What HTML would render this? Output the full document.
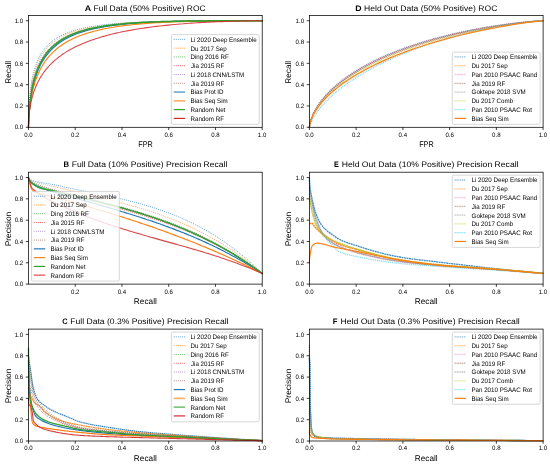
<!DOCTYPE html>
<html><head><meta charset="utf-8"><title>Figure</title>
<style>html,body{margin:0;padding:0;background:#fff;}svg{display:block;filter:blur(0.3px);}</style></head>
<body><svg text-rendering="geometricPrecision" width="550" height="466" viewBox="0 0 550 466" font-family="'Liberation Sans', sans-serif" fill="#000">
<rect width="550" height="466" fill="#fff"/>
<path d="M28.5,127.3L28.5,127.2L28.5,127.1L28.5,127.0L28.5,126.9L28.5,126.8L28.5,126.7L28.5,126.6L28.5,126.5L28.5,126.4L28.5,126.3L28.5,126.2L28.5,126.1L28.5,126.0L28.5,125.9L28.5,125.7L28.5,125.6L28.5,125.4L28.5,125.2L28.5,125.0L28.5,124.8L28.5,124.6L28.5,124.3L28.5,124.1L28.5,123.8L28.5,123.5L28.5,123.1L28.5,122.8L28.5,122.4L28.5,122.0L28.6,121.6L28.6,121.2L28.6,120.7L28.6,120.2L28.6,119.7L28.6,119.1L28.6,118.5L28.6,117.9L28.6,117.2L28.7,116.5L28.7,115.8L28.7,115.1L28.7,114.3L28.8,113.5L28.8,112.6L28.8,111.7L28.9,110.8L28.9,109.8L28.9,108.8L29.0,107.8L29.1,106.7L29.1,105.6L29.2,104.5L29.2,103.3L29.3,102.1L29.4,100.8L29.5,99.5L29.6,98.2L29.7,96.9L29.9,95.5L30.0,94.1L30.1,92.7L30.3,91.3L30.5,89.8L30.6,88.3L30.8,86.8L31.1,85.3L31.3,83.8L31.6,82.2L31.8,80.7L32.1,79.1L32.4,77.5L32.8,75.9L33.1,74.3L33.5,72.7L33.9,71.2L34.4,69.6L34.9,68.0L35.4,66.4L35.9,64.9L36.5,63.3L37.1,61.8L37.7,60.3L38.4,58.8L39.2,57.3L39.9,55.9L40.7,54.4L41.6,53.0L42.5,51.7L43.5,50.3L44.5,49.0L45.5,47.7L46.6,46.5L47.8,45.2L49.0,44.0L50.3,42.9L51.6,41.8L53.0,40.7L54.5,39.6L56.0,38.6L57.5,37.6L59.2,36.7L60.9,35.8L62.6,34.9L64.5,34.1L66.3,33.3L68.3,32.5L70.3,31.8L72.4,31.1L74.5,30.4L76.7,29.8L79.0,29.2L81.3,28.6L83.7,28.1L86.1,27.5L88.6,27.1L91.1,26.6L93.7,26.2L96.4,25.8L99.1,25.4L101.8,25.0L104.6,24.7L107.5,24.4L110.4,24.1L113.3,23.8L116.2,23.6L119.2,23.3L122.2,23.1L125.2,22.9L128.3,22.7L131.4,22.5L134.5,22.4L137.6,22.2L140.7,22.1L143.8,22.0L146.9,21.9L150.0,21.7L153.1,21.6L156.2,21.6L159.3,21.5L162.4,21.4L165.5,21.3L168.5,21.3L171.5,21.2L174.5,21.2L177.4,21.1L180.3,21.1L183.2,21.0L186.1,21.0L188.9,21.0L191.6,20.9L194.3,20.9L197.0,20.9L199.6,20.9L202.1,20.9L204.6,20.8L207.0,20.8L209.4,20.8L211.7,20.8L214.0,20.8L216.2,20.8L218.3,20.8L220.4,20.8L222.4,20.8L224.4,20.8L226.2,20.8L228.1,20.8L229.8,20.8L231.5,20.8L233.2,20.7L234.7,20.7L236.2,20.7L237.7,20.7L239.1,20.7L240.4,20.7L241.7,20.7L242.9,20.7L244.1,20.7L245.2,20.7L246.2,20.7L247.2,20.7L248.2,20.7L249.1,20.7L250.0,20.7L250.8,20.7L251.5,20.7L252.3,20.7L253.0,20.7L253.6,20.7L254.2,20.7L254.8,20.7L255.3,20.7L255.8,20.7L256.3,20.7L256.8,20.7L257.2,20.7L257.6,20.7L257.9,20.7L258.3,20.7L258.6,20.7L258.9,20.7L259.1,20.7L259.4,20.7L259.6,20.7L259.9,20.7L260.1,20.7L260.2,20.7L260.4,20.7L260.6,20.7L260.7,20.7L260.8,20.7L261.0,20.7L261.1,20.7L261.2,20.7L261.3,20.7L261.4,20.7L261.5,20.7L261.6,20.7L261.7,20.7L261.8,20.7L261.9,20.7L262.0,20.7L262.1,20.7L262.2,20.7" fill="none" stroke="#1f77b4" stroke-width="1.0" stroke-dasharray="0.9 1.2" stroke-opacity="0.75" stroke-linecap="butt" stroke-linejoin="round"/>
<path d="M28.5,127.3L28.5,127.2L28.5,127.1L28.5,127.0L28.5,126.9L28.5,126.8L28.5,126.7L28.5,126.6L28.5,126.5L28.5,126.4L28.5,126.3L28.5,126.2L28.5,126.1L28.5,126.0L28.5,125.9L28.5,125.7L28.5,125.6L28.5,125.4L28.5,125.2L28.5,125.0L28.5,124.8L28.5,124.6L28.5,124.4L28.5,124.1L28.5,123.8L28.5,123.5L28.5,123.2L28.5,122.9L28.5,122.5L28.6,122.1L28.6,121.7L28.6,121.3L28.6,120.8L28.6,120.3L28.6,119.8L28.6,119.3L28.6,118.7L28.6,118.1L28.7,117.4L28.7,116.8L28.7,116.1L28.7,115.3L28.8,114.6L28.8,113.7L28.8,112.9L28.9,112.0L28.9,111.1L28.9,110.2L29.0,109.2L29.1,108.2L29.1,107.1L29.2,106.0L29.2,104.9L29.3,103.7L29.4,102.5L29.5,101.3L29.6,100.1L29.7,98.8L29.9,97.5L30.0,96.1L30.1,94.7L30.3,93.3L30.5,91.9L30.6,90.5L30.8,89.0L31.1,87.5L31.3,86.0L31.6,84.5L31.8,82.9L32.1,81.4L32.4,79.8L32.8,78.3L33.1,76.7L33.5,75.1L33.9,73.5L34.4,72.0L34.9,70.4L35.4,68.8L35.9,67.3L36.5,65.7L37.1,64.2L37.7,62.6L38.4,61.1L39.2,59.6L39.9,58.1L40.7,56.7L41.6,55.3L42.5,53.8L43.5,52.5L44.5,51.1L45.5,49.8L46.6,48.5L47.8,47.2L49.0,46.0L50.3,44.8L51.6,43.6L53.0,42.5L54.5,41.4L56.0,40.3L57.5,39.3L59.2,38.3L60.9,37.3L62.6,36.4L64.5,35.5L66.3,34.6L68.3,33.8L70.3,33.0L72.4,32.3L74.5,31.5L76.7,30.9L79.0,30.2L81.3,29.6L83.7,29.0L86.1,28.4L88.6,27.9L91.1,27.4L93.7,26.9L96.4,26.5L99.1,26.1L101.8,25.7L104.6,25.3L107.5,24.9L110.4,24.6L113.3,24.3L116.2,24.0L119.2,23.8L122.2,23.5L125.2,23.3L128.3,23.1L131.4,22.9L134.5,22.7L137.6,22.5L140.7,22.4L143.8,22.2L146.9,22.1L150.0,21.9L153.1,21.8L156.2,21.7L159.3,21.6L162.4,21.5L165.5,21.5L168.5,21.4L171.5,21.3L174.5,21.3L177.4,21.2L180.3,21.2L183.2,21.1L186.1,21.1L188.9,21.0L191.6,21.0L194.3,21.0L197.0,20.9L199.6,20.9L202.1,20.9L204.6,20.9L207.0,20.9L209.4,20.8L211.7,20.8L214.0,20.8L216.2,20.8L218.3,20.8L220.4,20.8L222.4,20.8L224.4,20.8L226.2,20.8L228.1,20.8L229.8,20.8L231.5,20.8L233.2,20.8L234.7,20.8L236.2,20.7L237.7,20.7L239.1,20.7L240.4,20.7L241.7,20.7L242.9,20.7L244.1,20.7L245.2,20.7L246.2,20.7L247.2,20.7L248.2,20.7L249.1,20.7L250.0,20.7L250.8,20.7L251.5,20.7L252.3,20.7L253.0,20.7L253.6,20.7L254.2,20.7L254.8,20.7L255.3,20.7L255.8,20.7L256.3,20.7L256.8,20.7L257.2,20.7L257.6,20.7L257.9,20.7L258.3,20.7L258.6,20.7L258.9,20.7L259.1,20.7L259.4,20.7L259.6,20.7L259.9,20.7L260.1,20.7L260.2,20.7L260.4,20.7L260.6,20.7L260.7,20.7L260.8,20.7L261.0,20.7L261.1,20.7L261.2,20.7L261.3,20.7L261.4,20.7L261.5,20.7L261.6,20.7L261.7,20.7L261.8,20.7L261.9,20.7L262.0,20.7L262.1,20.7L262.2,20.7" fill="none" stroke="#ff7f0e" stroke-width="1.0" stroke-dasharray="0.9 1.2" stroke-opacity="0.75" stroke-linecap="butt" stroke-linejoin="round"/>
<path d="M28.5,127.3L28.5,127.2L28.5,127.1L28.5,127.0L28.5,126.9L28.5,126.8L28.5,126.7L28.5,126.6L28.5,126.5L28.5,126.4L28.5,126.3L28.5,126.2L28.5,126.1L28.5,126.0L28.5,125.8L28.5,125.7L28.5,125.5L28.5,125.4L28.5,125.2L28.5,125.0L28.5,124.7L28.5,124.5L28.5,124.3L28.5,124.0L28.5,123.7L28.6,123.4L28.6,123.0L28.6,122.7L28.6,122.3L28.6,121.9L28.6,121.5L28.6,121.0L28.6,120.5L28.6,120.0L28.7,119.5L28.7,118.9L28.7,118.3L28.7,117.6L28.8,116.9L28.8,116.2L28.8,115.5L28.9,114.7L28.9,113.9L28.9,113.1L29.0,112.2L29.1,111.2L29.1,110.3L29.2,109.3L29.2,108.2L29.3,107.2L29.4,106.1L29.5,104.9L29.6,103.8L29.7,102.5L29.9,101.3L30.0,100.0L30.1,98.7L30.3,97.4L30.5,96.0L30.6,94.6L30.8,93.2L31.1,91.7L31.3,90.2L31.6,88.7L31.8,87.2L32.1,85.7L32.4,84.1L32.8,82.5L33.1,81.0L33.5,79.4L33.9,77.8L34.4,76.2L34.9,74.6L35.4,73.0L35.9,71.4L36.5,69.8L37.1,68.2L37.7,66.6L38.4,65.0L39.2,63.4L39.9,61.9L40.7,60.4L41.6,58.8L42.5,57.3L43.5,55.9L44.5,54.4L45.5,53.0L46.6,51.6L47.8,50.3L49.0,48.9L50.3,47.6L51.6,46.3L53.0,45.1L54.5,43.9L56.0,42.7L57.5,41.6L59.2,40.5L60.9,39.5L62.6,38.4L64.5,37.4L66.3,36.5L68.3,35.6L70.3,34.7L72.4,33.9L74.5,33.1L76.7,32.3L79.0,31.6L81.3,30.9L83.7,30.2L86.1,29.6L88.6,29.0L91.1,28.4L93.7,27.9L96.4,27.4L99.1,26.9L101.8,26.4L104.6,26.0L107.5,25.6L110.4,25.2L113.3,24.9L116.2,24.5L119.2,24.2L122.2,24.0L125.2,23.7L128.3,23.4L131.4,23.2L134.5,23.0L137.6,22.8L140.7,22.6L143.8,22.4L146.9,22.3L150.0,22.1L153.1,22.0L156.2,21.9L159.3,21.8L162.4,21.7L165.5,21.6L168.5,21.5L171.5,21.4L174.5,21.4L177.4,21.3L180.3,21.2L183.2,21.2L186.1,21.1L188.9,21.1L191.6,21.1L194.3,21.0L197.0,21.0L199.6,21.0L202.1,20.9L204.6,20.9L207.0,20.9L209.4,20.9L211.7,20.9L214.0,20.8L216.2,20.8L218.3,20.8L220.4,20.8L222.4,20.8L224.4,20.8L226.2,20.8L228.1,20.8L229.8,20.8L231.5,20.8L233.2,20.8L234.7,20.8L236.2,20.7L237.7,20.7L239.1,20.7L240.4,20.7L241.7,20.7L242.9,20.7L244.1,20.7L245.2,20.7L246.2,20.7L247.2,20.7L248.2,20.7L249.1,20.7L250.0,20.7L250.8,20.7L251.5,20.7L252.3,20.7L253.0,20.7L253.6,20.7L254.2,20.7L254.8,20.7L255.3,20.7L255.8,20.7L256.3,20.7L256.8,20.7L257.2,20.7L257.6,20.7L257.9,20.7L258.3,20.7L258.6,20.7L258.9,20.7L259.1,20.7L259.4,20.7L259.6,20.7L259.9,20.7L260.1,20.7L260.2,20.7L260.4,20.7L260.6,20.7L260.7,20.7L260.8,20.7L261.0,20.7L261.1,20.7L261.2,20.7L261.3,20.7L261.4,20.7L261.5,20.7L261.6,20.7L261.7,20.7L261.8,20.7L261.9,20.7L262.0,20.7L262.1,20.7L262.2,20.7" fill="none" stroke="#2ca02c" stroke-width="1.0" stroke-dasharray="0.9 1.2" stroke-opacity="0.75" stroke-linecap="butt" stroke-linejoin="round"/>
<path d="M28.5,127.3L28.5,127.2L28.5,127.1L28.5,127.0L28.5,126.9L28.5,126.8L28.5,126.7L28.5,126.6L28.5,126.5L28.5,126.4L28.5,126.3L28.5,126.2L28.5,126.1L28.5,126.0L28.5,125.8L28.5,125.7L28.5,125.5L28.5,125.4L28.5,125.2L28.5,125.0L28.5,124.8L28.5,124.5L28.5,124.3L28.5,124.0L28.5,123.7L28.6,123.4L28.6,123.1L28.6,122.7L28.6,122.4L28.6,122.0L28.6,121.5L28.6,121.1L28.6,120.6L28.6,120.1L28.7,119.6L28.7,119.0L28.7,118.4L28.7,117.8L28.8,117.1L28.8,116.4L28.8,115.7L28.9,114.9L28.9,114.1L28.9,113.3L29.0,112.4L29.1,111.5L29.1,110.6L29.2,109.6L29.2,108.6L29.3,107.6L29.4,106.5L29.5,105.3L29.6,104.2L29.7,103.0L29.9,101.8L30.0,100.5L30.1,99.2L30.3,97.9L30.5,96.6L30.6,95.2L30.8,93.8L31.1,92.4L31.3,90.9L31.6,89.4L31.8,87.9L32.1,86.4L32.4,84.9L32.8,83.3L33.1,81.8L33.5,80.2L33.9,78.6L34.4,77.0L34.9,75.5L35.4,73.9L35.9,72.3L36.5,70.7L37.1,69.1L37.7,67.5L38.4,65.9L39.2,64.4L39.9,62.8L40.7,61.3L41.6,59.8L42.5,58.3L43.5,56.8L44.5,55.4L45.5,54.0L46.6,52.6L47.8,51.2L49.0,49.9L50.3,48.5L51.6,47.3L53.0,46.0L54.5,44.8L56.0,43.6L57.5,42.5L59.2,41.3L60.9,40.3L62.6,39.2L64.5,38.2L66.3,37.3L68.3,36.3L70.3,35.4L72.4,34.6L74.5,33.7L76.7,32.9L79.0,32.2L81.3,31.5L83.7,30.8L86.1,30.1L88.6,29.5L91.1,28.9L93.7,28.4L96.4,27.8L99.1,27.3L101.8,26.8L104.6,26.4L107.5,26.0L110.4,25.6L113.3,25.2L116.2,24.9L119.2,24.5L122.2,24.2L125.2,24.0L128.3,23.7L131.4,23.4L134.5,23.2L137.6,23.0L140.7,22.8L143.8,22.6L146.9,22.5L150.0,22.3L153.1,22.2L156.2,22.0L159.3,21.9L162.4,21.8L165.5,21.7L168.5,21.6L171.5,21.5L174.5,21.4L177.4,21.4L180.3,21.3L183.2,21.2L186.1,21.2L188.9,21.1L191.6,21.1L194.3,21.1L197.0,21.0L199.6,21.0L202.1,21.0L204.6,20.9L207.0,20.9L209.4,20.9L211.7,20.9L214.0,20.9L216.2,20.8L218.3,20.8L220.4,20.8L222.4,20.8L224.4,20.8L226.2,20.8L228.1,20.8L229.8,20.8L231.5,20.8L233.2,20.8L234.7,20.8L236.2,20.8L237.7,20.8L239.1,20.7L240.4,20.7L241.7,20.7L242.9,20.7L244.1,20.7L245.2,20.7L246.2,20.7L247.2,20.7L248.2,20.7L249.1,20.7L250.0,20.7L250.8,20.7L251.5,20.7L252.3,20.7L253.0,20.7L253.6,20.7L254.2,20.7L254.8,20.7L255.3,20.7L255.8,20.7L256.3,20.7L256.8,20.7L257.2,20.7L257.6,20.7L257.9,20.7L258.3,20.7L258.6,20.7L258.9,20.7L259.1,20.7L259.4,20.7L259.6,20.7L259.9,20.7L260.1,20.7L260.2,20.7L260.4,20.7L260.6,20.7L260.7,20.7L260.8,20.7L261.0,20.7L261.1,20.7L261.2,20.7L261.3,20.7L261.4,20.7L261.5,20.7L261.6,20.7L261.7,20.7L261.8,20.7L261.9,20.7L262.0,20.7L262.1,20.7L262.2,20.7" fill="none" stroke="#d62728" stroke-width="1.0" stroke-dasharray="0.9 1.2" stroke-opacity="0.75" stroke-linecap="butt" stroke-linejoin="round"/>
<path d="M28.5,127.3L28.5,127.2L28.5,127.1L28.5,127.0L28.5,126.9L28.5,126.8L28.5,126.7L28.5,126.6L28.5,126.5L28.5,126.4L28.5,126.3L28.5,126.2L28.5,126.1L28.5,126.0L28.5,125.9L28.5,125.7L28.5,125.6L28.5,125.4L28.5,125.2L28.5,125.0L28.5,124.8L28.5,124.6L28.5,124.3L28.5,124.1L28.5,123.8L28.5,123.5L28.6,123.2L28.6,122.8L28.6,122.4L28.6,122.0L28.6,121.6L28.6,121.2L28.6,120.7L28.6,120.2L28.6,119.7L28.7,119.1L28.7,118.5L28.7,117.9L28.7,117.3L28.8,116.6L28.8,115.8L28.8,115.1L28.9,114.3L28.9,113.5L28.9,112.6L29.0,111.7L29.1,110.8L29.1,109.8L29.2,108.8L29.2,107.8L29.3,106.7L29.4,105.6L29.5,104.4L29.6,103.2L29.7,102.0L29.9,100.8L30.0,99.5L30.1,98.2L30.3,96.8L30.5,95.5L30.6,94.1L30.8,92.6L31.1,91.2L31.3,89.7L31.6,88.2L31.8,86.7L32.1,85.2L32.4,83.6L32.8,82.1L33.1,80.5L33.5,78.9L33.9,77.4L34.4,75.8L34.9,74.2L35.4,72.6L35.9,71.0L36.5,69.4L37.1,67.8L37.7,66.3L38.4,64.7L39.2,63.2L39.9,61.6L40.7,60.1L41.6,58.6L42.5,57.1L43.5,55.7L44.5,54.2L45.5,52.8L46.6,51.5L47.8,50.1L49.0,48.8L50.3,47.5L51.6,46.3L53.0,45.0L54.5,43.8L56.0,42.7L57.5,41.6L59.2,40.5L60.9,39.4L62.6,38.4L64.5,37.4L66.3,36.5L68.3,35.6L70.3,34.7L72.4,33.9L74.5,33.1L76.7,32.3L79.0,31.6L81.3,30.9L83.7,30.3L86.1,29.6L88.6,29.0L91.1,28.5L93.7,27.9L96.4,27.4L99.1,26.9L101.8,26.5L104.6,26.1L107.5,25.7L110.4,25.3L113.3,24.9L116.2,24.6L119.2,24.3L122.2,24.0L125.2,23.7L128.3,23.5L131.4,23.3L134.5,23.0L137.6,22.8L140.7,22.7L143.8,22.5L146.9,22.3L150.0,22.2L153.1,22.1L156.2,21.9L159.3,21.8L162.4,21.7L165.5,21.6L168.5,21.5L171.5,21.5L174.5,21.4L177.4,21.3L180.3,21.3L183.2,21.2L186.1,21.2L188.9,21.1L191.6,21.1L194.3,21.0L197.0,21.0L199.6,21.0L202.1,20.9L204.6,20.9L207.0,20.9L209.4,20.9L211.7,20.9L214.0,20.8L216.2,20.8L218.3,20.8L220.4,20.8L222.4,20.8L224.4,20.8L226.2,20.8L228.1,20.8L229.8,20.8L231.5,20.8L233.2,20.8L234.7,20.8L236.2,20.8L237.7,20.7L239.1,20.7L240.4,20.7L241.7,20.7L242.9,20.7L244.1,20.7L245.2,20.7L246.2,20.7L247.2,20.7L248.2,20.7L249.1,20.7L250.0,20.7L250.8,20.7L251.5,20.7L252.3,20.7L253.0,20.7L253.6,20.7L254.2,20.7L254.8,20.7L255.3,20.7L255.8,20.7L256.3,20.7L256.8,20.7L257.2,20.7L257.6,20.7L257.9,20.7L258.3,20.7L258.6,20.7L258.9,20.7L259.1,20.7L259.4,20.7L259.6,20.7L259.9,20.7L260.1,20.7L260.2,20.7L260.4,20.7L260.6,20.7L260.7,20.7L260.8,20.7L261.0,20.7L261.1,20.7L261.2,20.7L261.3,20.7L261.4,20.7L261.5,20.7L261.6,20.7L261.7,20.7L261.8,20.7L261.9,20.7L262.0,20.7L262.1,20.7L262.2,20.7" fill="none" stroke="#9467bd" stroke-width="1.0" stroke-dasharray="0.9 1.2" stroke-opacity="0.75" stroke-linecap="butt" stroke-linejoin="round"/>
<path d="M28.5,127.3L28.5,127.2L28.5,127.1L28.5,127.0L28.5,126.9L28.5,126.8L28.5,126.7L28.5,126.6L28.5,126.5L28.5,126.4L28.5,126.3L28.5,126.2L28.5,126.1L28.5,126.0L28.5,125.9L28.5,125.7L28.5,125.6L28.5,125.4L28.5,125.2L28.5,125.0L28.5,124.8L28.5,124.6L28.5,124.3L28.5,124.0L28.6,123.8L28.6,123.4L28.6,123.1L28.6,122.8L28.6,122.4L28.6,122.0L28.6,121.6L28.6,121.1L28.6,120.6L28.7,120.1L28.7,119.6L28.7,119.0L28.7,118.4L28.8,117.8L28.8,117.2L28.8,116.5L28.9,115.7L28.9,115.0L28.9,114.2L29.0,113.4L29.1,112.5L29.1,111.6L29.2,110.7L29.2,109.7L29.3,108.7L29.4,107.6L29.5,106.5L29.6,105.4L29.7,104.3L29.9,103.1L30.0,101.9L30.1,100.6L30.3,99.3L30.5,98.0L30.6,96.7L30.8,95.3L31.1,93.9L31.3,92.5L31.6,91.0L31.8,89.5L32.1,88.0L32.4,86.5L32.8,85.0L33.1,83.4L33.5,81.9L33.9,80.3L34.4,78.7L34.9,77.2L35.4,75.6L35.9,74.0L36.5,72.4L37.1,70.8L37.7,69.2L38.4,67.6L39.2,66.1L39.9,64.5L40.7,62.9L41.6,61.4L42.5,59.9L43.5,58.4L44.5,56.9L45.5,55.5L46.6,54.1L47.8,52.7L49.0,51.3L50.3,49.9L51.6,48.6L53.0,47.3L54.5,46.1L56.0,44.9L57.5,43.7L59.2,42.5L60.9,41.4L62.6,40.3L64.5,39.3L66.3,38.3L68.3,37.3L70.3,36.4L72.4,35.5L74.5,34.6L76.7,33.8L79.0,33.0L81.3,32.2L83.7,31.5L86.1,30.8L88.6,30.2L91.1,29.5L93.7,29.0L96.4,28.4L99.1,27.9L101.8,27.4L104.6,26.9L107.5,26.4L110.4,26.0L113.3,25.6L116.2,25.2L119.2,24.9L122.2,24.6L125.2,24.3L128.3,24.0L131.4,23.7L134.5,23.5L137.6,23.2L140.7,23.0L143.8,22.8L146.9,22.6L150.0,22.5L153.1,22.3L156.2,22.2L159.3,22.0L162.4,21.9L165.5,21.8L168.5,21.7L171.5,21.6L174.5,21.5L177.4,21.4L180.3,21.4L183.2,21.3L186.1,21.2L188.9,21.2L191.6,21.1L194.3,21.1L197.0,21.1L199.6,21.0L202.1,21.0L204.6,21.0L207.0,20.9L209.4,20.9L211.7,20.9L214.0,20.9L216.2,20.9L218.3,20.8L220.4,20.8L222.4,20.8L224.4,20.8L226.2,20.8L228.1,20.8L229.8,20.8L231.5,20.8L233.2,20.8L234.7,20.8L236.2,20.8L237.7,20.8L239.1,20.8L240.4,20.7L241.7,20.7L242.9,20.7L244.1,20.7L245.2,20.7L246.2,20.7L247.2,20.7L248.2,20.7L249.1,20.7L250.0,20.7L250.8,20.7L251.5,20.7L252.3,20.7L253.0,20.7L253.6,20.7L254.2,20.7L254.8,20.7L255.3,20.7L255.8,20.7L256.3,20.7L256.8,20.7L257.2,20.7L257.6,20.7L257.9,20.7L258.3,20.7L258.6,20.7L258.9,20.7L259.1,20.7L259.4,20.7L259.6,20.7L259.9,20.7L260.1,20.7L260.2,20.7L260.4,20.7L260.6,20.7L260.7,20.7L260.8,20.7L261.0,20.7L261.1,20.7L261.2,20.7L261.3,20.7L261.4,20.7L261.5,20.7L261.6,20.7L261.7,20.7L261.8,20.7L261.9,20.7L262.0,20.7L262.1,20.7L262.2,20.7" fill="none" stroke="#8c564b" stroke-width="1.0" stroke-dasharray="0.9 1.2" stroke-opacity="0.75" stroke-linecap="butt" stroke-linejoin="round"/>
<path d="M28.5,127.3L28.5,127.2L28.5,127.1L28.5,127.0L28.5,126.9L28.5,126.8L28.5,126.7L28.5,126.6L28.5,126.5L28.5,126.4L28.5,126.3L28.5,126.2L28.5,126.1L28.5,126.0L28.5,125.8L28.5,125.7L28.5,125.5L28.5,125.3L28.5,125.1L28.5,124.9L28.6,124.7L28.6,124.4L28.6,124.2L28.6,123.9L28.6,123.6L28.6,123.2L28.6,122.9L28.6,122.5L28.6,122.1L28.7,121.7L28.7,121.2L28.7,120.7L28.7,120.2L28.8,119.6L28.8,119.0L28.8,118.4L28.9,117.7L28.9,117.1L28.9,116.3L29.0,115.6L29.1,114.8L29.1,113.9L29.2,113.0L29.2,112.1L29.3,111.2L29.4,110.2L29.5,109.1L29.6,108.0L29.7,106.9L29.9,105.8L30.0,104.6L30.1,103.3L30.3,102.1L30.5,100.8L30.6,99.4L30.8,98.1L31.1,96.7L31.3,95.2L31.6,93.7L31.8,92.3L32.1,90.7L32.4,89.2L32.8,87.6L33.1,86.0L33.5,84.4L33.9,82.8L34.4,81.2L34.9,79.5L35.4,77.9L35.9,76.2L36.5,74.6L37.1,72.9L37.7,71.2L38.4,69.6L39.2,67.9L39.9,66.3L40.7,64.6L41.6,63.0L42.5,61.4L43.5,59.9L44.5,58.3L45.5,56.8L46.6,55.2L47.8,53.8L49.0,52.3L50.3,50.9L51.6,49.5L53.0,48.1L54.5,46.8L56.0,45.5L57.5,44.2L59.2,43.0L60.9,41.8L62.6,40.7L64.5,39.6L66.3,38.5L68.3,37.5L70.3,36.5L72.4,35.6L74.5,34.7L76.7,33.8L79.0,33.0L81.3,32.2L83.7,31.4L86.1,30.7L88.6,30.0L91.1,29.4L93.7,28.8L96.4,28.2L99.1,27.7L101.8,27.2L104.6,26.7L107.5,26.2L110.4,25.8L113.3,25.4L116.2,25.0L119.2,24.7L122.2,24.3L125.2,24.0L128.3,23.8L131.4,23.5L134.5,23.3L137.6,23.0L140.7,22.8L143.8,22.6L146.9,22.5L150.0,22.3L153.1,22.1L156.2,22.0L159.3,21.9L162.4,21.8L165.5,21.7L168.5,21.6L171.5,21.5L174.5,21.4L177.4,21.3L180.3,21.3L183.2,21.2L186.1,21.2L188.9,21.1L191.6,21.1L194.3,21.0L197.0,21.0L199.6,21.0L202.1,20.9L204.6,20.9L207.0,20.9L209.4,20.9L211.7,20.9L214.0,20.8L216.2,20.8L218.3,20.8L220.4,20.8L222.4,20.8L224.4,20.8L226.2,20.8L228.1,20.8L229.8,20.8L231.5,20.8L233.2,20.8L234.7,20.8L236.2,20.7L237.7,20.7L239.1,20.7L240.4,20.7L241.7,20.7L242.9,20.7L244.1,20.7L245.2,20.7L246.2,20.7L247.2,20.7L248.2,20.7L249.1,20.7L250.0,20.7L250.8,20.7L251.5,20.7L252.3,20.7L253.0,20.7L253.6,20.7L254.2,20.7L254.8,20.7L255.3,20.7L255.8,20.7L256.3,20.7L256.8,20.7L257.2,20.7L257.6,20.7L257.9,20.7L258.3,20.7L258.6,20.7L258.9,20.7L259.1,20.7L259.4,20.7L259.6,20.7L259.9,20.7L260.1,20.7L260.2,20.7L260.4,20.7L260.6,20.7L260.7,20.7L260.8,20.7L261.0,20.7L261.1,20.7L261.2,20.7L261.3,20.7L261.4,20.7L261.5,20.7L261.6,20.7L261.7,20.7L261.8,20.7L261.9,20.7L262.0,20.7L262.1,20.7L262.2,20.7" fill="none" stroke="#1f77b4" stroke-width="1.1" stroke-linecap="square" stroke-linejoin="round"/>
<path d="M28.5,127.3L28.5,127.2L28.5,127.1L28.5,127.0L28.5,126.9L28.5,126.8L28.5,126.7L28.5,126.6L28.5,126.5L28.5,126.4L28.5,126.3L28.5,126.2L28.5,126.1L28.5,126.0L28.5,125.9L28.5,125.7L28.5,125.6L28.5,125.4L28.5,125.2L28.5,125.1L28.5,124.8L28.6,124.6L28.6,124.4L28.6,124.1L28.6,123.8L28.6,123.5L28.6,123.2L28.6,122.9L28.6,122.5L28.6,122.1L28.7,121.7L28.7,121.3L28.7,120.8L28.7,120.3L28.8,119.8L28.8,119.3L28.8,118.7L28.9,118.1L28.9,117.4L28.9,116.7L29.0,116.0L29.1,115.3L29.1,114.5L29.2,113.7L29.2,112.9L29.3,112.0L29.4,111.1L29.5,110.1L29.6,109.1L29.7,108.1L29.9,107.0L30.0,105.9L30.1,104.8L30.3,103.6L30.5,102.4L30.6,101.2L30.8,99.9L31.1,98.6L31.3,97.3L31.6,96.0L31.8,94.6L32.1,93.2L32.4,91.7L32.8,90.3L33.1,88.8L33.5,87.3L33.9,85.8L34.4,84.3L34.9,82.7L35.4,81.2L35.9,79.6L36.5,78.0L37.1,76.4L37.7,74.9L38.4,73.3L39.2,71.7L39.9,70.1L40.7,68.5L41.6,67.0L42.5,65.4L43.5,63.9L44.5,62.3L45.5,60.8L46.6,59.3L47.8,57.9L49.0,56.4L50.3,55.0L51.6,53.6L53.0,52.2L54.5,50.8L56.0,49.5L57.5,48.2L59.2,46.9L60.9,45.7L62.6,44.5L64.5,43.3L66.3,42.2L68.3,41.1L70.3,40.0L72.4,39.0L74.5,38.0L76.7,37.0L79.0,36.1L81.3,35.2L83.7,34.4L86.1,33.6L88.6,32.8L91.1,32.1L93.7,31.3L96.4,30.7L99.1,30.0L101.8,29.4L104.6,28.8L107.5,28.3L110.4,27.7L113.3,27.3L116.2,26.8L119.2,26.3L122.2,25.9L125.2,25.5L128.3,25.2L131.4,24.8L134.5,24.5L137.6,24.2L140.7,23.9L143.8,23.7L146.9,23.4L150.0,23.2L153.1,23.0L156.2,22.8L159.3,22.6L162.4,22.4L165.5,22.3L168.5,22.2L171.5,22.0L174.5,21.9L177.4,21.8L180.3,21.7L183.2,21.6L186.1,21.5L188.9,21.4L191.6,21.4L194.3,21.3L197.0,21.2L199.6,21.2L202.1,21.1L204.6,21.1L207.0,21.1L209.4,21.0L211.7,21.0L214.0,21.0L216.2,20.9L218.3,20.9L220.4,20.9L222.4,20.9L224.4,20.9L226.2,20.8L228.1,20.8L229.8,20.8L231.5,20.8L233.2,20.8L234.7,20.8L236.2,20.8L237.7,20.8L239.1,20.8L240.4,20.8L241.7,20.8L242.9,20.8L244.1,20.8L245.2,20.7L246.2,20.7L247.2,20.7L248.2,20.7L249.1,20.7L250.0,20.7L250.8,20.7L251.5,20.7L252.3,20.7L253.0,20.7L253.6,20.7L254.2,20.7L254.8,20.7L255.3,20.7L255.8,20.7L256.3,20.7L256.8,20.7L257.2,20.7L257.6,20.7L257.9,20.7L258.3,20.7L258.6,20.7L258.9,20.7L259.1,20.7L259.4,20.7L259.6,20.7L259.9,20.7L260.1,20.7L260.2,20.7L260.4,20.7L260.6,20.7L260.7,20.7L260.8,20.7L261.0,20.7L261.1,20.7L261.2,20.7L261.3,20.7L261.4,20.7L261.5,20.7L261.6,20.7L261.7,20.7L261.8,20.7L261.9,20.7L262.0,20.7L262.1,20.7L262.2,20.7" fill="none" stroke="#ff7f0e" stroke-width="1.1" stroke-linecap="square" stroke-linejoin="round"/>
<path d="M28.5,127.3L28.5,127.2L28.5,127.1L28.5,127.0L28.5,126.9L28.5,126.8L28.5,126.7L28.5,126.6L28.5,126.5L28.5,126.4L28.5,126.3L28.5,126.1L28.5,126.0L28.5,125.9L28.5,125.7L28.5,125.6L28.5,125.4L28.5,125.2L28.5,125.0L28.5,124.7L28.6,124.5L28.6,124.2L28.6,123.9L28.6,123.6L28.6,123.3L28.6,122.9L28.6,122.6L28.6,122.2L28.6,121.7L28.7,121.3L28.7,120.8L28.7,120.2L28.7,119.7L28.8,119.1L28.8,118.5L28.8,117.8L28.9,117.1L28.9,116.4L28.9,115.6L29.0,114.8L29.1,113.9L29.1,113.1L29.2,112.1L29.2,111.2L29.3,110.2L29.4,109.1L29.5,108.0L29.6,106.9L29.7,105.7L29.9,104.5L30.0,103.3L30.1,102.0L30.3,100.7L30.5,99.3L30.6,97.9L30.8,96.5L31.1,95.1L31.3,93.6L31.6,92.1L31.8,90.5L32.1,89.0L32.4,87.4L32.8,85.8L33.1,84.2L33.5,82.5L33.9,80.9L34.4,79.2L34.9,77.5L35.4,75.9L35.9,74.2L36.5,72.5L37.1,70.8L37.7,69.2L38.4,67.5L39.2,65.9L39.9,64.2L40.7,62.6L41.6,61.0L42.5,59.4L43.5,57.8L44.5,56.3L45.5,54.8L46.6,53.3L47.8,51.8L49.0,50.4L50.3,49.0L51.6,47.6L53.0,46.3L54.5,45.0L56.0,43.8L57.5,42.6L59.2,41.4L60.9,40.2L62.6,39.2L64.5,38.1L66.3,37.1L68.3,36.1L70.3,35.2L72.4,34.3L74.5,33.4L76.7,32.6L79.0,31.8L81.3,31.1L83.7,30.4L86.1,29.7L88.6,29.1L91.1,28.5L93.7,27.9L96.4,27.4L99.1,26.9L101.8,26.4L104.6,26.0L107.5,25.6L110.4,25.2L113.3,24.8L116.2,24.5L119.2,24.2L122.2,23.9L125.2,23.6L128.3,23.3L131.4,23.1L134.5,22.9L137.6,22.7L140.7,22.5L143.8,22.3L146.9,22.2L150.0,22.0L153.1,21.9L156.2,21.8L159.3,21.7L162.4,21.6L165.5,21.5L168.5,21.4L171.5,21.4L174.5,21.3L177.4,21.2L180.3,21.2L183.2,21.1L186.1,21.1L188.9,21.0L191.6,21.0L194.3,21.0L197.0,20.9L199.6,20.9L202.1,20.9L204.6,20.9L207.0,20.9L209.4,20.8L211.7,20.8L214.0,20.8L216.2,20.8L218.3,20.8L220.4,20.8L222.4,20.8L224.4,20.8L226.2,20.8L228.1,20.8L229.8,20.8L231.5,20.8L233.2,20.7L234.7,20.7L236.2,20.7L237.7,20.7L239.1,20.7L240.4,20.7L241.7,20.7L242.9,20.7L244.1,20.7L245.2,20.7L246.2,20.7L247.2,20.7L248.2,20.7L249.1,20.7L250.0,20.7L250.8,20.7L251.5,20.7L252.3,20.7L253.0,20.7L253.6,20.7L254.2,20.7L254.8,20.7L255.3,20.7L255.8,20.7L256.3,20.7L256.8,20.7L257.2,20.7L257.6,20.7L257.9,20.7L258.3,20.7L258.6,20.7L258.9,20.7L259.1,20.7L259.4,20.7L259.6,20.7L259.9,20.7L260.1,20.7L260.2,20.7L260.4,20.7L260.6,20.7L260.7,20.7L260.8,20.7L261.0,20.7L261.1,20.7L261.2,20.7L261.3,20.7L261.4,20.7L261.5,20.7L261.6,20.7L261.7,20.7L261.8,20.7L261.9,20.7L262.0,20.7L262.1,20.7L262.2,20.7" fill="none" stroke="#2ca02c" stroke-width="1.5" stroke-linecap="square" stroke-linejoin="round"/>
<path d="M28.5,127.3L28.5,127.2L28.5,127.1L28.5,127.0L28.5,126.9L28.5,126.8L28.5,126.7L28.5,126.6L28.5,126.5L28.5,126.4L28.5,126.3L28.5,126.2L28.5,126.1L28.5,125.9L28.5,125.8L28.5,125.7L28.5,125.6L28.5,125.4L28.5,125.3L28.5,125.1L28.5,124.9L28.5,124.7L28.5,124.5L28.5,124.3L28.6,124.1L28.6,123.9L28.6,123.6L28.6,123.3L28.6,123.0L28.6,122.7L28.6,122.4L28.6,122.1L28.6,121.7L28.7,121.3L28.7,120.9L28.7,120.5L28.7,120.1L28.8,119.6L28.8,119.1L28.8,118.6L28.9,118.1L28.9,117.5L28.9,116.9L29.0,116.3L29.1,115.7L29.1,115.0L29.2,114.4L29.2,113.7L29.3,112.9L29.4,112.2L29.5,111.4L29.6,110.6L29.7,109.7L29.9,108.8L30.0,108.0L30.1,107.0L30.3,106.1L30.5,105.1L30.6,104.1L30.8,103.1L31.1,102.0L31.3,100.9L31.6,99.8L31.8,98.7L32.1,97.6L32.4,96.4L32.8,95.2L33.1,94.0L33.5,92.8L33.9,91.5L34.4,90.3L34.9,89.0L35.4,87.7L35.9,86.4L36.5,85.1L37.1,83.7L37.7,82.4L38.4,81.0L39.2,79.7L39.9,78.3L40.7,76.9L41.6,75.6L42.5,74.2L43.5,72.8L44.5,71.4L45.5,70.1L46.6,68.7L47.8,67.3L49.0,66.0L50.3,64.6L51.6,63.3L53.0,62.0L54.5,60.7L56.0,59.4L57.5,58.1L59.2,56.8L60.9,55.6L62.6,54.3L64.5,53.1L66.3,51.9L68.3,50.7L70.3,49.6L72.4,48.5L74.5,47.3L76.7,46.3L79.0,45.2L81.3,44.2L83.7,43.2L86.1,42.2L88.6,41.2L91.1,40.3L93.7,39.4L96.4,38.5L99.1,37.7L101.8,36.8L104.6,36.1L107.5,35.3L110.4,34.5L113.3,33.8L116.2,33.1L119.2,32.5L122.2,31.8L125.2,31.2L128.3,30.6L131.4,30.1L134.5,29.5L137.6,29.0L140.7,28.5L143.8,28.1L146.9,27.6L150.0,27.2L153.1,26.8L156.2,26.4L159.3,26.0L162.4,25.7L165.5,25.4L168.5,25.1L171.5,24.8L174.5,24.5L177.4,24.2L180.3,24.0L183.2,23.8L186.1,23.5L188.9,23.3L191.6,23.1L194.3,23.0L197.0,22.8L199.6,22.6L202.1,22.5L204.6,22.4L207.0,22.2L209.4,22.1L211.7,22.0L214.0,21.9L216.2,21.8L218.3,21.7L220.4,21.6L222.4,21.6L224.4,21.5L226.2,21.4L228.1,21.4L229.8,21.3L231.5,21.2L233.2,21.2L234.7,21.2L236.2,21.1L237.7,21.1L239.1,21.1L240.4,21.0L241.7,21.0L242.9,21.0L244.1,20.9L245.2,20.9L246.2,20.9L247.2,20.9L248.2,20.9L249.1,20.9L250.0,20.8L250.8,20.8L251.5,20.8L252.3,20.8L253.0,20.8L253.6,20.8L254.2,20.8L254.8,20.8L255.3,20.8L255.8,20.8L256.3,20.8L256.8,20.8L257.2,20.8L257.6,20.8L257.9,20.8L258.3,20.7L258.6,20.7L258.9,20.7L259.1,20.7L259.4,20.7L259.6,20.7L259.9,20.7L260.1,20.7L260.2,20.7L260.4,20.7L260.6,20.7L260.7,20.7L260.8,20.7L261.0,20.7L261.1,20.7L261.2,20.7L261.3,20.7L261.4,20.7L261.5,20.7L261.6,20.7L261.7,20.7L261.8,20.7L261.9,20.7L262.0,20.7L262.1,20.7L262.2,20.7" fill="none" stroke="#d62728" stroke-width="1.1" stroke-opacity="0.85" stroke-linecap="square" stroke-linejoin="round"/>
<rect x="28.5" y="15.4" width="233.7" height="111.9" fill="none" stroke="#000" stroke-width="0.75"/>
<line x1="25.77" y1="127.3" x2="28.5" y2="127.3" stroke="#000" stroke-width="0.75"/>
<text x="14.68" y="129.45" font-size="6.3" textLength="8.48" lengthAdjust="spacingAndGlyphs">0.0</text>
<line x1="25.77" y1="105.99" x2="28.5" y2="105.99" stroke="#000" stroke-width="0.75"/>
<text x="14.78" y="108.14" font-size="6.3" textLength="8.48" lengthAdjust="spacingAndGlyphs">0.2</text>
<line x1="25.77" y1="84.67" x2="28.5" y2="84.67" stroke="#000" stroke-width="0.75"/>
<text x="14.65" y="86.82" font-size="6.3" textLength="8.48" lengthAdjust="spacingAndGlyphs">0.4</text>
<line x1="25.77" y1="63.36" x2="28.5" y2="63.36" stroke="#000" stroke-width="0.75"/>
<text x="14.71" y="65.51" font-size="6.3" textLength="8.48" lengthAdjust="spacingAndGlyphs">0.6</text>
<line x1="25.77" y1="42.04" x2="28.5" y2="42.04" stroke="#000" stroke-width="0.75"/>
<text x="14.71" y="44.19" font-size="6.3" textLength="8.48" lengthAdjust="spacingAndGlyphs">0.8</text>
<line x1="25.77" y1="20.73" x2="28.5" y2="20.73" stroke="#000" stroke-width="0.75"/>
<text x="14.68" y="22.88" font-size="6.3" textLength="8.48" lengthAdjust="spacingAndGlyphs">1.0</text>
<line x1="28.5" y1="127.3" x2="28.5" y2="130.03" stroke="#000" stroke-width="0.75"/>
<text x="24.25" y="136.7" font-size="6.3" textLength="8.48" lengthAdjust="spacingAndGlyphs">0.0</text>
<line x1="75.24" y1="127.3" x2="75.24" y2="130.03" stroke="#000" stroke-width="0.75"/>
<text x="71.03" y="136.7" font-size="6.3" textLength="8.48" lengthAdjust="spacingAndGlyphs">0.2</text>
<line x1="121.98" y1="127.3" x2="121.98" y2="130.03" stroke="#000" stroke-width="0.75"/>
<text x="117.71" y="136.7" font-size="6.3" textLength="8.48" lengthAdjust="spacingAndGlyphs">0.4</text>
<line x1="168.72" y1="127.3" x2="168.72" y2="130.03" stroke="#000" stroke-width="0.75"/>
<text x="164.48" y="136.7" font-size="6.3" textLength="8.48" lengthAdjust="spacingAndGlyphs">0.6</text>
<line x1="215.46" y1="127.3" x2="215.46" y2="130.03" stroke="#000" stroke-width="0.75"/>
<text x="211.22" y="136.7" font-size="6.3" textLength="8.48" lengthAdjust="spacingAndGlyphs">0.8</text>
<line x1="262.2" y1="127.3" x2="262.2" y2="130.03" stroke="#000" stroke-width="0.75"/>
<text x="257.84" y="136.7" font-size="6.3" textLength="8.48" lengthAdjust="spacingAndGlyphs">1.0</text>
<text x="138.24" y="147.2" font-size="8.2" textLength="14.52" lengthAdjust="spacingAndGlyphs">FPR</text>
<text transform="translate(10.55,72.25) rotate(-90)" x="-11.52" y="0" font-size="8.2" textLength="22.99" lengthAdjust="spacingAndGlyphs">Recall</text>
<text x="84.72" y="10.5" font-size="8.0" textLength="6.43" lengthAdjust="spacingAndGlyphs" font-weight="bold">A</text>
<text x="93.52" y="10.5" font-size="8.0" textLength="112.18" lengthAdjust="spacingAndGlyphs">Full Data (50% Positive) ROC</text>
<rect x="171.4" y="34.58" width="87.8" height="89.72" rx="1.2" fill="#fff" fill-opacity="0.8" stroke="#ccc" stroke-width="0.78"/>
<line x1="173.7" y1="39.38" x2="185.1" y2="39.38" stroke="#1f77b4" stroke-width="1.0" stroke-dasharray="0.9 1.2" stroke-opacity="0.75"/>
<text x="190.5" y="41.78" font-size="6.5" textLength="66.18" lengthAdjust="spacingAndGlyphs">Li 2020 Deep Ensemble</text>
<line x1="173.7" y1="48.16" x2="185.1" y2="48.16" stroke="#ff7f0e" stroke-width="1.0" stroke-dasharray="0.9 1.2" stroke-opacity="0.75"/>
<text x="190.5" y="50.56" font-size="6.5" textLength="36.2" lengthAdjust="spacingAndGlyphs">Du 2017 Sep</text>
<line x1="173.7" y1="56.94" x2="185.1" y2="56.94" stroke="#2ca02c" stroke-width="1.0" stroke-dasharray="0.9 1.2" stroke-opacity="0.75"/>
<text x="190.5" y="59.34" font-size="6.5" textLength="38.25" lengthAdjust="spacingAndGlyphs">Ding 2016 RF</text>
<line x1="173.7" y1="65.72" x2="185.1" y2="65.72" stroke="#d62728" stroke-width="1.0" stroke-dasharray="0.9 1.2" stroke-opacity="0.75"/>
<text x="190.91" y="68.12" font-size="6.5" textLength="33.43" lengthAdjust="spacingAndGlyphs">Jia 2015 RF</text>
<line x1="173.7" y1="74.5" x2="185.1" y2="74.5" stroke="#9467bd" stroke-width="1.0" stroke-dasharray="0.9 1.2" stroke-opacity="0.75"/>
<text x="190.5" y="76.9" font-size="6.5" textLength="53.75" lengthAdjust="spacingAndGlyphs">Li 2018 CNN/LSTM</text>
<line x1="173.7" y1="83.28" x2="185.1" y2="83.28" stroke="#8c564b" stroke-width="1.0" stroke-dasharray="0.9 1.2" stroke-opacity="0.75"/>
<text x="190.91" y="85.68" font-size="6.5" textLength="33.43" lengthAdjust="spacingAndGlyphs">Jia 2019 RF</text>
<line x1="174.55" y1="92.06" x2="184.25" y2="92.06" stroke="#1f77b4" stroke-width="1.7" stroke-linecap="square" stroke-opacity="0.6"/>
<text x="190.5" y="94.46" font-size="6.5" textLength="33.08" lengthAdjust="spacingAndGlyphs">Bias Prot ID</text>
<line x1="174.55" y1="100.84" x2="184.25" y2="100.84" stroke="#ff7f0e" stroke-width="1.7" stroke-linecap="square" stroke-opacity="0.6"/>
<text x="190.5" y="103.24" font-size="6.5" textLength="37.22" lengthAdjust="spacingAndGlyphs">Bias Seq Sim</text>
<line x1="174.28" y1="109.62" x2="184.51" y2="109.62" stroke="#2ca02c" stroke-width="1.17" stroke-linecap="square"/>
<text x="190.5" y="112.02" font-size="6.5" textLength="34.81" lengthAdjust="spacingAndGlyphs">Random Net</text>
<line x1="174.28" y1="118.4" x2="184.51" y2="118.4" stroke="#d62728" stroke-width="1.17" stroke-linecap="square"/>
<text x="190.5" y="120.8" font-size="6.5" textLength="33.42" lengthAdjust="spacingAndGlyphs">Random RF</text>
<path d="M28.5,177.5L28.5,177.6L28.5,177.8L28.6,177.9L28.6,178.0L28.6,178.1L28.7,178.2L28.8,178.3L28.9,178.5L29.0,178.6L29.1,178.7L29.2,178.8L29.3,178.9L29.5,179.0L29.7,179.2L29.8,179.3L30.0,179.4L30.2,179.5L30.4,179.6L30.6,179.7L30.9,179.8L31.1,179.9L31.4,180.1L31.6,180.2L31.9,180.3L32.2,180.4L32.5,180.5L32.8,180.6L33.1,180.7L33.5,180.8L33.8,180.9L34.2,181.0L34.5,181.1L34.9,181.2L35.3,181.3L35.7,181.4L36.1,181.5L36.6,181.6L37.0,181.7L37.5,181.8L37.9,181.9L38.4,182.0L38.9,182.1L39.4,182.2L39.9,182.3L40.5,182.4L41.0,182.5L41.5,182.6L42.1,182.7L42.7,182.7L43.3,182.8L43.8,182.9L44.5,183.1L45.1,183.2L45.7,183.3L46.4,183.4L47.0,183.5L47.7,183.6L48.4,183.7L49.0,183.8L49.7,184.0L50.5,184.1L51.2,184.2L51.9,184.4L52.7,184.5L53.4,184.6L54.2,184.8L55.0,185.0L55.8,185.1L56.6,185.3L57.4,185.5L58.2,185.7L59.1,185.8L59.9,186.0L60.8,186.2L61.7,186.4L62.6,186.6L63.5,186.8L64.4,187.0L65.3,187.2L66.3,187.4L67.2,187.7L68.2,187.9L69.2,188.1L70.1,188.3L71.1,188.5L72.1,188.7L73.2,188.9L74.2,189.1L75.2,189.3L76.3,189.5L77.4,189.7L78.4,190.0L79.5,190.2L80.6,190.4L81.8,190.6L82.9,190.8L84.0,191.1L85.2,191.3L86.3,191.5L87.5,191.8L88.7,192.0L89.9,192.3L91.1,192.5L92.3,192.7L93.6,193.0L94.8,193.2L96.1,193.5L97.3,193.8L98.6,194.0L99.9,194.3L101.2,194.5L102.5,194.8L103.9,195.1L105.2,195.4L106.5,195.7L107.9,196.0L109.3,196.2L110.7,196.5L112.1,196.9L113.5,197.2L114.9,197.5L116.3,197.8L117.8,198.1L119.2,198.5L120.7,198.8L122.2,199.1L123.7,199.5L125.2,199.9L126.7,200.2L128.2,200.6L129.8,201.0L131.3,201.4L132.9,201.8L134.5,202.2L136.1,202.6L137.7,203.0L139.3,203.5L140.9,203.9L142.5,204.4L144.2,204.9L145.8,205.3L147.5,205.8L149.2,206.3L150.9,206.9L152.6,207.4L154.3,207.9L156.0,208.5L157.8,209.1L159.5,209.7L161.3,210.3L163.1,210.9L164.8,211.5L166.6,212.2L168.5,212.9L170.3,213.5L172.1,214.3L174.0,215.0L175.8,215.7L177.7,216.5L179.6,217.3L181.5,218.1L183.4,219.0L185.3,219.8L187.2,220.7L189.2,221.6L191.1,222.5L193.1,223.5L195.1,224.5L197.0,225.5L199.0,226.6L201.1,227.6L203.1,228.7L205.1,229.9L207.2,231.0L209.2,232.2L211.3,233.5L213.4,234.7L215.5,236.0L217.6,237.4L219.7,238.8L221.8,240.2L224.0,241.6L226.1,243.1L228.3,244.6L230.5,246.2L232.7,247.9L234.9,249.5L237.1,251.2L239.3,253.0L241.5,254.8L243.8,256.7L246.0,258.6L248.3,260.5L250.6,262.6L252.9,264.6L255.2,266.8L257.5,268.9L259.9,271.2L262.2,273.4" fill="none" stroke="#1f77b4" stroke-width="1.0" stroke-dasharray="0.9 1.2" stroke-opacity="0.75" stroke-linecap="butt" stroke-linejoin="round"/>
<path d="M28.5,177.5L28.5,177.7L28.5,177.8L28.6,177.9L28.6,178.1L28.6,178.2L28.7,178.3L28.8,178.4L28.9,178.6L29.0,178.7L29.1,178.8L29.2,179.0L29.3,179.1L29.5,179.2L29.7,179.4L29.8,179.5L30.0,179.6L30.2,179.8L30.4,179.9L30.6,180.0L30.9,180.2L31.1,180.3L31.4,180.4L31.6,180.6L31.9,180.7L32.2,180.8L32.5,181.0L32.8,181.1L33.1,181.2L33.5,181.4L33.8,181.5L34.2,181.6L34.5,181.8L34.9,181.9L35.3,182.0L35.7,182.2L36.1,182.3L36.6,182.4L37.0,182.5L37.5,182.7L37.9,182.8L38.4,182.9L38.9,183.1L39.4,183.2L39.9,183.3L40.5,183.4L41.0,183.6L41.5,183.7L42.1,183.8L42.7,184.0L43.3,184.1L43.8,184.2L44.5,184.4L45.1,184.5L45.7,184.7L46.4,184.8L47.0,185.0L47.7,185.1L48.4,185.3L49.0,185.4L49.7,185.6L50.5,185.7L51.2,185.9L51.9,186.1L52.7,186.2L53.4,186.4L54.2,186.6L55.0,186.8L55.8,187.0L56.6,187.2L57.4,187.4L58.2,187.6L59.1,187.8L59.9,188.0L60.8,188.2L61.7,188.4L62.6,188.7L63.5,188.9L64.4,189.1L65.3,189.3L66.3,189.6L67.2,189.8L68.2,190.0L69.2,190.3L70.1,190.5L71.1,190.7L72.1,191.0L73.2,191.2L74.2,191.4L75.2,191.7L76.3,191.9L77.4,192.2L78.4,192.4L79.5,192.7L80.6,192.9L81.8,193.2L82.9,193.5L84.0,193.7L85.2,194.0L86.3,194.3L87.5,194.6L88.7,194.8L89.9,195.1L91.1,195.4L92.3,195.7L93.6,196.0L94.8,196.3L96.1,196.6L97.3,196.9L98.6,197.2L99.9,197.5L101.2,197.8L102.5,198.1L103.9,198.5L105.2,198.8L106.5,199.1L107.9,199.5L109.3,199.8L110.7,200.1L112.1,200.5L113.5,200.8L114.9,201.2L116.3,201.6L117.8,202.0L119.2,202.3L120.7,202.7L122.2,203.1L123.7,203.5L125.2,203.9L126.7,204.3L128.2,204.8L129.8,205.2L131.3,205.6L132.9,206.1L134.5,206.5L136.1,207.0L137.7,207.4L139.3,207.9L140.9,208.4L142.5,208.9L144.2,209.4L145.8,209.9L147.5,210.5L149.2,211.0L150.9,211.6L152.6,212.1L154.3,212.7L156.0,213.3L157.8,213.9L159.5,214.5L161.3,215.1L163.1,215.8L164.8,216.4L166.6,217.1L168.5,217.8L170.3,218.5L172.1,219.2L174.0,219.9L175.8,220.7L177.7,221.4L179.6,222.2L181.5,223.0L183.4,223.8L185.3,224.7L187.2,225.5L189.2,226.4L191.1,227.3L193.1,228.3L195.1,229.2L197.0,230.2L199.0,231.2L201.1,232.2L203.1,233.2L205.1,234.3L207.2,235.4L209.2,236.5L211.3,237.7L213.4,238.8L215.5,240.0L217.6,241.3L219.7,242.5L221.8,243.8L224.0,245.2L226.1,246.5L228.3,247.9L230.5,249.3L232.7,250.8L234.9,252.3L237.1,253.9L239.3,255.4L241.5,257.0L243.8,258.7L246.0,260.4L248.3,262.1L250.6,263.9L252.9,265.7L255.2,267.6L257.5,269.5L259.9,271.5L262.2,273.4" fill="none" stroke="#ff7f0e" stroke-width="1.0" stroke-dasharray="0.9 1.2" stroke-opacity="0.75" stroke-linecap="butt" stroke-linejoin="round"/>
<path d="M28.5,177.5L28.5,177.7L28.5,177.9L28.6,178.1L28.6,178.3L28.6,178.5L28.7,178.6L28.8,178.8L28.9,179.0L29.0,179.2L29.1,179.4L29.2,179.6L29.3,179.8L29.5,180.0L29.7,180.1L29.8,180.3L30.0,180.5L30.2,180.7L30.4,180.9L30.6,181.1L30.9,181.3L31.1,181.5L31.4,181.7L31.6,181.9L31.9,182.1L32.2,182.2L32.5,182.4L32.8,182.6L33.1,182.8L33.5,183.0L33.8,183.2L34.2,183.4L34.5,183.6L34.9,183.8L35.3,184.0L35.7,184.2L36.1,184.4L36.6,184.6L37.0,184.8L37.5,185.0L37.9,185.2L38.4,185.4L38.9,185.6L39.4,185.8L39.9,186.0L40.5,186.1L41.0,186.3L41.5,186.5L42.1,186.7L42.7,186.9L43.3,187.1L43.8,187.3L44.5,187.5L45.1,187.7L45.7,188.0L46.4,188.2L47.0,188.4L47.7,188.6L48.4,188.8L49.0,189.0L49.7,189.2L50.5,189.4L51.2,189.6L51.9,189.8L52.7,190.0L53.4,190.2L54.2,190.4L55.0,190.6L55.8,190.9L56.6,191.1L57.4,191.3L58.2,191.5L59.1,191.7L59.9,191.9L60.8,192.1L61.7,192.4L62.6,192.6L63.5,192.8L64.4,193.0L65.3,193.2L66.3,193.5L67.2,193.7L68.2,193.9L69.2,194.2L70.1,194.4L71.1,194.7L72.1,194.9L73.2,195.2L74.2,195.4L75.2,195.7L76.3,195.9L77.4,196.2L78.4,196.5L79.5,196.7L80.6,197.0L81.8,197.3L82.9,197.6L84.0,197.9L85.2,198.1L86.3,198.4L87.5,198.7L88.7,199.0L89.9,199.3L91.1,199.6L92.3,199.9L93.6,200.2L94.8,200.5L96.1,200.9L97.3,201.2L98.6,201.5L99.9,201.8L101.2,202.2L102.5,202.5L103.9,202.9L105.2,203.2L106.5,203.5L107.9,203.9L109.3,204.3L110.7,204.6L112.1,205.0L113.5,205.4L114.9,205.8L116.3,206.1L117.8,206.5L119.2,206.9L120.7,207.3L122.2,207.7L123.7,208.2L125.2,208.6L126.7,209.0L128.2,209.4L129.8,209.9L131.3,210.3L132.9,210.8L134.5,211.3L136.1,211.7L137.7,212.2L139.3,212.7L140.9,213.2L142.5,213.7L144.2,214.2L145.8,214.7L147.5,215.3L149.2,215.8L150.9,216.4L152.6,216.9L154.3,217.5L156.0,218.1L157.8,218.7L159.5,219.3L161.3,219.9L163.1,220.5L164.8,221.2L166.6,221.8L168.5,222.5L170.3,223.2L172.1,223.9L174.0,224.6L175.8,225.3L177.7,226.0L179.6,226.8L181.5,227.6L183.4,228.4L185.3,229.2L187.2,230.0L189.2,230.8L191.1,231.7L193.1,232.5L195.1,233.4L197.0,234.3L199.0,235.3L201.1,236.2L203.1,237.2L205.1,238.2L207.2,239.2L209.2,240.2L211.3,241.3L213.4,242.4L215.5,243.5L217.6,244.6L219.7,245.8L221.8,247.0L224.0,248.2L226.1,249.4L228.3,250.7L230.5,252.0L232.7,253.3L234.9,254.6L237.1,256.0L239.3,257.4L241.5,258.9L243.8,260.4L246.0,261.9L248.3,263.4L250.6,265.0L252.9,266.6L255.2,268.3L257.5,270.0L259.9,271.7L262.2,273.4" fill="none" stroke="#2ca02c" stroke-width="1.0" stroke-dasharray="0.9 1.2" stroke-opacity="0.75" stroke-linecap="butt" stroke-linejoin="round"/>
<path d="M28.5,177.5L28.5,177.8L28.5,178.0L28.6,178.2L28.6,178.5L28.6,178.7L28.7,178.9L28.8,179.1L28.9,179.4L29.0,179.6L29.1,179.8L29.2,180.1L29.3,180.3L29.5,180.5L29.7,180.8L29.8,181.0L30.0,181.2L30.2,181.4L30.4,181.7L30.6,181.9L30.9,182.1L31.1,182.3L31.4,182.6L31.6,182.8L31.9,183.0L32.2,183.2L32.5,183.4L32.8,183.7L33.1,183.9L33.5,184.1L33.8,184.3L34.2,184.6L34.5,184.8L34.9,185.0L35.3,185.2L35.7,185.4L36.1,185.6L36.6,185.9L37.0,186.1L37.5,186.3L37.9,186.5L38.4,186.7L38.9,186.9L39.4,187.1L39.9,187.3L40.5,187.6L41.0,187.8L41.5,188.0L42.1,188.2L42.7,188.4L43.3,188.6L43.8,188.8L44.5,189.0L45.1,189.3L45.7,189.5L46.4,189.7L47.0,189.9L47.7,190.1L48.4,190.3L49.0,190.5L49.7,190.8L50.5,191.0L51.2,191.2L51.9,191.4L52.7,191.6L53.4,191.8L54.2,192.1L55.0,192.3L55.8,192.5L56.6,192.7L57.4,192.9L58.2,193.1L59.1,193.3L59.9,193.5L60.8,193.8L61.7,194.0L62.6,194.2L63.5,194.4L64.4,194.6L65.3,194.8L66.3,195.1L67.2,195.3L68.2,195.5L69.2,195.8L70.1,196.0L71.1,196.3L72.1,196.5L73.2,196.8L74.2,197.0L75.2,197.3L76.3,197.5L77.4,197.8L78.4,198.1L79.5,198.3L80.6,198.6L81.8,198.9L82.9,199.2L84.0,199.5L85.2,199.8L86.3,200.0L87.5,200.3L88.7,200.6L89.9,200.9L91.1,201.2L92.3,201.5L93.6,201.9L94.8,202.2L96.1,202.5L97.3,202.8L98.6,203.1L99.9,203.5L101.2,203.8L102.5,204.1L103.9,204.5L105.2,204.8L106.5,205.2L107.9,205.5L109.3,205.9L110.7,206.3L112.1,206.6L113.5,207.0L114.9,207.4L116.3,207.8L117.8,208.2L119.2,208.6L120.7,209.0L122.2,209.4L123.7,209.8L125.2,210.2L126.7,210.7L128.2,211.1L129.8,211.5L131.3,212.0L132.9,212.4L134.5,212.9L136.1,213.4L137.7,213.8L139.3,214.3L140.9,214.8L142.5,215.3L144.2,215.8L145.8,216.4L147.5,216.9L149.2,217.4L150.9,218.0L152.6,218.5L154.3,219.1L156.0,219.7L157.8,220.3L159.5,220.9L161.3,221.5L163.1,222.1L164.8,222.7L166.6,223.4L168.5,224.0L170.3,224.7L172.1,225.4L174.0,226.1L175.8,226.8L177.7,227.5L179.6,228.3L181.5,229.0L183.4,229.8L185.3,230.6L187.2,231.4L189.2,232.2L191.1,233.0L193.1,233.9L195.1,234.8L197.0,235.7L199.0,236.6L201.1,237.5L203.1,238.4L205.1,239.4L207.2,240.4L209.2,241.4L211.3,242.4L213.4,243.5L215.5,244.6L217.6,245.7L219.7,246.8L221.8,247.9L224.0,249.1L226.1,250.3L228.3,251.5L230.5,252.8L232.7,254.0L234.9,255.4L237.1,256.7L239.3,258.1L241.5,259.4L243.8,260.9L246.0,262.3L248.3,263.8L250.6,265.3L252.9,266.9L255.2,268.5L257.5,270.1L259.9,271.8L262.2,273.4" fill="none" stroke="#d62728" stroke-width="1.0" stroke-dasharray="0.9 1.2" stroke-opacity="0.75" stroke-linecap="butt" stroke-linejoin="round"/>
<path d="M28.5,177.5L28.5,177.7L28.5,178.0L28.6,178.2L28.6,178.4L28.6,178.6L28.7,178.8L28.8,179.0L28.9,179.2L29.0,179.4L29.1,179.6L29.2,179.8L29.3,180.1L29.5,180.3L29.7,180.5L29.8,180.7L30.0,180.9L30.2,181.1L30.4,181.3L30.6,181.5L30.9,181.7L31.1,181.9L31.4,182.1L31.6,182.3L31.9,182.5L32.2,182.7L32.5,183.0L32.8,183.2L33.1,183.4L33.5,183.6L33.8,183.8L34.2,184.0L34.5,184.2L34.9,184.4L35.3,184.6L35.7,184.8L36.1,185.0L36.6,185.2L37.0,185.4L37.5,185.6L37.9,185.7L38.4,185.9L38.9,186.1L39.4,186.3L39.9,186.5L40.5,186.7L41.0,186.9L41.5,187.1L42.1,187.3L42.7,187.5L43.3,187.7L43.8,187.9L44.5,188.1L45.1,188.3L45.7,188.5L46.4,188.7L47.0,188.9L47.7,189.1L48.4,189.3L49.0,189.5L49.7,189.7L50.5,189.9L51.2,190.1L51.9,190.3L52.7,190.6L53.4,190.8L54.2,191.0L55.0,191.2L55.8,191.4L56.6,191.6L57.4,191.8L58.2,192.0L59.1,192.2L59.9,192.5L60.8,192.7L61.7,192.9L62.6,193.1L63.5,193.3L64.4,193.6L65.3,193.8L66.3,194.0L67.2,194.2L68.2,194.5L69.2,194.7L70.1,195.0L71.1,195.2L72.1,195.4L73.2,195.7L74.2,196.0L75.2,196.2L76.3,196.5L77.4,196.7L78.4,197.0L79.5,197.3L80.6,197.6L81.8,197.8L82.9,198.1L84.0,198.4L85.2,198.7L86.3,199.0L87.5,199.3L88.7,199.6L89.9,199.9L91.1,200.2L92.3,200.5L93.6,200.8L94.8,201.1L96.1,201.4L97.3,201.8L98.6,202.1L99.9,202.4L101.2,202.7L102.5,203.1L103.9,203.4L105.2,203.8L106.5,204.1L107.9,204.5L109.3,204.8L110.7,205.2L112.1,205.6L113.5,206.0L114.9,206.3L116.3,206.7L117.8,207.1L119.2,207.5L120.7,207.9L122.2,208.3L123.7,208.7L125.2,209.2L126.7,209.6L128.2,210.0L129.8,210.5L131.3,210.9L132.9,211.4L134.5,211.9L136.1,212.3L137.7,212.8L139.3,213.3L140.9,213.8L142.5,214.3L144.2,214.8L145.8,215.3L147.5,215.9L149.2,216.4L150.9,217.0L152.6,217.5L154.3,218.1L156.0,218.7L157.8,219.3L159.5,219.9L161.3,220.5L163.1,221.1L164.8,221.8L166.6,222.4L168.5,223.1L170.3,223.8L172.1,224.4L174.0,225.2L175.8,225.9L177.7,226.6L179.6,227.4L181.5,228.1L183.4,228.9L185.3,229.7L187.2,230.5L189.2,231.3L191.1,232.2L193.1,233.1L195.1,233.9L197.0,234.9L199.0,235.8L201.1,236.7L203.1,237.7L205.1,238.7L207.2,239.7L209.2,240.7L211.3,241.7L213.4,242.8L215.5,243.9L217.6,245.0L219.7,246.2L221.8,247.3L224.0,248.5L226.1,249.8L228.3,251.0L230.5,252.3L232.7,253.6L234.9,254.9L237.1,256.3L239.3,257.7L241.5,259.1L243.8,260.6L246.0,262.0L248.3,263.6L250.6,265.1L252.9,266.7L255.2,268.4L257.5,270.0L259.9,271.7L262.2,273.4" fill="none" stroke="#9467bd" stroke-width="1.0" stroke-dasharray="0.9 1.2" stroke-opacity="0.75" stroke-linecap="butt" stroke-linejoin="round"/>
<path d="M28.5,177.5L28.5,177.7L28.5,177.8L28.6,178.0L28.6,178.2L28.6,178.3L28.7,178.5L28.8,178.7L28.9,178.8L29.0,179.0L29.1,179.1L29.2,179.3L29.3,179.5L29.5,179.7L29.7,179.8L29.8,180.0L30.0,180.2L30.2,180.3L30.4,180.5L30.6,180.7L30.9,180.9L31.1,181.0L31.4,181.2L31.6,181.4L31.9,181.6L32.2,181.8L32.5,181.9L32.8,182.1L33.1,182.3L33.5,182.5L33.8,182.7L34.2,182.9L34.5,183.0L34.9,183.2L35.3,183.4L35.7,183.6L36.1,183.8L36.6,184.0L37.0,184.2L37.5,184.4L37.9,184.6L38.4,184.8L38.9,185.0L39.4,185.2L39.9,185.4L40.5,185.6L41.0,185.8L41.5,186.0L42.1,186.2L42.7,186.4L43.3,186.6L43.8,186.8L44.5,187.0L45.1,187.2L45.7,187.4L46.4,187.6L47.0,187.8L47.7,188.0L48.4,188.2L49.0,188.4L49.7,188.6L50.5,188.9L51.2,189.1L51.9,189.3L52.7,189.5L53.4,189.7L54.2,189.9L55.0,190.1L55.8,190.3L56.6,190.5L57.4,190.8L58.2,191.0L59.1,191.2L59.9,191.4L60.8,191.6L61.7,191.8L62.6,192.1L63.5,192.3L64.4,192.5L65.3,192.7L66.3,193.0L67.2,193.2L68.2,193.4L69.2,193.7L70.1,193.9L71.1,194.2L72.1,194.4L73.2,194.7L74.2,194.9L75.2,195.2L76.3,195.4L77.4,195.7L78.4,196.0L79.5,196.2L80.6,196.5L81.8,196.8L82.9,197.1L84.0,197.4L85.2,197.7L86.3,197.9L87.5,198.2L88.7,198.5L89.9,198.8L91.1,199.1L92.3,199.4L93.6,199.7L94.8,200.1L96.1,200.4L97.3,200.7L98.6,201.0L99.9,201.3L101.2,201.7L102.5,202.0L103.9,202.4L105.2,202.7L106.5,203.1L107.9,203.4L109.3,203.8L110.7,204.1L112.1,204.5L113.5,204.9L114.9,205.3L116.3,205.6L117.8,206.0L119.2,206.4L120.7,206.8L122.2,207.2L123.7,207.6L125.2,208.1L126.7,208.5L128.2,208.9L129.8,209.4L131.3,209.8L132.9,210.3L134.5,210.7L136.1,211.2L137.7,211.7L139.3,212.2L140.9,212.7L142.5,213.2L144.2,213.7L145.8,214.2L147.5,214.7L149.2,215.3L150.9,215.8L152.6,216.4L154.3,217.0L156.0,217.5L157.8,218.1L159.5,218.7L161.3,219.4L163.1,220.0L164.8,220.6L166.6,221.3L168.5,222.0L170.3,222.6L172.1,223.3L174.0,224.0L175.8,224.8L177.7,225.5L179.6,226.3L181.5,227.0L183.4,227.8L185.3,228.6L187.2,229.5L189.2,230.3L191.1,231.1L193.1,232.0L195.1,232.9L197.0,233.8L199.0,234.8L201.1,235.7L203.1,236.7L205.1,237.7L207.2,238.7L209.2,239.8L211.3,240.9L213.4,241.9L215.5,243.1L217.6,244.2L219.7,245.4L221.8,246.6L224.0,247.8L226.1,249.0L228.3,250.3L230.5,251.6L232.7,253.0L234.9,254.4L237.1,255.8L239.3,257.2L241.5,258.7L243.8,260.1L246.0,261.7L248.3,263.2L250.6,264.9L252.9,266.5L255.2,268.2L257.5,269.9L259.9,271.7L262.2,273.4" fill="none" stroke="#8c564b" stroke-width="1.0" stroke-dasharray="0.9 1.2" stroke-opacity="0.75" stroke-linecap="butt" stroke-linejoin="round"/>
<path d="M28.5,177.5L28.5,177.8L28.5,178.0L28.6,178.2L28.6,178.5L28.6,178.7L28.7,178.9L28.8,179.1L28.9,179.4L29.0,179.6L29.1,179.8L29.2,180.1L29.3,180.3L29.5,180.5L29.7,180.7L29.8,181.0L30.0,181.2L30.2,181.4L30.4,181.7L30.6,181.9L30.9,182.1L31.1,182.3L31.4,182.6L31.6,182.8L31.9,183.0L32.2,183.2L32.5,183.4L32.8,183.7L33.1,183.9L33.5,184.1L33.8,184.3L34.2,184.5L34.5,184.8L34.9,185.0L35.3,185.2L35.7,185.4L36.1,185.6L36.6,185.8L37.0,186.0L37.5,186.2L37.9,186.5L38.4,186.7L38.9,186.9L39.4,187.1L39.9,187.3L40.5,187.5L41.0,187.7L41.5,187.9L42.1,188.1L42.7,188.3L43.3,188.6L43.8,188.8L44.5,189.0L45.1,189.2L45.7,189.4L46.4,189.6L47.0,189.8L47.7,190.1L48.4,190.3L49.0,190.5L49.7,190.7L50.5,191.0L51.2,191.2L51.9,191.4L52.7,191.7L53.4,191.9L54.2,192.1L55.0,192.4L55.8,192.6L56.6,192.8L57.4,193.1L58.2,193.3L59.1,193.6L59.9,193.8L60.8,194.1L61.7,194.3L62.6,194.6L63.5,194.8L64.4,195.1L65.3,195.3L66.3,195.6L67.2,195.8L68.2,196.1L69.2,196.4L70.1,196.7L71.1,196.9L72.1,197.2L73.2,197.5L74.2,197.8L75.2,198.1L76.3,198.4L77.4,198.7L78.4,199.0L79.5,199.3L80.6,199.6L81.8,200.0L82.9,200.3L84.0,200.6L85.2,200.9L86.3,201.3L87.5,201.6L88.7,201.9L89.9,202.3L91.1,202.6L92.3,203.0L93.6,203.3L94.8,203.7L96.1,204.0L97.3,204.4L98.6,204.8L99.9,205.1L101.2,205.5L102.5,205.9L103.9,206.3L105.2,206.7L106.5,207.0L107.9,207.4L109.3,207.8L110.7,208.3L112.1,208.7L113.5,209.1L114.9,209.5L116.3,209.9L117.8,210.4L119.2,210.8L120.7,211.2L122.2,211.7L123.7,212.1L125.2,212.6L126.7,213.1L128.2,213.5L129.8,214.0L131.3,214.5L132.9,215.0L134.5,215.5L136.1,216.0L137.7,216.5L139.3,217.0L140.9,217.5L142.5,218.1L144.2,218.6L145.8,219.2L147.5,219.7L149.2,220.3L150.9,220.8L152.6,221.4L154.3,222.0L156.0,222.6L157.8,223.2L159.5,223.8L161.3,224.5L163.1,225.1L164.8,225.8L166.6,226.4L168.5,227.1L170.3,227.8L172.1,228.4L174.0,229.1L175.8,229.9L177.7,230.6L179.6,231.3L181.5,232.1L183.4,232.8L185.3,233.6L187.2,234.4L189.2,235.2L191.1,236.0L193.1,236.8L195.1,237.7L197.0,238.5L199.0,239.4L201.1,240.3L203.1,241.2L205.1,242.1L207.2,243.1L209.2,244.0L211.3,245.0L213.4,246.0L215.5,247.0L217.6,248.1L219.7,249.1L221.8,250.2L224.0,251.3L226.1,252.4L228.3,253.5L230.5,254.7L232.7,255.9L234.9,257.1L237.1,258.3L239.3,259.5L241.5,260.8L243.8,262.1L246.0,263.4L248.3,264.8L250.6,266.2L252.9,267.6L255.2,269.0L257.5,270.5L259.9,271.9L262.2,273.4" fill="none" stroke="#1f77b4" stroke-width="1.17" stroke-linecap="square" stroke-linejoin="round"/>
<path d="M28.5,177.5L28.5,178.1L28.5,178.7L28.6,179.2L28.6,179.8L28.6,180.3L28.7,180.8L28.8,181.2L28.9,181.7L29.0,182.1L29.1,182.5L29.2,182.9L29.3,183.2L29.5,183.5L29.7,183.8L29.8,184.0L30.0,184.3L30.2,184.7L30.4,185.1L30.6,185.8L30.9,186.8L31.1,187.8L31.4,188.7L31.6,189.2L31.9,189.5L32.2,189.8L32.5,190.1L32.8,190.4L33.1,190.7L33.5,190.9L33.8,191.1L34.2,191.3L34.5,191.5L34.9,191.7L35.3,191.9L35.7,192.0L36.1,192.2L36.6,192.3L37.0,192.5L37.5,192.6L37.9,192.8L38.4,192.9L38.9,193.1L39.4,193.3L39.9,193.5L40.5,193.6L41.0,193.8L41.5,194.0L42.1,194.2L42.7,194.4L43.3,194.6L43.8,194.8L44.5,194.9L45.1,195.1L45.7,195.3L46.4,195.5L47.0,195.6L47.7,195.8L48.4,196.0L49.0,196.1L49.7,196.3L50.5,196.5L51.2,196.7L51.9,196.8L52.7,197.0L53.4,197.2L54.2,197.4L55.0,197.6L55.8,197.8L56.6,198.0L57.4,198.2L58.2,198.4L59.1,198.6L59.9,198.8L60.8,199.0L61.7,199.3L62.6,199.5L63.5,199.7L64.4,200.0L65.3,200.3L66.3,200.5L67.2,200.8L68.2,201.0L69.2,201.3L70.1,201.6L71.1,201.9L72.1,202.2L73.2,202.4L74.2,202.7L75.2,203.0L76.3,203.3L77.4,203.6L78.4,203.9L79.5,204.2L80.6,204.6L81.8,204.9L82.9,205.2L84.0,205.5L85.2,205.8L86.3,206.2L87.5,206.5L88.7,206.9L89.9,207.2L91.1,207.6L92.3,207.9L93.6,208.3L94.8,208.7L96.1,209.0L97.3,209.4L98.6,209.8L99.9,210.2L101.2,210.5L102.5,210.9L103.9,211.3L105.2,211.7L106.5,212.2L107.9,212.6L109.3,213.0L110.7,213.4L112.1,213.8L113.5,214.3L114.9,214.7L116.3,215.2L117.8,215.6L119.2,216.1L120.7,216.5L122.2,217.0L123.7,217.5L125.2,218.0L126.7,218.5L128.2,218.9L129.8,219.4L131.3,220.0L132.9,220.5L134.5,221.0L136.1,221.5L137.7,222.0L139.3,222.6L140.9,223.1L142.5,223.7L144.2,224.2L145.8,224.8L147.5,225.4L149.2,225.9L150.9,226.5L152.6,227.1L154.3,227.7L156.0,228.3L157.8,229.0L159.5,229.6L161.3,230.2L163.1,230.8L164.8,231.5L166.6,232.1L168.5,232.8L170.3,233.5L172.1,234.2L174.0,234.9L175.8,235.6L177.7,236.3L179.6,237.0L181.5,237.7L183.4,238.4L185.3,239.2L187.2,239.9L189.2,240.7L191.1,241.5L193.1,242.2L195.1,243.0L197.0,243.8L199.0,244.6L201.1,245.5L203.1,246.3L205.1,247.1L207.2,248.0L209.2,248.9L211.3,249.7L213.4,250.6L215.5,251.5L217.6,252.5L219.7,253.4L221.8,254.3L224.0,255.3L226.1,256.2L228.3,257.2L230.5,258.2L232.7,259.2L234.9,260.2L237.1,261.2L239.3,262.3L241.5,263.3L243.8,264.4L246.0,265.5L248.3,266.6L250.6,267.7L252.9,268.8L255.2,269.9L257.5,271.1L259.9,272.3L262.2,273.4" fill="none" stroke="#ff7f0e" stroke-width="1.17" stroke-linecap="square" stroke-linejoin="round"/>
<path d="M28.5,177.5L28.5,177.8L28.5,178.0L28.6,178.2L28.6,178.5L28.6,178.7L28.7,178.9L28.8,179.2L28.9,179.4L29.0,179.7L29.1,179.9L29.2,180.1L29.3,180.4L29.5,180.6L29.7,180.8L29.8,181.1L30.0,181.3L30.2,181.5L30.4,181.8L30.6,182.0L30.9,182.3L31.1,182.5L31.4,182.7L31.6,183.0L31.9,183.2L32.2,183.4L32.5,183.7L32.8,183.9L33.1,184.2L33.5,184.4L33.8,184.6L34.2,184.9L34.5,185.1L34.9,185.4L35.3,185.7L35.7,185.9L36.1,186.2L36.6,186.4L37.0,186.7L37.5,186.9L37.9,187.2L38.4,187.4L38.9,187.6L39.4,187.8L39.9,188.0L40.5,188.2L41.0,188.4L41.5,188.5L42.1,188.7L42.7,188.8L43.3,188.9L43.8,189.0L44.5,189.2L45.1,189.3L45.7,189.4L46.4,189.5L47.0,189.6L47.7,189.7L48.4,189.9L49.0,190.0L49.7,190.1L50.5,190.2L51.2,190.4L51.9,190.5L52.7,190.7L53.4,190.9L54.2,191.0L55.0,191.2L55.8,191.4L56.6,191.6L57.4,191.8L58.2,192.0L59.1,192.2L59.9,192.4L60.8,192.6L61.7,192.8L62.6,193.0L63.5,193.3L64.4,193.5L65.3,193.7L66.3,193.9L67.2,194.2L68.2,194.4L69.2,194.6L70.1,194.9L71.1,195.1L72.1,195.3L73.2,195.6L74.2,195.8L75.2,196.1L76.3,196.3L77.4,196.6L78.4,196.8L79.5,197.1L80.6,197.3L81.8,197.6L82.9,197.9L84.0,198.2L85.2,198.4L86.3,198.7L87.5,199.0L88.7,199.3L89.9,199.6L91.1,199.9L92.3,200.2L93.6,200.5L94.8,200.8L96.1,201.1L97.3,201.4L98.6,201.8L99.9,202.1L101.2,202.4L102.5,202.7L103.9,203.1L105.2,203.4L106.5,203.8L107.9,204.1L109.3,204.5L110.7,204.9L112.1,205.2L113.5,205.6L114.9,206.0L116.3,206.4L117.8,206.8L119.2,207.2L120.7,207.6L122.2,208.0L123.7,208.4L125.2,208.8L126.7,209.3L128.2,209.7L129.8,210.2L131.3,210.6L132.9,211.1L134.5,211.6L136.1,212.0L137.7,212.5L139.3,213.0L140.9,213.5L142.5,214.0L144.2,214.6L145.8,215.1L147.5,215.6L149.2,216.2L150.9,216.7L152.6,217.3L154.3,217.9L156.0,218.5L157.8,219.1L159.5,219.7L161.3,220.3L163.1,221.0L164.8,221.6L166.6,222.3L168.5,223.0L170.3,223.7L172.1,224.4L174.0,225.1L175.8,225.8L177.7,226.6L179.6,227.3L181.5,228.1L183.4,228.9L185.3,229.7L187.2,230.5L189.2,231.4L191.1,232.2L193.1,233.1L195.1,234.0L197.0,234.9L199.0,235.9L201.1,236.8L203.1,237.8L205.1,238.8L207.2,239.8L209.2,240.8L211.3,241.9L213.4,242.9L215.5,244.0L217.6,245.2L219.7,246.3L221.8,247.5L224.0,248.7L226.1,249.9L228.3,251.2L230.5,252.4L232.7,253.7L234.9,255.1L237.1,256.4L239.3,257.8L241.5,259.2L243.8,260.7L246.0,262.2L248.3,263.7L250.6,265.2L252.9,266.8L255.2,268.4L257.5,270.1L259.9,271.7L262.2,273.4" fill="none" stroke="#2ca02c" stroke-width="1.4" stroke-linecap="square" stroke-linejoin="round"/>
<path d="M28.5,177.5L28.5,177.6L28.6,177.7L28.6,177.9L28.6,178.1L28.7,178.3L28.8,178.5L28.9,178.8L29.0,179.1L29.1,179.4L29.2,179.7L29.3,180.0L29.5,180.3L29.7,180.8L29.8,181.5L30.0,182.2L30.2,183.1L30.4,183.9L30.6,184.8L30.9,185.6L31.1,186.4L31.4,187.0L31.6,187.5L31.9,187.9L32.2,188.2L32.5,188.6L32.8,188.9L33.1,189.1L33.5,189.4L33.8,189.7L34.2,190.0L34.5,190.3L34.9,190.6L35.3,191.0L35.7,191.3L36.1,191.7L36.6,192.1L37.0,192.5L37.5,192.9L37.9,193.2L38.4,193.6L38.9,194.0L39.4,194.4L39.9,194.7L40.5,195.1L41.0,195.5L41.5,195.8L42.1,196.2L42.7,196.5L43.3,196.9L43.8,197.2L44.5,197.6L45.1,197.9L45.7,198.3L46.4,198.6L47.0,199.0L47.7,199.3L48.4,199.6L49.0,200.0L49.7,200.3L50.5,200.7L51.2,201.0L51.9,201.4L52.7,201.7L53.4,202.1L54.2,202.4L55.0,202.8L55.8,203.1L56.6,203.5L57.4,203.9L58.2,204.3L59.1,204.6L59.9,205.0L60.8,205.4L61.7,205.8L62.6,206.2L63.5,206.6L64.4,207.0L65.3,207.5L66.3,207.9L67.2,208.3L68.2,208.7L69.2,209.2L70.1,209.6L71.1,210.1L72.1,210.5L73.2,210.9L74.2,211.4L75.2,211.8L76.3,212.3L77.4,212.7L78.4,213.2L79.5,213.6L80.6,214.1L81.8,214.5L82.9,214.9L84.0,215.4L85.2,215.8L86.3,216.3L87.5,216.7L88.7,217.2L89.9,217.7L91.1,218.1L92.3,218.6L93.6,219.0L94.8,219.5L96.1,219.9L97.3,220.4L98.6,220.9L99.9,221.3L101.2,221.8L102.5,222.2L103.9,222.7L105.2,223.2L106.5,223.6L107.9,224.1L109.3,224.5L110.7,225.0L112.1,225.5L113.5,225.9L114.9,226.4L116.3,226.8L117.8,227.3L119.2,227.8L120.7,228.2L122.2,228.7L123.7,229.2L125.2,229.6L126.7,230.1L128.2,230.6L129.8,231.0L131.3,231.5L132.9,232.0L134.5,232.4L136.1,232.9L137.7,233.4L139.3,233.8L140.9,234.3L142.5,234.8L144.2,235.2L145.8,235.7L147.5,236.2L149.2,236.7L150.9,237.2L152.6,237.6L154.3,238.1L156.0,238.6L157.8,239.1L159.5,239.6L161.3,240.1L163.1,240.6L164.8,241.1L166.6,241.6L168.5,242.1L170.3,242.6L172.1,243.1L174.0,243.6L175.8,244.1L177.7,244.7L179.6,245.2L181.5,245.7L183.4,246.3L185.3,246.8L187.2,247.4L189.2,247.9L191.1,248.5L193.1,249.1L195.1,249.6L197.0,250.2L199.0,250.8L201.1,251.4L203.1,252.0L205.1,252.7L207.2,253.3L209.2,253.9L211.3,254.6L213.4,255.2L215.5,255.9L217.6,256.6L219.7,257.3L221.8,258.0L224.0,258.7L226.1,259.5L228.3,260.2L230.5,261.0L232.7,261.7L234.9,262.5L237.1,263.3L239.3,264.2L241.5,265.0L243.8,265.9L246.0,266.7L248.3,267.6L250.6,268.6L252.9,269.5L255.2,270.5L257.5,271.4L259.9,272.4L262.2,273.4" fill="none" stroke="#d62728" stroke-width="1.1" stroke-opacity="0.85" stroke-linecap="square" stroke-linejoin="round"/>
<rect x="28.5" y="172.2" width="233.7" height="111.9" fill="none" stroke="#000" stroke-width="0.75"/>
<line x1="25.77" y1="284.1" x2="28.5" y2="284.1" stroke="#000" stroke-width="0.75"/>
<text x="14.68" y="286.25" font-size="6.3" textLength="8.48" lengthAdjust="spacingAndGlyphs">0.0</text>
<line x1="25.77" y1="262.79" x2="28.5" y2="262.79" stroke="#000" stroke-width="0.75"/>
<text x="14.78" y="264.94" font-size="6.3" textLength="8.48" lengthAdjust="spacingAndGlyphs">0.2</text>
<line x1="25.77" y1="241.47" x2="28.5" y2="241.47" stroke="#000" stroke-width="0.75"/>
<text x="14.65" y="243.62" font-size="6.3" textLength="8.48" lengthAdjust="spacingAndGlyphs">0.4</text>
<line x1="25.77" y1="220.16" x2="28.5" y2="220.16" stroke="#000" stroke-width="0.75"/>
<text x="14.71" y="222.31" font-size="6.3" textLength="8.48" lengthAdjust="spacingAndGlyphs">0.6</text>
<line x1="25.77" y1="198.84" x2="28.5" y2="198.84" stroke="#000" stroke-width="0.75"/>
<text x="14.71" y="200.99" font-size="6.3" textLength="8.48" lengthAdjust="spacingAndGlyphs">0.8</text>
<line x1="25.77" y1="177.53" x2="28.5" y2="177.53" stroke="#000" stroke-width="0.75"/>
<text x="14.68" y="179.68" font-size="6.3" textLength="8.48" lengthAdjust="spacingAndGlyphs">1.0</text>
<line x1="75.24" y1="284.1" x2="75.24" y2="286.83" stroke="#000" stroke-width="0.75"/>
<text x="71.03" y="293.5" font-size="6.3" textLength="8.48" lengthAdjust="spacingAndGlyphs">0.2</text>
<line x1="121.98" y1="284.1" x2="121.98" y2="286.83" stroke="#000" stroke-width="0.75"/>
<text x="117.71" y="293.5" font-size="6.3" textLength="8.48" lengthAdjust="spacingAndGlyphs">0.4</text>
<line x1="168.72" y1="284.1" x2="168.72" y2="286.83" stroke="#000" stroke-width="0.75"/>
<text x="164.48" y="293.5" font-size="6.3" textLength="8.48" lengthAdjust="spacingAndGlyphs">0.6</text>
<line x1="215.46" y1="284.1" x2="215.46" y2="286.83" stroke="#000" stroke-width="0.75"/>
<text x="211.22" y="293.5" font-size="6.3" textLength="8.48" lengthAdjust="spacingAndGlyphs">0.8</text>
<line x1="262.2" y1="284.1" x2="262.2" y2="286.83" stroke="#000" stroke-width="0.75"/>
<text x="257.84" y="293.5" font-size="6.3" textLength="8.48" lengthAdjust="spacingAndGlyphs">1.0</text>
<text x="133.83" y="304" font-size="8.2" textLength="22.99" lengthAdjust="spacingAndGlyphs">Recall</text>
<text transform="translate(10.55,229.05) rotate(-90)" x="-17.3" y="0" font-size="8.2" textLength="34.63" lengthAdjust="spacingAndGlyphs">Precision</text>
<text x="63.38" y="167.3" font-size="8.0" textLength="5.54" lengthAdjust="spacingAndGlyphs" font-weight="bold">B</text>
<text x="71.69" y="167.3" font-size="8.0" textLength="155.72" lengthAdjust="spacingAndGlyphs">Full Data (10% Positive) Precision Recall</text>
<rect x="31.5" y="191.38" width="87.8" height="89.72" rx="1.2" fill="#fff" fill-opacity="0.8" stroke="#ccc" stroke-width="0.78"/>
<line x1="33.8" y1="196.18" x2="45.2" y2="196.18" stroke="#1f77b4" stroke-width="1.0" stroke-dasharray="0.9 1.2" stroke-opacity="0.75"/>
<text x="50.6" y="198.58" font-size="6.5" textLength="66.18" lengthAdjust="spacingAndGlyphs">Li 2020 Deep Ensemble</text>
<line x1="33.8" y1="204.96" x2="45.2" y2="204.96" stroke="#ff7f0e" stroke-width="1.0" stroke-dasharray="0.9 1.2" stroke-opacity="0.75"/>
<text x="50.6" y="207.36" font-size="6.5" textLength="36.2" lengthAdjust="spacingAndGlyphs">Du 2017 Sep</text>
<line x1="33.8" y1="213.74" x2="45.2" y2="213.74" stroke="#2ca02c" stroke-width="1.0" stroke-dasharray="0.9 1.2" stroke-opacity="0.75"/>
<text x="50.6" y="216.14" font-size="6.5" textLength="38.25" lengthAdjust="spacingAndGlyphs">Ding 2016 RF</text>
<line x1="33.8" y1="222.52" x2="45.2" y2="222.52" stroke="#d62728" stroke-width="1.0" stroke-dasharray="0.9 1.2" stroke-opacity="0.75"/>
<text x="51.01" y="224.92" font-size="6.5" textLength="33.43" lengthAdjust="spacingAndGlyphs">Jia 2015 RF</text>
<line x1="33.8" y1="231.3" x2="45.2" y2="231.3" stroke="#9467bd" stroke-width="1.0" stroke-dasharray="0.9 1.2" stroke-opacity="0.75"/>
<text x="50.6" y="233.7" font-size="6.5" textLength="53.75" lengthAdjust="spacingAndGlyphs">Li 2018 CNN/LSTM</text>
<line x1="33.8" y1="240.08" x2="45.2" y2="240.08" stroke="#8c564b" stroke-width="1.0" stroke-dasharray="0.9 1.2" stroke-opacity="0.75"/>
<text x="51.01" y="242.48" font-size="6.5" textLength="33.43" lengthAdjust="spacingAndGlyphs">Jia 2019 RF</text>
<line x1="34.38" y1="248.86" x2="44.62" y2="248.86" stroke="#1f77b4" stroke-width="1.17" stroke-linecap="square"/>
<text x="50.6" y="251.26" font-size="6.5" textLength="33.08" lengthAdjust="spacingAndGlyphs">Bias Prot ID</text>
<line x1="34.38" y1="257.64" x2="44.62" y2="257.64" stroke="#ff7f0e" stroke-width="1.17" stroke-linecap="square"/>
<text x="50.6" y="260.04" font-size="6.5" textLength="37.22" lengthAdjust="spacingAndGlyphs">Bias Seq Sim</text>
<line x1="34.38" y1="266.42" x2="44.62" y2="266.42" stroke="#2ca02c" stroke-width="1.17" stroke-linecap="square"/>
<text x="50.6" y="268.82" font-size="6.5" textLength="34.81" lengthAdjust="spacingAndGlyphs">Random Net</text>
<line x1="34.65" y1="275.2" x2="44.35" y2="275.2" stroke="#d62728" stroke-width="1.7" stroke-linecap="square" stroke-opacity="0.6"/>
<text x="50.6" y="277.6" font-size="6.5" textLength="33.42" lengthAdjust="spacingAndGlyphs">Random RF</text>
<path d="M28.5,355.7L28.5,355.8L28.5,355.9L28.5,356.0L28.5,356.1L28.5,356.3L28.5,356.5L28.6,356.7L28.6,357.0L28.6,357.3L28.6,357.6L28.7,357.9L28.7,358.2L28.7,358.6L28.8,358.9L28.8,359.3L28.9,359.8L29.0,360.2L29.0,360.6L29.1,361.1L29.2,361.6L29.2,362.1L29.3,362.6L29.4,363.1L29.5,363.6L29.6,364.1L29.7,364.7L29.9,365.4L30.0,366.2L30.1,367.1L30.3,368.1L30.4,369.2L30.6,370.3L30.7,371.5L30.9,372.7L31.1,373.9L31.2,375.1L31.4,376.4L31.6,377.9L31.8,379.4L32.0,380.9L32.3,382.5L32.5,384.0L32.7,385.5L33.0,386.8L33.2,387.9L33.5,389.0L33.8,390.1L34.0,391.1L34.3,392.1L34.6,393.0L34.9,393.9L35.2,394.8L35.6,395.6L35.9,396.4L36.2,397.1L36.6,397.8L36.9,398.4L37.3,399.0L37.7,399.5L38.1,400.0L38.5,400.5L38.9,400.9L39.3,401.3L39.7,401.7L40.2,402.1L40.6,402.5L41.1,402.9L41.5,403.3L42.0,403.6L42.5,404.0L43.0,404.4L43.5,404.8L44.0,405.2L44.5,405.6L45.1,406.0L45.6,406.4L46.2,406.8L46.8,407.1L47.3,407.5L47.9,407.9L48.5,408.3L49.2,408.7L49.8,409.0L50.4,409.4L51.1,409.8L51.7,410.1L52.4,410.5L53.1,410.8L53.8,411.2L54.5,411.5L55.2,411.9L56.0,412.2L56.7,412.5L57.5,412.9L58.2,413.2L59.0,413.5L59.8,413.8L60.6,414.1L61.4,414.5L62.3,414.8L63.1,415.1L64.0,415.4L64.8,415.8L65.7,416.1L66.6,416.5L67.5,416.9L68.4,417.2L69.3,417.7L70.3,418.1L71.2,418.5L72.2,418.9L73.2,419.3L74.2,419.8L75.2,420.2L76.2,420.6L77.3,421.0L78.3,421.3L79.4,421.7L80.4,422.0L81.5,422.3L82.6,422.6L83.7,422.8L84.9,423.1L86.0,423.4L87.2,423.6L88.3,423.9L89.5,424.1L90.7,424.4L91.9,424.6L93.2,424.8L94.4,425.1L95.7,425.3L96.9,425.5L98.2,425.7L99.5,426.0L100.8,426.2L102.2,426.4L103.5,426.6L104.9,426.8L106.2,427.0L107.6,427.3L109.0,427.5L110.4,427.7L111.9,427.9L113.3,428.1L114.8,428.4L116.2,428.6L117.7,428.8L119.2,429.0L120.8,429.2L122.3,429.5L123.8,429.7L125.4,429.9L127.0,430.1L128.6,430.3L130.2,430.5L131.8,430.7L133.5,430.9L135.1,431.1L136.8,431.3L138.5,431.5L140.2,431.6L141.9,431.8L143.6,432.0L145.4,432.2L147.2,432.3L149.0,432.5L150.8,432.7L152.6,432.8L154.4,433.0L156.3,433.1L158.1,433.3L160.0,433.4L161.9,433.6L163.8,433.8L165.7,433.9L167.7,434.1L169.7,434.2L171.6,434.4L173.6,434.5L175.6,434.7L177.7,434.8L179.7,435.0L181.8,435.1L183.9,435.3L186.0,435.5L188.1,435.6L190.2,435.8L192.3,435.9L194.5,436.1L196.7,436.2L198.9,436.4L201.1,436.6L203.3,436.7L205.6,436.9L207.9,437.0L210.1,437.2L212.4,437.3L214.8,437.5L217.1,437.7L219.5,437.8L221.8,438.0L224.2,438.1L226.6,438.3L229.0,438.5L231.5,438.6L234.0,438.8L236.4,438.9L238.9,439.1L241.4,439.3L244.0,439.4L246.5,439.6L249.1,439.8L251.7,439.9L254.3,440.1L256.9,440.2L259.5,440.4L262.2,440.6" fill="none" stroke="#1f77b4" stroke-width="1.2" stroke-dasharray="1.5 0.5" stroke-opacity="0.9" stroke-linecap="butt" stroke-linejoin="round"/>
<path d="M28.5,393.0L28.5,393.1L28.5,393.2L28.6,393.3L28.6,393.4L28.6,393.5L28.7,393.6L28.7,393.7L28.7,393.8L28.8,393.9L28.8,394.0L28.9,394.1L29.0,394.2L29.0,394.3L29.1,394.4L29.2,394.5L29.2,394.6L29.3,394.8L29.4,394.9L29.5,395.0L29.6,395.1L29.7,395.3L29.9,395.4L30.0,395.6L30.1,395.7L30.3,395.9L30.4,396.1L30.6,396.3L30.7,396.6L30.9,396.8L31.1,397.0L31.2,397.3L31.4,397.6L31.6,397.8L31.8,398.1L32.0,398.4L32.3,398.8L32.5,399.2L32.7,399.6L33.0,400.1L33.2,400.6L33.5,401.1L33.8,401.6L34.0,402.0L34.3,402.5L34.6,402.8L34.9,403.2L35.2,403.4L35.6,403.6L35.9,403.8L36.2,404.0L36.6,404.1L36.9,404.3L37.3,404.5L37.7,404.7L38.1,404.9L38.5,405.2L38.9,405.5L39.3,405.8L39.7,406.2L40.2,406.5L40.6,406.9L41.1,407.4L41.5,407.9L42.0,408.5L42.5,409.1L43.0,409.8L43.5,410.5L44.0,411.1L44.5,411.6L45.1,412.1L45.6,412.5L46.2,412.9L46.8,413.3L47.3,413.7L47.9,414.1L48.5,414.5L49.2,414.9L49.8,415.3L50.4,415.7L51.1,416.1L51.7,416.5L52.4,416.9L53.1,417.2L53.8,417.6L54.5,417.9L55.2,418.3L56.0,418.6L56.7,418.9L57.5,419.2L58.2,419.6L59.0,419.9L59.8,420.2L60.6,420.5L61.4,420.8L62.3,421.0L63.1,421.3L64.0,421.6L64.8,421.8L65.7,422.1L66.6,422.3L67.5,422.6L68.4,422.8L69.3,423.0L70.3,423.2L71.2,423.5L72.2,423.7L73.2,423.9L74.2,424.1L75.2,424.2L76.2,424.4L77.3,424.6L78.3,424.8L79.4,425.0L80.4,425.2L81.5,425.4L82.6,425.6L83.7,425.8L84.9,426.0L86.0,426.2L87.2,426.4L88.3,426.6L89.5,426.8L90.7,427.0L91.9,427.2L93.2,427.4L94.4,427.6L95.7,427.8L96.9,428.0L98.2,428.2L99.5,428.4L100.8,428.6L102.2,428.8L103.5,428.9L104.9,429.1L106.2,429.3L107.6,429.5L109.0,429.7L110.4,429.8L111.9,430.0L113.3,430.2L114.8,430.3L116.2,430.5L117.7,430.6L119.2,430.8L120.8,430.9L122.3,431.1L123.8,431.2L125.4,431.4L127.0,431.5L128.6,431.7L130.2,431.8L131.8,432.0L133.5,432.1L135.1,432.3L136.8,432.4L138.5,432.6L140.2,432.7L141.9,432.9L143.6,433.0L145.4,433.1L147.2,433.3L149.0,433.4L150.8,433.6L152.6,433.7L154.4,433.8L156.3,434.0L158.1,434.1L160.0,434.2L161.9,434.4L163.8,434.5L165.7,434.7L167.7,434.8L169.7,434.9L171.6,435.1L173.6,435.2L175.6,435.3L177.7,435.5L179.7,435.6L181.8,435.8L183.9,435.9L186.0,436.0L188.1,436.2L190.2,436.3L192.3,436.5L194.5,436.6L196.7,436.8L198.9,436.9L201.1,437.1L203.3,437.2L205.6,437.3L207.9,437.5L210.1,437.6L212.4,437.8L214.8,437.9L217.1,438.1L219.5,438.2L221.8,438.3L224.2,438.5L226.6,438.6L229.0,438.8L231.5,438.9L234.0,439.0L236.4,439.2L238.9,439.3L241.4,439.5L244.0,439.6L246.5,439.7L249.1,439.9L251.7,440.0L254.3,440.2L256.9,440.3L259.5,440.4L262.2,440.6" fill="none" stroke="#ff7f0e" stroke-width="1.2" stroke-dasharray="2 0.4" stroke-opacity="0.9" stroke-linecap="butt" stroke-linejoin="round"/>
<path d="M28.5,361.1L28.5,361.2L28.5,361.3L28.5,361.5L28.5,361.6L28.5,361.9L28.5,362.1L28.6,362.4L28.6,362.8L28.6,363.1L28.6,363.5L28.7,363.9L28.7,364.4L28.7,364.8L28.8,365.3L28.8,365.8L28.9,366.3L29.0,366.9L29.0,367.4L29.1,368.0L29.2,368.6L29.2,369.2L29.3,369.7L29.4,370.3L29.5,370.9L29.6,371.5L29.7,372.2L29.9,372.9L30.0,373.7L30.1,374.6L30.3,375.6L30.4,376.6L30.6,377.7L30.7,378.8L30.9,379.9L31.1,381.0L31.2,382.0L31.4,383.1L31.6,384.2L31.8,385.4L32.0,386.6L32.3,387.8L32.5,389.0L32.7,390.1L33.0,391.2L33.2,392.2L33.5,393.1L33.8,394.0L34.0,394.8L34.3,395.7L34.6,396.5L34.9,397.3L35.2,398.1L35.6,398.8L35.9,399.5L36.2,400.2L36.6,400.9L36.9,401.6L37.3,402.3L37.7,402.9L38.1,403.5L38.5,404.1L38.9,404.7L39.3,405.3L39.7,405.9L40.2,406.5L40.6,407.0L41.1,407.6L41.5,408.1L42.0,408.6L42.5,409.1L43.0,409.6L43.5,410.1L44.0,410.6L44.5,411.1L45.1,411.6L45.6,412.0L46.2,412.5L46.8,412.9L47.3,413.4L47.9,413.8L48.5,414.2L49.2,414.7L49.8,415.1L50.4,415.5L51.1,415.9L51.7,416.3L52.4,416.8L53.1,417.2L53.8,417.6L54.5,418.0L55.2,418.4L56.0,418.9L56.7,419.3L57.5,419.7L58.2,420.1L59.0,420.5L59.8,420.9L60.6,421.4L61.4,421.8L62.3,422.1L63.1,422.5L64.0,422.9L64.8,423.3L65.7,423.6L66.6,423.9L67.5,424.3L68.4,424.6L69.3,424.9L70.3,425.2L71.2,425.6L72.2,425.9L73.2,426.2L74.2,426.4L75.2,426.7L76.2,427.0L77.3,427.2L78.3,427.5L79.4,427.7L80.4,427.9L81.5,428.1L82.6,428.3L83.7,428.4L84.9,428.6L86.0,428.8L87.2,429.0L88.3,429.1L89.5,429.3L90.7,429.4L91.9,429.6L93.2,429.7L94.4,429.8L95.7,430.0L96.9,430.1L98.2,430.2L99.5,430.4L100.8,430.5L102.2,430.6L103.5,430.8L104.9,430.9L106.2,431.0L107.6,431.2L109.0,431.3L110.4,431.4L111.9,431.6L113.3,431.7L114.8,431.8L116.2,431.9L117.7,432.1L119.2,432.2L120.8,432.3L122.3,432.4L123.8,432.6L125.4,432.7L127.0,432.8L128.6,432.9L130.2,433.1L131.8,433.2L133.5,433.3L135.1,433.4L136.8,433.5L138.5,433.6L140.2,433.8L141.9,433.9L143.6,434.0L145.4,434.1L147.2,434.2L149.0,434.3L150.8,434.5L152.6,434.6L154.4,434.7L156.3,434.8L158.1,434.9L160.0,435.0L161.9,435.1L163.8,435.2L165.7,435.4L167.7,435.5L169.7,435.6L171.6,435.7L173.6,435.8L175.6,435.9L177.7,436.0L179.7,436.2L181.8,436.3L183.9,436.4L186.0,436.5L188.1,436.7L190.2,436.8L192.3,436.9L194.5,437.0L196.7,437.2L198.9,437.3L201.1,437.4L203.3,437.6L205.6,437.7L207.9,437.8L210.1,437.9L212.4,438.1L214.8,438.2L217.1,438.3L219.5,438.5L221.8,438.6L224.2,438.7L226.6,438.8L229.0,439.0L231.5,439.1L234.0,439.2L236.4,439.3L238.9,439.5L241.4,439.6L244.0,439.7L246.5,439.8L249.1,440.0L251.7,440.1L254.3,440.2L256.9,440.3L259.5,440.5L262.2,440.6" fill="none" stroke="#2ca02c" stroke-width="1.0" stroke-dasharray="0.9 1.2" stroke-opacity="0.75" stroke-linecap="butt" stroke-linejoin="round"/>
<path d="M28.5,382.4L28.5,382.5L28.5,382.6L28.5,382.7L28.6,382.8L28.6,382.9L28.6,383.0L28.6,383.1L28.7,383.2L28.7,383.4L28.7,383.5L28.8,383.7L28.8,383.9L28.9,384.1L29.0,384.3L29.0,384.5L29.1,384.7L29.2,384.9L29.2,385.1L29.3,385.3L29.4,385.6L29.5,385.8L29.6,386.1L29.7,386.4L29.9,386.6L30.0,386.9L30.1,387.2L30.3,387.5L30.4,387.8L30.6,388.2L30.7,388.7L30.9,389.3L31.1,390.1L31.2,390.9L31.4,391.7L31.6,392.6L31.8,393.5L32.0,394.4L32.3,395.3L32.5,396.2L32.7,397.0L33.0,397.8L33.2,398.5L33.5,399.2L33.8,399.8L34.0,400.5L34.3,401.1L34.6,401.8L34.9,402.4L35.2,403.0L35.6,403.6L35.9,404.2L36.2,404.7L36.6,405.3L36.9,405.9L37.3,406.4L37.7,407.0L38.1,407.5L38.5,408.0L38.9,408.5L39.3,409.1L39.7,409.6L40.2,410.1L40.6,410.6L41.1,411.0L41.5,411.5L42.0,412.0L42.5,412.4L43.0,412.9L43.5,413.3L44.0,413.7L44.5,414.2L45.1,414.6L45.6,415.0L46.2,415.4L46.8,415.7L47.3,416.1L47.9,416.5L48.5,416.9L49.2,417.2L49.8,417.6L50.4,418.0L51.1,418.3L51.7,418.7L52.4,419.0L53.1,419.4L53.8,419.7L54.5,420.1L55.2,420.4L56.0,420.8L56.7,421.1L57.5,421.5L58.2,421.8L59.0,422.2L59.8,422.5L60.6,422.9L61.4,423.2L62.3,423.5L63.1,423.8L64.0,424.1L64.8,424.4L65.7,424.7L66.6,425.0L67.5,425.3L68.4,425.6L69.3,425.8L70.3,426.1L71.2,426.3L72.2,426.6L73.2,426.8L74.2,427.0L75.2,427.3L76.2,427.5L77.3,427.7L78.3,427.9L79.4,428.1L80.4,428.3L81.5,428.5L82.6,428.7L83.7,428.8L84.9,429.0L86.0,429.2L87.2,429.4L88.3,429.5L89.5,429.7L90.7,429.8L91.9,430.0L93.2,430.1L94.4,430.3L95.7,430.4L96.9,430.6L98.2,430.7L99.5,430.9L100.8,431.0L102.2,431.1L103.5,431.3L104.9,431.4L106.2,431.6L107.6,431.7L109.0,431.8L110.4,432.0L111.9,432.1L113.3,432.2L114.8,432.3L116.2,432.5L117.7,432.6L119.2,432.7L120.8,432.8L122.3,432.9L123.8,433.1L125.4,433.2L127.0,433.3L128.6,433.4L130.2,433.5L131.8,433.6L133.5,433.7L135.1,433.9L136.8,434.0L138.5,434.1L140.2,434.2L141.9,434.3L143.6,434.4L145.4,434.5L147.2,434.6L149.0,434.8L150.8,434.9L152.6,435.0L154.4,435.1L156.3,435.2L158.1,435.3L160.0,435.4L161.9,435.5L163.8,435.6L165.7,435.7L167.7,435.8L169.7,435.9L171.6,436.0L173.6,436.2L175.6,436.3L177.7,436.4L179.7,436.5L181.8,436.6L183.9,436.7L186.0,436.8L188.1,436.9L190.2,437.0L192.3,437.1L194.5,437.3L196.7,437.4L198.9,437.5L201.1,437.6L203.3,437.7L205.6,437.8L207.9,437.9L210.1,438.0L212.4,438.2L214.8,438.3L217.1,438.4L219.5,438.5L221.8,438.6L224.2,438.7L226.6,438.8L229.0,439.0L231.5,439.1L234.0,439.2L236.4,439.3L238.9,439.4L241.4,439.6L244.0,439.7L246.5,439.8L249.1,439.9L251.7,440.1L254.3,440.2L256.9,440.3L259.5,440.4L262.2,440.6" fill="none" stroke="#d62728" stroke-width="1.0" stroke-dasharray="0.9 1.2" stroke-opacity="0.75" stroke-linecap="butt" stroke-linejoin="round"/>
<path d="M28.5,366.4L28.5,366.5L28.5,366.7L28.5,366.8L28.5,367.0L28.5,367.2L28.6,367.4L28.6,367.7L28.6,367.9L28.6,368.2L28.7,368.6L28.7,368.9L28.7,369.3L28.8,369.6L28.8,370.0L28.9,370.5L29.0,370.9L29.0,371.3L29.1,371.8L29.2,372.3L29.2,372.7L29.3,373.2L29.4,373.7L29.5,374.3L29.6,374.8L29.7,375.3L29.9,376.0L30.0,376.8L30.1,377.8L30.3,378.7L30.4,379.8L30.6,380.9L30.7,382.0L30.9,383.1L31.1,384.2L31.2,385.2L31.4,386.2L31.6,387.3L31.8,388.3L32.0,389.4L32.3,390.4L32.5,391.4L32.7,392.4L33.0,393.4L33.2,394.3L33.5,395.2L33.8,396.1L34.0,396.9L34.3,397.8L34.6,398.6L34.9,399.4L35.2,400.2L35.6,401.0L35.9,401.7L36.2,402.4L36.6,403.1L36.9,403.7L37.3,404.3L37.7,404.9L38.1,405.5L38.5,406.0L38.9,406.5L39.3,407.0L39.7,407.5L40.2,408.0L40.6,408.4L41.1,408.9L41.5,409.4L42.0,409.8L42.5,410.3L43.0,410.7L43.5,411.2L44.0,411.7L44.5,412.1L45.1,412.6L45.6,413.0L46.2,413.5L46.8,414.0L47.3,414.4L47.9,414.9L48.5,415.3L49.2,415.7L49.8,416.2L50.4,416.6L51.1,417.0L51.7,417.4L52.4,417.8L53.1,418.3L53.8,418.7L54.5,419.1L55.2,419.4L56.0,419.8L56.7,420.2L57.5,420.6L58.2,421.0L59.0,421.4L59.8,421.8L60.6,422.1L61.4,422.5L62.3,422.8L63.1,423.2L64.0,423.5L64.8,423.9L65.7,424.2L66.6,424.5L67.5,424.8L68.4,425.1L69.3,425.4L70.3,425.7L71.2,425.9L72.2,426.2L73.2,426.5L74.2,426.7L75.2,427.0L76.2,427.2L77.3,427.5L78.3,427.7L79.4,427.9L80.4,428.1L81.5,428.3L82.6,428.5L83.7,428.6L84.9,428.8L86.0,429.0L87.2,429.1L88.3,429.3L89.5,429.5L90.7,429.6L91.9,429.7L93.2,429.9L94.4,430.0L95.7,430.2L96.9,430.3L98.2,430.4L99.5,430.6L100.8,430.7L102.2,430.8L103.5,431.0L104.9,431.1L106.2,431.2L107.6,431.4L109.0,431.5L110.4,431.6L111.9,431.8L113.3,431.9L114.8,432.0L116.2,432.2L117.7,432.3L119.2,432.4L120.8,432.5L122.3,432.7L123.8,432.8L125.4,432.9L127.0,433.0L128.6,433.2L130.2,433.3L131.8,433.4L133.5,433.5L135.1,433.6L136.8,433.7L138.5,433.9L140.2,434.0L141.9,434.1L143.6,434.2L145.4,434.3L147.2,434.4L149.0,434.5L150.8,434.6L152.6,434.8L154.4,434.9L156.3,435.0L158.1,435.1L160.0,435.2L161.9,435.3L163.8,435.4L165.7,435.5L167.7,435.6L169.7,435.7L171.6,435.8L173.6,435.9L175.6,436.0L177.7,436.2L179.7,436.3L181.8,436.4L183.9,436.5L186.0,436.6L188.1,436.7L190.2,436.9L192.3,437.0L194.5,437.1L196.7,437.2L198.9,437.4L201.1,437.5L203.3,437.6L205.6,437.7L207.9,437.8L210.1,438.0L212.4,438.1L214.8,438.2L217.1,438.3L219.5,438.5L221.8,438.6L224.2,438.7L226.6,438.8L229.0,439.0L231.5,439.1L234.0,439.2L236.4,439.3L238.9,439.5L241.4,439.6L244.0,439.7L246.5,439.8L249.1,440.0L251.7,440.1L254.3,440.2L256.9,440.3L259.5,440.4L262.2,440.6" fill="none" stroke="#9467bd" stroke-width="1.0" stroke-dasharray="0.9 1.2" stroke-opacity="0.75" stroke-linecap="butt" stroke-linejoin="round"/>
<path d="M28.5,357.9L28.5,358.0L28.5,358.1L28.5,358.3L28.5,358.5L28.5,358.7L28.6,358.9L28.6,359.1L28.6,359.4L28.6,359.7L28.7,360.0L28.7,360.4L28.7,360.7L28.8,361.1L28.8,361.5L28.9,361.9L29.0,362.4L29.0,362.8L29.1,363.3L29.2,363.7L29.2,364.2L29.3,364.7L29.4,365.2L29.5,365.7L29.6,366.2L29.7,366.8L29.9,367.5L30.0,368.3L30.1,369.1L30.3,370.1L30.4,371.1L30.6,372.2L30.7,373.3L30.9,374.4L31.1,375.6L31.2,376.7L31.4,377.8L31.6,379.0L31.8,380.3L32.0,381.7L32.3,383.0L32.5,384.4L32.7,385.6L33.0,386.8L33.2,387.9L33.5,388.9L33.8,389.9L34.0,390.9L34.3,391.8L34.6,392.7L34.9,393.6L35.2,394.5L35.6,395.3L35.9,396.1L36.2,396.9L36.6,397.7L36.9,398.4L37.3,399.2L37.7,399.9L38.1,400.6L38.5,401.3L38.9,401.9L39.3,402.6L39.7,403.3L40.2,403.9L40.6,404.5L41.1,405.1L41.5,405.7L42.0,406.3L42.5,406.9L43.0,407.5L43.5,408.0L44.0,408.5L44.5,409.1L45.1,409.6L45.6,410.1L46.2,410.6L46.8,411.0L47.3,411.5L47.9,412.0L48.5,412.4L49.2,412.9L49.8,413.3L50.4,413.8L51.1,414.2L51.7,414.7L52.4,415.1L53.1,415.5L53.8,416.0L54.5,416.4L55.2,416.9L56.0,417.4L56.7,417.8L57.5,418.3L58.2,418.7L59.0,419.2L59.8,419.6L60.6,420.1L61.4,420.5L62.3,420.9L63.1,421.3L64.0,421.7L64.8,422.1L65.7,422.5L66.6,422.9L67.5,423.2L68.4,423.6L69.3,424.0L70.3,424.3L71.2,424.7L72.2,425.0L73.2,425.3L74.2,425.7L75.2,426.0L76.2,426.3L77.3,426.5L78.3,426.8L79.4,427.0L80.4,427.3L81.5,427.5L82.6,427.7L83.7,427.9L84.9,428.1L86.0,428.2L87.2,428.4L88.3,428.6L89.5,428.8L90.7,428.9L91.9,429.1L93.2,429.2L94.4,429.4L95.7,429.5L96.9,429.7L98.2,429.8L99.5,430.0L100.8,430.1L102.2,430.3L103.5,430.4L104.9,430.5L106.2,430.7L107.6,430.8L109.0,431.0L110.4,431.1L111.9,431.2L113.3,431.4L114.8,431.5L116.2,431.7L117.7,431.8L119.2,431.9L120.8,432.1L122.3,432.2L123.8,432.3L125.4,432.4L127.0,432.6L128.6,432.7L130.2,432.8L131.8,432.9L133.5,433.1L135.1,433.2L136.8,433.3L138.5,433.4L140.2,433.6L141.9,433.7L143.6,433.8L145.4,433.9L147.2,434.0L149.0,434.2L150.8,434.3L152.6,434.4L154.4,434.5L156.3,434.6L158.1,434.8L160.0,434.9L161.9,435.0L163.8,435.1L165.7,435.2L167.7,435.3L169.7,435.5L171.6,435.6L173.6,435.7L175.6,435.8L177.7,435.9L179.7,436.1L181.8,436.2L183.9,436.3L186.0,436.4L188.1,436.6L190.2,436.7L192.3,436.8L194.5,436.9L196.7,437.1L198.9,437.2L201.1,437.3L203.3,437.4L205.6,437.6L207.9,437.7L210.1,437.8L212.4,438.0L214.8,438.1L217.1,438.2L219.5,438.3L221.8,438.5L224.2,438.6L226.6,438.7L229.0,438.9L231.5,439.0L234.0,439.1L236.4,439.3L238.9,439.4L241.4,439.5L244.0,439.6L246.5,439.8L249.1,439.9L251.7,440.0L254.3,440.2L256.9,440.3L259.5,440.4L262.2,440.6" fill="none" stroke="#8c564b" stroke-width="1.0" stroke-dasharray="0.9 1.2" stroke-opacity="0.75" stroke-linecap="butt" stroke-linejoin="round"/>
<path d="M28.5,361.1L28.5,361.9L28.5,362.7L28.5,363.5L28.5,364.3L28.5,365.2L28.5,366.1L28.5,367.0L28.6,368.0L28.6,368.9L28.6,369.9L28.6,370.9L28.7,371.9L28.7,372.9L28.7,373.9L28.8,375.0L28.8,376.0L28.9,377.1L29.0,378.2L29.0,379.3L29.1,380.4L29.2,381.6L29.2,382.7L29.3,383.9L29.4,385.0L29.5,386.2L29.6,387.4L29.7,388.6L29.9,389.9L30.0,391.2L30.1,392.7L30.3,394.1L30.4,395.6L30.6,397.1L30.7,398.5L30.9,399.8L31.1,401.1L31.2,402.3L31.4,403.3L31.6,404.3L31.8,405.3L32.0,406.2L32.3,407.0L32.5,407.9L32.7,408.7L33.0,409.5L33.2,410.3L33.5,411.0L33.8,411.8L34.0,412.6L34.3,413.4L34.6,414.1L34.9,414.8L35.2,415.4L35.6,415.9L35.9,416.3L36.2,416.7L36.6,417.1L36.9,417.4L37.3,417.8L37.7,418.0L38.1,418.3L38.5,418.6L38.9,418.8L39.3,419.1L39.7,419.3L40.2,419.6L40.6,419.8L41.1,420.1L41.5,420.4L42.0,420.6L42.5,420.9L43.0,421.1L43.5,421.4L44.0,421.6L44.5,421.9L45.1,422.1L45.6,422.4L46.2,422.6L46.8,422.8L47.3,423.1L47.9,423.3L48.5,423.5L49.2,423.8L49.8,424.0L50.4,424.2L51.1,424.4L51.7,424.6L52.4,424.8L53.1,425.0L53.8,425.2L54.5,425.4L55.2,425.6L56.0,425.8L56.7,426.0L57.5,426.2L58.2,426.4L59.0,426.6L59.8,426.8L60.6,427.0L61.4,427.1L62.3,427.3L63.1,427.5L64.0,427.7L64.8,427.9L65.7,428.0L66.6,428.2L67.5,428.4L68.4,428.5L69.3,428.7L70.3,428.9L71.2,429.0L72.2,429.2L73.2,429.3L74.2,429.5L75.2,429.7L76.2,429.8L77.3,430.0L78.3,430.1L79.4,430.3L80.4,430.4L81.5,430.6L82.6,430.7L83.7,430.9L84.9,431.0L86.0,431.1L87.2,431.3L88.3,431.4L89.5,431.6L90.7,431.7L91.9,431.8L93.2,432.0L94.4,432.1L95.7,432.2L96.9,432.3L98.2,432.5L99.5,432.6L100.8,432.7L102.2,432.8L103.5,433.0L104.9,433.1L106.2,433.2L107.6,433.3L109.0,433.4L110.4,433.6L111.9,433.7L113.3,433.8L114.8,433.9L116.2,434.0L117.7,434.1L119.2,434.2L120.8,434.3L122.3,434.4L123.8,434.5L125.4,434.6L127.0,434.7L128.6,434.8L130.2,434.9L131.8,435.0L133.5,435.1L135.1,435.2L136.8,435.3L138.5,435.4L140.2,435.5L141.9,435.6L143.6,435.7L145.4,435.7L147.2,435.8L149.0,435.9L150.8,436.0L152.6,436.1L154.4,436.2L156.3,436.2L158.1,436.3L160.0,436.4L161.9,436.5L163.8,436.6L165.7,436.6L167.7,436.7L169.7,436.8L171.6,436.9L173.6,437.0L175.6,437.1L177.7,437.2L179.7,437.2L181.8,437.3L183.9,437.4L186.0,437.5L188.1,437.6L190.2,437.7L192.3,437.8L194.5,437.9L196.7,438.0L198.9,438.1L201.1,438.2L203.3,438.3L205.6,438.4L207.9,438.5L210.1,438.6L212.4,438.7L214.8,438.8L217.1,438.9L219.5,439.0L221.8,439.1L224.2,439.2L226.6,439.3L229.0,439.4L231.5,439.5L234.0,439.6L236.4,439.7L238.9,439.7L241.4,439.8L244.0,439.9L246.5,440.0L249.1,440.1L251.7,440.2L254.3,440.3L256.9,440.4L259.5,440.5L262.2,440.6" fill="none" stroke="#1f77b4" stroke-width="1.17" stroke-linecap="square" stroke-linejoin="round"/>
<path d="M28.5,387.7L28.5,387.8L28.5,387.9L28.5,388.0L28.5,388.1L28.6,388.2L28.6,388.3L28.6,388.4L28.6,388.6L28.7,388.8L28.7,389.0L28.7,389.2L28.8,389.4L28.8,389.6L28.9,389.9L29.0,390.2L29.0,390.5L29.1,390.8L29.2,391.1L29.2,391.5L29.3,391.8L29.4,392.2L29.5,392.6L29.6,393.1L29.7,393.5L29.9,394.0L30.0,394.7L30.1,396.2L30.3,398.3L30.4,400.9L30.6,403.7L30.7,406.7L30.9,409.5L31.1,411.9L31.2,413.9L31.4,415.7L31.6,417.5L31.8,419.2L32.0,420.7L32.3,421.9L32.5,422.6L32.7,423.1L33.0,423.5L33.2,423.9L33.5,424.2L33.8,424.5L34.0,424.8L34.3,425.0L34.6,425.3L34.9,425.5L35.2,425.6L35.6,425.8L35.9,425.9L36.2,426.1L36.6,426.2L36.9,426.3L37.3,426.4L37.7,426.5L38.1,426.6L38.5,426.7L38.9,426.7L39.3,426.8L39.7,426.9L40.2,427.0L40.6,427.1L41.1,427.2L41.5,427.3L42.0,427.4L42.5,427.5L43.0,427.6L43.5,427.7L44.0,427.8L44.5,427.8L45.1,427.9L45.6,428.0L46.2,428.1L46.8,428.2L47.3,428.3L47.9,428.4L48.5,428.5L49.2,428.6L49.8,428.7L50.4,428.8L51.1,428.9L51.7,429.0L52.4,429.1L53.1,429.2L53.8,429.3L54.5,429.4L55.2,429.5L56.0,429.6L56.7,429.7L57.5,429.8L58.2,429.9L59.0,430.0L59.8,430.1L60.6,430.2L61.4,430.4L62.3,430.5L63.1,430.6L64.0,430.7L64.8,430.8L65.7,430.9L66.6,431.0L67.5,431.1L68.4,431.2L69.3,431.4L70.3,431.5L71.2,431.6L72.2,431.7L73.2,431.8L74.2,431.9L75.2,432.0L76.2,432.1L77.3,432.2L78.3,432.3L79.4,432.4L80.4,432.5L81.5,432.6L82.6,432.7L83.7,432.8L84.9,432.9L86.0,433.0L87.2,433.1L88.3,433.2L89.5,433.4L90.7,433.5L91.9,433.6L93.2,433.7L94.4,433.8L95.7,433.9L96.9,434.0L98.2,434.1L99.5,434.1L100.8,434.2L102.2,434.3L103.5,434.4L104.9,434.5L106.2,434.6L107.6,434.7L109.0,434.8L110.4,434.8L111.9,434.9L113.3,435.0L114.8,435.0L116.2,435.1L117.7,435.2L119.2,435.2L120.8,435.3L122.3,435.3L123.8,435.4L125.4,435.5L127.0,435.5L128.6,435.6L130.2,435.6L131.8,435.7L133.5,435.7L135.1,435.8L136.8,435.9L138.5,435.9L140.2,436.0L141.9,436.1L143.6,436.1L145.4,436.2L147.2,436.3L149.0,436.3L150.8,436.4L152.6,436.5L154.4,436.6L156.3,436.6L158.1,436.7L160.0,436.8L161.9,436.9L163.8,436.9L165.7,437.0L167.7,437.1L169.7,437.2L171.6,437.2L173.6,437.3L175.6,437.4L177.7,437.5L179.7,437.6L181.8,437.6L183.9,437.7L186.0,437.8L188.1,437.9L190.2,438.0L192.3,438.1L194.5,438.1L196.7,438.2L198.9,438.3L201.1,438.4L203.3,438.5L205.6,438.6L207.9,438.7L210.1,438.8L212.4,438.8L214.8,438.9L217.1,439.0L219.5,439.1L221.8,439.2L224.2,439.3L226.6,439.4L229.0,439.5L231.5,439.6L234.0,439.7L236.4,439.7L238.9,439.8L241.4,439.9L244.0,440.0L246.5,440.1L249.1,440.2L251.7,440.3L254.3,440.4L256.9,440.5L259.5,440.6L262.2,440.7" fill="none" stroke="#ff7f0e" stroke-width="1.17" stroke-linecap="square" stroke-linejoin="round"/>
<path d="M28.5,348.3L28.5,349.0L28.5,349.9L28.5,351.0L28.5,352.1L28.5,353.3L28.5,354.7L28.5,356.1L28.6,357.7L28.6,359.3L28.6,361.0L28.6,362.7L28.7,364.6L28.7,366.5L28.7,368.4L28.8,370.4L28.8,372.4L28.9,374.5L29.0,376.6L29.0,378.9L29.1,381.8L29.2,385.0L29.2,388.2L29.3,390.9L29.4,393.0L29.5,394.4L29.6,395.6L29.7,396.7L29.9,397.7L30.0,398.6L30.1,399.4L30.3,400.2L30.4,400.9L30.6,401.6L30.7,402.2L30.9,402.8L31.1,403.3L31.2,403.8L31.4,404.3L31.6,404.8L31.8,405.4L32.0,405.9L32.3,406.5L32.5,407.1L32.7,407.7L33.0,408.3L33.2,408.9L33.5,409.5L33.8,410.1L34.0,410.6L34.3,411.1L34.6,411.6L34.9,412.1L35.2,412.6L35.6,413.0L35.9,413.5L36.2,413.9L36.6,414.4L36.9,414.8L37.3,415.2L37.7,415.6L38.1,415.9L38.5,416.3L38.9,416.6L39.3,417.0L39.7,417.3L40.2,417.6L40.6,417.9L41.1,418.2L41.5,418.5L42.0,418.8L42.5,419.1L43.0,419.3L43.5,419.6L44.0,419.9L44.5,420.1L45.1,420.4L45.6,420.6L46.2,420.9L46.8,421.1L47.3,421.4L47.9,421.6L48.5,421.8L49.2,422.0L49.8,422.3L50.4,422.5L51.1,422.7L51.7,422.9L52.4,423.1L53.1,423.3L53.8,423.5L54.5,423.7L55.2,423.8L56.0,424.0L56.7,424.2L57.5,424.4L58.2,424.6L59.0,424.8L59.8,425.0L60.6,425.1L61.4,425.3L62.3,425.5L63.1,425.7L64.0,425.9L64.8,426.1L65.7,426.3L66.6,426.5L67.5,426.7L68.4,426.9L69.3,427.2L70.3,427.4L71.2,427.6L72.2,427.8L73.2,428.1L74.2,428.3L75.2,428.5L76.2,428.7L77.3,428.9L78.3,429.1L79.4,429.3L80.4,429.5L81.5,429.6L82.6,429.8L83.7,429.9L84.9,430.1L86.0,430.2L87.2,430.3L88.3,430.5L89.5,430.6L90.7,430.7L91.9,430.8L93.2,431.0L94.4,431.1L95.7,431.2L96.9,431.3L98.2,431.4L99.5,431.5L100.8,431.6L102.2,431.8L103.5,431.9L104.9,432.0L106.2,432.1L107.6,432.2L109.0,432.4L110.4,432.5L111.9,432.6L113.3,432.7L114.8,432.9L116.2,433.0L117.7,433.1L119.2,433.3L120.8,433.4L122.3,433.6L123.8,433.7L125.4,433.8L127.0,434.0L128.6,434.1L130.2,434.2L131.8,434.3L133.5,434.5L135.1,434.6L136.8,434.7L138.5,434.8L140.2,434.9L141.9,435.0L143.6,435.2L145.4,435.3L147.2,435.4L149.0,435.4L150.8,435.5L152.6,435.6L154.4,435.7L156.3,435.8L158.1,435.9L160.0,436.0L161.9,436.1L163.8,436.2L165.7,436.3L167.7,436.4L169.7,436.4L171.6,436.5L173.6,436.6L175.6,436.7L177.7,436.8L179.7,436.9L181.8,437.0L183.9,437.1L186.0,437.2L188.1,437.3L190.2,437.4L192.3,437.5L194.5,437.6L196.7,437.8L198.9,437.9L201.1,438.0L203.3,438.1L205.6,438.2L207.9,438.3L210.1,438.4L212.4,438.5L214.8,438.6L217.1,438.7L219.5,438.8L221.8,439.0L224.2,439.1L226.6,439.2L229.0,439.3L231.5,439.4L234.0,439.5L236.4,439.6L238.9,439.7L241.4,439.8L244.0,439.9L246.5,440.0L249.1,440.1L251.7,440.2L254.3,440.3L256.9,440.4L259.5,440.5L262.2,440.6" fill="none" stroke="#2ca02c" stroke-width="1.3" stroke-linecap="square" stroke-linejoin="round"/>
<path d="M28.5,398.4L28.5,398.7L28.5,399.1L28.5,399.4L28.5,399.7L28.5,400.1L28.5,400.4L28.5,400.7L28.6,401.0L28.6,401.3L28.6,401.6L28.6,401.9L28.7,402.2L28.7,402.5L28.7,402.7L28.8,403.0L28.8,403.2L28.9,403.5L29.0,403.7L29.0,404.0L29.1,404.2L29.2,404.4L29.2,404.6L29.3,404.9L29.4,405.0L29.5,405.2L29.6,405.3L29.7,405.5L29.9,405.6L30.0,405.7L30.1,405.9L30.3,406.1L30.4,406.2L30.6,406.4L30.7,406.7L30.9,407.0L31.1,407.4L31.2,407.9L31.4,408.6L31.6,409.4L31.8,410.3L32.0,411.3L32.3,412.5L32.5,413.7L32.7,416.0L33.0,418.7L33.2,420.2L33.5,420.9L33.8,421.5L34.0,422.0L34.3,422.4L34.6,422.8L34.9,423.1L35.2,423.4L35.6,423.7L35.9,424.1L36.2,424.5L36.6,424.8L36.9,425.1L37.3,425.4L37.7,425.8L38.1,426.1L38.5,426.4L38.9,426.6L39.3,426.9L39.7,427.2L40.2,427.4L40.6,427.6L41.1,427.9L41.5,428.1L42.0,428.3L42.5,428.5L43.0,428.7L43.5,428.9L44.0,429.1L44.5,429.3L45.1,429.4L45.6,429.6L46.2,429.8L46.8,430.0L47.3,430.1L47.9,430.3L48.5,430.4L49.2,430.6L49.8,430.7L50.4,430.9L51.1,431.0L51.7,431.2L52.4,431.3L53.1,431.5L53.8,431.6L54.5,431.8L55.2,431.9L56.0,432.1L56.7,432.2L57.5,432.4L58.2,432.5L59.0,432.7L59.8,432.8L60.6,433.0L61.4,433.1L62.3,433.2L63.1,433.4L64.0,433.5L64.8,433.6L65.7,433.8L66.6,433.9L67.5,434.0L68.4,434.2L69.3,434.3L70.3,434.4L71.2,434.5L72.2,434.6L73.2,434.7L74.2,434.9L75.2,435.0L76.2,435.0L77.3,435.1L78.3,435.2L79.4,435.3L80.4,435.4L81.5,435.5L82.6,435.5L83.7,435.6L84.9,435.7L86.0,435.7L87.2,435.8L88.3,435.9L89.5,435.9L90.7,436.0L91.9,436.0L93.2,436.1L94.4,436.1L95.7,436.2L96.9,436.2L98.2,436.3L99.5,436.3L100.8,436.4L102.2,436.4L103.5,436.5L104.9,436.5L106.2,436.6L107.6,436.6L109.0,436.7L110.4,436.7L111.9,436.8L113.3,436.8L114.8,436.9L116.2,436.9L117.7,437.0L119.2,437.0L120.8,437.1L122.3,437.1L123.8,437.2L125.4,437.2L127.0,437.2L128.6,437.3L130.2,437.3L131.8,437.4L133.5,437.4L135.1,437.5L136.8,437.5L138.5,437.5L140.2,437.6L141.9,437.6L143.6,437.7L145.4,437.7L147.2,437.8L149.0,437.8L150.8,437.9L152.6,437.9L154.4,438.0L156.3,438.0L158.1,438.1L160.0,438.1L161.9,438.2L163.8,438.2L165.7,438.3L167.7,438.3L169.7,438.4L171.6,438.4L173.6,438.5L175.6,438.5L177.7,438.6L179.7,438.6L181.8,438.7L183.9,438.7L186.0,438.8L188.1,438.9L190.2,438.9L192.3,439.0L194.5,439.0L196.7,439.1L198.9,439.2L201.1,439.2L203.3,439.3L205.6,439.4L207.9,439.4L210.1,439.5L212.4,439.6L214.8,439.6L217.1,439.7L219.5,439.7L221.8,439.8L224.2,439.9L226.6,439.9L229.0,440.0L231.5,440.0L234.0,440.1L236.4,440.1L238.9,440.2L241.4,440.3L244.0,440.3L246.5,440.4L249.1,440.4L251.7,440.5L254.3,440.5L256.9,440.6L259.5,440.6L262.2,440.7" fill="none" stroke="#d62728" stroke-width="1.1" stroke-opacity="0.9" stroke-linecap="square" stroke-linejoin="round"/>
<rect x="28.5" y="329.1" width="233.7" height="111.9" fill="none" stroke="#000" stroke-width="0.75"/>
<line x1="25.77" y1="441" x2="28.5" y2="441" stroke="#000" stroke-width="0.75"/>
<text x="14.68" y="443.15" font-size="6.3" textLength="8.48" lengthAdjust="spacingAndGlyphs">0.0</text>
<line x1="25.77" y1="419.69" x2="28.5" y2="419.69" stroke="#000" stroke-width="0.75"/>
<text x="14.78" y="421.84" font-size="6.3" textLength="8.48" lengthAdjust="spacingAndGlyphs">0.2</text>
<line x1="25.77" y1="398.37" x2="28.5" y2="398.37" stroke="#000" stroke-width="0.75"/>
<text x="14.65" y="400.52" font-size="6.3" textLength="8.48" lengthAdjust="spacingAndGlyphs">0.4</text>
<line x1="25.77" y1="377.06" x2="28.5" y2="377.06" stroke="#000" stroke-width="0.75"/>
<text x="14.71" y="379.21" font-size="6.3" textLength="8.48" lengthAdjust="spacingAndGlyphs">0.6</text>
<line x1="25.77" y1="355.74" x2="28.5" y2="355.74" stroke="#000" stroke-width="0.75"/>
<text x="14.71" y="357.89" font-size="6.3" textLength="8.48" lengthAdjust="spacingAndGlyphs">0.8</text>
<line x1="25.77" y1="334.43" x2="28.5" y2="334.43" stroke="#000" stroke-width="0.75"/>
<text x="14.68" y="336.58" font-size="6.3" textLength="8.48" lengthAdjust="spacingAndGlyphs">1.0</text>
<line x1="28.5" y1="441" x2="28.5" y2="443.73" stroke="#000" stroke-width="0.75"/>
<text x="24.25" y="450.4" font-size="6.3" textLength="8.48" lengthAdjust="spacingAndGlyphs">0.0</text>
<line x1="75.24" y1="441" x2="75.24" y2="443.73" stroke="#000" stroke-width="0.75"/>
<text x="71.03" y="450.4" font-size="6.3" textLength="8.48" lengthAdjust="spacingAndGlyphs">0.2</text>
<line x1="121.98" y1="441" x2="121.98" y2="443.73" stroke="#000" stroke-width="0.75"/>
<text x="117.71" y="450.4" font-size="6.3" textLength="8.48" lengthAdjust="spacingAndGlyphs">0.4</text>
<line x1="168.72" y1="441" x2="168.72" y2="443.73" stroke="#000" stroke-width="0.75"/>
<text x="164.48" y="450.4" font-size="6.3" textLength="8.48" lengthAdjust="spacingAndGlyphs">0.6</text>
<line x1="215.46" y1="441" x2="215.46" y2="443.73" stroke="#000" stroke-width="0.75"/>
<text x="211.22" y="450.4" font-size="6.3" textLength="8.48" lengthAdjust="spacingAndGlyphs">0.8</text>
<line x1="262.2" y1="441" x2="262.2" y2="443.73" stroke="#000" stroke-width="0.75"/>
<text x="257.84" y="450.4" font-size="6.3" textLength="8.48" lengthAdjust="spacingAndGlyphs">1.0</text>
<text x="133.83" y="460.9" font-size="8.2" textLength="22.99" lengthAdjust="spacingAndGlyphs">Recall</text>
<text transform="translate(10.55,385.95) rotate(-90)" x="-17.3" y="0" font-size="8.2" textLength="34.63" lengthAdjust="spacingAndGlyphs">Precision</text>
<text x="62.14" y="324.2" font-size="8.0" textLength="5.33" lengthAdjust="spacingAndGlyphs" font-weight="bold">C</text>
<text x="70.34" y="324.2" font-size="8.0" textLength="158.15" lengthAdjust="spacingAndGlyphs">Full Data (0.3% Positive) Precision Recall</text>
<rect x="171.4" y="332.1" width="87.8" height="89.72" rx="1.2" fill="#fff" fill-opacity="0.8" stroke="#ccc" stroke-width="0.78"/>
<line x1="173.7" y1="336.9" x2="185.1" y2="336.9" stroke="#1f77b4" stroke-width="1.0" stroke-dasharray="0.9 1.2" stroke-opacity="0.75"/>
<text x="190.5" y="339.3" font-size="6.5" textLength="66.18" lengthAdjust="spacingAndGlyphs">Li 2020 Deep Ensemble</text>
<line x1="173.7" y1="345.68" x2="185.1" y2="345.68" stroke="#ff7f0e" stroke-width="1.0" stroke-dasharray="0.9 1.2" stroke-opacity="0.75"/>
<text x="190.5" y="348.08" font-size="6.5" textLength="36.2" lengthAdjust="spacingAndGlyphs">Du 2017 Sep</text>
<line x1="173.7" y1="354.46" x2="185.1" y2="354.46" stroke="#2ca02c" stroke-width="1.0" stroke-dasharray="0.9 1.2" stroke-opacity="0.75"/>
<text x="190.5" y="356.86" font-size="6.5" textLength="38.25" lengthAdjust="spacingAndGlyphs">Ding 2016 RF</text>
<line x1="173.7" y1="363.24" x2="185.1" y2="363.24" stroke="#d62728" stroke-width="1.0" stroke-dasharray="0.9 1.2" stroke-opacity="0.75"/>
<text x="190.91" y="365.64" font-size="6.5" textLength="33.43" lengthAdjust="spacingAndGlyphs">Jia 2015 RF</text>
<line x1="173.7" y1="372.02" x2="185.1" y2="372.02" stroke="#9467bd" stroke-width="1.0" stroke-dasharray="0.9 1.2" stroke-opacity="0.75"/>
<text x="190.5" y="374.42" font-size="6.5" textLength="53.75" lengthAdjust="spacingAndGlyphs">Li 2018 CNN/LSTM</text>
<line x1="173.7" y1="380.8" x2="185.1" y2="380.8" stroke="#8c564b" stroke-width="1.0" stroke-dasharray="0.9 1.2" stroke-opacity="0.75"/>
<text x="190.91" y="383.2" font-size="6.5" textLength="33.43" lengthAdjust="spacingAndGlyphs">Jia 2019 RF</text>
<line x1="174.28" y1="389.58" x2="184.51" y2="389.58" stroke="#1f77b4" stroke-width="1.17" stroke-linecap="square"/>
<text x="190.5" y="391.98" font-size="6.5" textLength="33.08" lengthAdjust="spacingAndGlyphs">Bias Prot ID</text>
<line x1="174.55" y1="398.36" x2="184.25" y2="398.36" stroke="#ff7f0e" stroke-width="1.7" stroke-linecap="square" stroke-opacity="0.6"/>
<text x="190.5" y="400.76" font-size="6.5" textLength="37.22" lengthAdjust="spacingAndGlyphs">Bias Seq Sim</text>
<line x1="174.55" y1="407.14" x2="184.25" y2="407.14" stroke="#2ca02c" stroke-width="1.7" stroke-linecap="square" stroke-opacity="0.6"/>
<text x="190.5" y="409.54" font-size="6.5" textLength="34.81" lengthAdjust="spacingAndGlyphs">Random Net</text>
<line x1="174.28" y1="415.92" x2="184.51" y2="415.92" stroke="#d62728" stroke-width="1.17" stroke-linecap="square"/>
<text x="190.5" y="418.32" font-size="6.5" textLength="33.42" lengthAdjust="spacingAndGlyphs">Random RF</text>
<path d="M309.4,127.3L309.4,127.2L309.4,127.1L309.4,127.0L309.4,126.9L309.4,126.8L309.4,126.7L309.4,126.6L309.5,126.5L309.5,126.4L309.5,126.3L309.5,126.2L309.5,126.1L309.5,126.0L309.5,125.9L309.5,125.8L309.6,125.6L309.6,125.5L309.6,125.4L309.6,125.2L309.7,125.0L309.7,124.8L309.7,124.7L309.8,124.5L309.8,124.2L309.8,124.0L309.9,123.8L310.0,123.5L310.0,123.2L310.1,122.9L310.1,122.6L310.2,122.3L310.3,122.0L310.4,121.6L310.5,121.2L310.6,120.9L310.8,120.4L310.9,120.0L311.0,119.5L311.2,119.1L311.4,118.6L311.5,118.0L311.7,117.5L312.0,116.9L312.2,116.3L312.5,115.7L312.7,115.1L313.0,114.4L313.3,113.7L313.7,113.0L314.0,112.2L314.4,111.5L314.8,110.7L315.3,109.8L315.8,109.0L316.3,108.1L316.8,107.2L317.4,106.3L318.0,105.3L318.6,104.4L319.3,103.3L320.1,102.3L320.8,101.3L321.6,100.2L322.5,99.1L323.4,98.0L324.4,96.8L325.4,95.7L326.4,94.5L327.5,93.3L328.7,92.1L329.9,90.8L331.2,89.6L332.5,88.3L333.9,87.0L335.4,85.8L336.9,84.4L338.4,83.1L340.1,81.8L341.8,80.5L343.5,79.1L345.4,77.8L347.2,76.4L349.2,75.1L351.2,73.7L353.3,72.4L355.4,71.0L357.6,69.7L359.9,68.4L362.2,67.0L364.6,65.7L367.0,64.4L369.5,63.1L372.0,61.8L374.6,60.5L377.3,59.2L380.0,57.9L382.7,56.7L385.5,55.5L388.4,54.3L391.3,53.1L394.2,51.9L397.1,50.7L400.1,49.6L403.1,48.5L406.1,47.4L409.2,46.3L412.3,45.3L415.4,44.3L418.5,43.3L421.6,42.3L424.7,41.4L427.8,40.5L430.9,39.6L434.0,38.7L437.1,37.9L440.2,37.1L443.3,36.3L446.4,35.5L449.4,34.8L452.4,34.1L455.4,33.4L458.3,32.7L461.2,32.1L464.1,31.5L467.0,30.9L469.8,30.3L472.5,29.8L475.2,29.3L477.9,28.8L480.5,28.3L483.0,27.9L485.5,27.4L487.9,27.0L490.3,26.6L492.6,26.3L494.9,25.9L497.1,25.6L499.2,25.3L501.3,25.0L503.3,24.7L505.3,24.4L507.1,24.2L509.0,23.9L510.7,23.7L512.4,23.5L514.1,23.3L515.6,23.1L517.1,22.9L518.6,22.8L520.0,22.6L521.3,22.5L522.6,22.3L523.8,22.2L525.0,22.1L526.1,22.0L527.1,21.9L528.1,21.8L529.1,21.7L530.0,21.6L530.9,21.6L531.7,21.5L532.4,21.4L533.2,21.4L533.9,21.3L534.5,21.3L535.1,21.2L535.7,21.2L536.2,21.1L536.7,21.1L537.2,21.1L537.7,21.0L538.1,21.0L538.5,21.0L538.8,21.0L539.2,20.9L539.5,20.9L539.8,20.9L540.0,20.9L540.3,20.9L540.5,20.8L540.8,20.8L541.0,20.8L541.1,20.8L541.3,20.8L541.5,20.8L541.6,20.8L541.7,20.8L541.9,20.8L542.0,20.8L542.1,20.8L542.2,20.8L542.3,20.8L542.4,20.8L542.5,20.8L542.5,20.7L542.6,20.7L542.7,20.7L542.8,20.7L542.9,20.7L543.0,20.7L543.1,20.7" fill="none" stroke="#1f77b4" stroke-width="1.3" stroke-dasharray="1.1 0.8" stroke-opacity="0.55" stroke-linecap="butt" stroke-linejoin="round"/>
<path d="M309.4,127.3L309.4,127.2L309.4,127.1L309.4,127.0L309.4,126.9L309.4,126.8L309.4,126.7L309.4,126.6L309.5,126.5L309.5,126.4L309.5,126.3L309.5,126.2L309.5,126.1L309.5,126.0L309.5,125.9L309.5,125.8L309.6,125.7L309.6,125.5L309.6,125.4L309.6,125.2L309.7,125.1L309.7,124.9L309.7,124.7L309.8,124.5L309.8,124.3L309.8,124.1L309.9,123.9L310.0,123.6L310.0,123.3L310.1,123.1L310.1,122.8L310.2,122.5L310.3,122.1L310.4,121.8L310.5,121.4L310.6,121.0L310.8,120.6L310.9,120.2L311.0,119.8L311.2,119.3L311.4,118.8L311.5,118.3L311.7,117.8L312.0,117.2L312.2,116.7L312.5,116.1L312.7,115.4L313.0,114.8L313.3,114.1L313.7,113.4L314.0,112.7L314.4,111.9L314.8,111.2L315.3,110.4L315.8,109.5L316.3,108.7L316.8,107.8L317.4,106.9L318.0,106.0L318.6,105.0L319.3,104.1L320.1,103.1L320.8,102.0L321.6,101.0L322.5,99.9L323.4,98.8L324.4,97.7L325.4,96.6L326.4,95.4L327.5,94.3L328.7,93.1L329.9,91.9L331.2,90.6L332.5,89.4L333.9,88.2L335.4,86.9L336.9,85.6L338.4,84.3L340.1,83.0L341.8,81.7L343.5,80.4L345.4,79.1L347.2,77.7L349.2,76.4L351.2,75.1L353.3,73.7L355.4,72.4L357.6,71.1L359.9,69.7L362.2,68.4L364.6,67.1L367.0,65.8L369.5,64.4L372.0,63.1L374.6,61.9L377.3,60.6L380.0,59.3L382.7,58.1L385.5,56.8L388.4,55.6L391.3,54.4L394.2,53.2L397.1,52.1L400.1,50.9L403.1,49.8L406.1,48.7L409.2,47.6L412.3,46.6L415.4,45.5L418.5,44.5L421.6,43.5L424.7,42.6L427.8,41.6L430.9,40.7L434.0,39.8L437.1,39.0L440.2,38.1L443.3,37.3L446.4,36.5L449.4,35.8L452.4,35.0L455.4,34.3L458.3,33.6L461.2,33.0L464.1,32.3L467.0,31.7L469.8,31.1L472.5,30.6L475.2,30.0L477.9,29.5L480.5,29.0L483.0,28.5L485.5,28.1L487.9,27.6L490.3,27.2L492.6,26.8L494.9,26.4L497.1,26.1L499.2,25.8L501.3,25.4L503.3,25.1L505.3,24.8L507.1,24.6L509.0,24.3L510.7,24.1L512.4,23.8L514.1,23.6L515.6,23.4L517.1,23.2L518.6,23.0L520.0,22.9L521.3,22.7L522.6,22.6L523.8,22.4L525.0,22.3L526.1,22.2L527.1,22.1L528.1,22.0L529.1,21.9L530.0,21.8L530.9,21.7L531.7,21.6L532.4,21.5L533.2,21.5L533.9,21.4L534.5,21.4L535.1,21.3L535.7,21.2L536.2,21.2L536.7,21.2L537.2,21.1L537.7,21.1L538.1,21.1L538.5,21.0L538.8,21.0L539.2,21.0L539.5,20.9L539.8,20.9L540.0,20.9L540.3,20.9L540.5,20.9L540.8,20.9L541.0,20.8L541.1,20.8L541.3,20.8L541.5,20.8L541.6,20.8L541.7,20.8L541.9,20.8L542.0,20.8L542.1,20.8L542.2,20.8L542.3,20.8L542.4,20.8L542.5,20.8L542.6,20.8L542.7,20.7L542.8,20.7L542.9,20.7L543.0,20.7L543.1,20.7" fill="none" stroke="#ff7f0e" stroke-width="1.3" stroke-dasharray="1.1 0.8" stroke-opacity="0.55" stroke-linecap="butt" stroke-linejoin="round"/>
<path d="M309.4,127.3L309.4,127.2L309.4,127.1L309.4,127.0L309.4,126.9L309.4,126.8L309.4,126.7L309.4,126.6L309.5,126.5L309.5,126.4L309.5,126.3L309.5,126.2L309.5,126.1L309.5,126.0L309.5,125.9L309.5,125.8L309.6,125.7L309.6,125.5L309.6,125.4L309.6,125.2L309.7,125.1L309.7,124.9L309.7,124.7L309.8,124.5L309.8,124.3L309.8,124.1L309.9,123.8L310.0,123.6L310.0,123.3L310.1,123.0L310.1,122.7L310.2,122.4L310.3,122.1L310.4,121.7L310.5,121.4L310.6,121.0L310.8,120.6L310.9,120.1L311.0,119.7L311.2,119.2L311.4,118.7L311.5,118.2L311.7,117.7L312.0,117.1L312.2,116.5L312.5,115.9L312.7,115.3L313.0,114.6L313.3,113.9L313.7,113.2L314.0,112.5L314.4,111.7L314.8,110.9L315.3,110.1L315.8,109.3L316.3,108.4L316.8,107.5L317.4,106.6L318.0,105.6L318.6,104.7L319.3,103.7L320.1,102.6L320.8,101.6L321.6,100.5L322.5,99.4L323.4,98.3L324.4,97.2L325.4,96.0L326.4,94.9L327.5,93.7L328.7,92.5L329.9,91.2L331.2,90.0L332.5,88.7L333.9,87.5L335.4,86.2L336.9,84.9L338.4,83.5L340.1,82.2L341.8,80.9L343.5,79.6L345.4,78.2L347.2,76.9L349.2,75.5L351.2,74.2L353.3,72.8L355.4,71.5L357.6,70.1L359.9,68.8L362.2,67.4L364.6,66.1L367.0,64.8L369.5,63.5L372.0,62.2L374.6,60.9L377.3,59.6L380.0,58.3L382.7,57.1L385.5,55.9L388.4,54.6L391.3,53.4L394.2,52.3L397.1,51.1L400.1,50.0L403.1,48.8L406.1,47.7L409.2,46.7L412.3,45.6L415.4,44.6L418.5,43.6L421.6,42.6L424.7,41.7L427.8,40.7L430.9,39.8L434.0,39.0L437.1,38.1L440.2,37.3L443.3,36.5L446.4,35.7L449.4,35.0L452.4,34.3L455.4,33.6L458.3,32.9L461.2,32.3L464.1,31.7L467.0,31.1L469.8,30.5L472.5,29.9L475.2,29.4L477.9,28.9L480.5,28.4L483.0,28.0L485.5,27.6L487.9,27.1L490.3,26.7L492.6,26.4L494.9,26.0L497.1,25.7L499.2,25.4L501.3,25.1L503.3,24.8L505.3,24.5L507.1,24.2L509.0,24.0L510.7,23.8L512.4,23.6L514.1,23.4L515.6,23.2L517.1,23.0L518.6,22.8L520.0,22.7L521.3,22.5L522.6,22.4L523.8,22.3L525.0,22.1L526.1,22.0L527.1,21.9L528.1,21.8L529.1,21.7L530.0,21.7L530.9,21.6L531.7,21.5L532.4,21.4L533.2,21.4L533.9,21.3L534.5,21.3L535.1,21.2L535.7,21.2L536.2,21.1L536.7,21.1L537.2,21.1L537.7,21.0L538.1,21.0L538.5,21.0L538.8,21.0L539.2,20.9L539.5,20.9L539.8,20.9L540.0,20.9L540.3,20.9L540.5,20.9L540.8,20.8L541.0,20.8L541.1,20.8L541.3,20.8L541.5,20.8L541.6,20.8L541.7,20.8L541.9,20.8L542.0,20.8L542.1,20.8L542.2,20.8L542.3,20.8L542.4,20.8L542.5,20.8L542.5,20.7L542.6,20.7L542.7,20.7L542.8,20.7L542.9,20.7L543.0,20.7L543.1,20.7" fill="none" stroke="#e377c2" stroke-width="1.3" stroke-dasharray="1.1 0.8" stroke-opacity="0.55" stroke-linecap="butt" stroke-linejoin="round"/>
<path d="M309.4,127.3L309.4,127.2L309.4,127.1L309.4,127.0L309.4,126.9L309.4,126.8L309.4,126.7L309.4,126.6L309.5,126.6L309.5,126.5L309.5,126.4L309.5,126.3L309.5,126.2L309.5,126.1L309.5,126.0L309.5,125.8L309.6,125.7L309.6,125.6L309.6,125.4L309.6,125.3L309.7,125.1L309.7,125.0L309.7,124.8L309.8,124.6L309.8,124.4L309.8,124.2L309.9,123.9L310.0,123.7L310.0,123.4L310.1,123.1L310.1,122.8L310.2,122.5L310.3,122.2L310.4,121.9L310.5,121.5L310.6,121.1L310.8,120.7L310.9,120.3L311.0,119.8L311.2,119.4L311.4,118.9L311.5,118.4L311.7,117.8L312.0,117.3L312.2,116.7L312.5,116.1L312.7,115.5L313.0,114.8L313.3,114.1L313.7,113.4L314.0,112.7L314.4,111.9L314.8,111.2L315.3,110.4L315.8,109.5L316.3,108.7L316.8,107.8L317.4,106.9L318.0,105.9L318.6,105.0L319.3,104.0L320.1,103.0L320.8,101.9L321.6,100.9L322.5,99.8L323.4,98.7L324.4,97.6L325.4,96.4L326.4,95.2L327.5,94.1L328.7,92.8L329.9,91.6L331.2,90.4L332.5,89.1L333.9,87.9L335.4,86.6L336.9,85.3L338.4,84.0L340.1,82.6L341.8,81.3L343.5,80.0L345.4,78.6L347.2,77.3L349.2,75.9L351.2,74.6L353.3,73.2L355.4,71.9L357.6,70.6L359.9,69.2L362.2,67.9L364.6,66.5L367.0,65.2L369.5,63.9L372.0,62.6L374.6,61.3L377.3,60.0L380.0,58.7L382.7,57.5L385.5,56.2L388.4,55.0L391.3,53.8L394.2,52.6L397.1,51.5L400.1,50.3L403.1,49.2L406.1,48.1L409.2,47.0L412.3,46.0L415.4,44.9L418.5,43.9L421.6,42.9L424.7,42.0L427.8,41.0L430.9,40.1L434.0,39.2L437.1,38.4L440.2,37.6L443.3,36.8L446.4,36.0L449.4,35.2L452.4,34.5L455.4,33.8L458.3,33.1L461.2,32.5L464.1,31.8L467.0,31.2L469.8,30.7L472.5,30.1L475.2,29.6L477.9,29.1L480.5,28.6L483.0,28.1L485.5,27.7L487.9,27.3L490.3,26.9L492.6,26.5L494.9,26.1L497.1,25.8L499.2,25.5L501.3,25.1L503.3,24.9L505.3,24.6L507.1,24.3L509.0,24.1L510.7,23.8L512.4,23.6L514.1,23.4L515.6,23.2L517.1,23.0L518.6,22.9L520.0,22.7L521.3,22.6L522.6,22.4L523.8,22.3L525.0,22.2L526.1,22.1L527.1,22.0L528.1,21.9L529.1,21.8L530.0,21.7L530.9,21.6L531.7,21.5L532.4,21.5L533.2,21.4L533.9,21.3L534.5,21.3L535.1,21.2L535.7,21.2L536.2,21.2L536.7,21.1L537.2,21.1L537.7,21.0L538.1,21.0L538.5,21.0L538.8,21.0L539.2,20.9L539.5,20.9L539.8,20.9L540.0,20.9L540.3,20.9L540.5,20.9L540.8,20.8L541.0,20.8L541.1,20.8L541.3,20.8L541.5,20.8L541.6,20.8L541.7,20.8L541.9,20.8L542.0,20.8L542.1,20.8L542.2,20.8L542.3,20.8L542.4,20.8L542.5,20.8L542.5,20.7L542.6,20.7L542.7,20.7L542.8,20.7L542.9,20.7L543.0,20.7L543.1,20.7" fill="none" stroke="#8c564b" stroke-width="1.3" stroke-dasharray="1.1 0.8" stroke-opacity="0.55" stroke-linecap="butt" stroke-linejoin="round"/>
<path d="M309.4,127.3L309.4,127.2L309.4,127.1L309.4,127.0L309.4,126.9L309.4,126.8L309.4,126.7L309.4,126.6L309.5,126.5L309.5,126.4L309.5,126.3L309.5,126.2L309.5,126.1L309.5,125.9L309.5,125.8L309.6,125.7L309.6,125.6L309.6,125.4L309.6,125.3L309.7,125.1L309.7,125.0L309.7,124.8L309.8,124.6L309.8,124.4L309.8,124.2L309.9,123.9L310.0,123.7L310.0,123.4L310.1,123.2L310.1,122.9L310.2,122.6L310.3,122.2L310.4,121.9L310.5,121.5L310.6,121.2L310.8,120.8L310.9,120.3L311.0,119.9L311.2,119.5L311.4,119.0L311.5,118.5L311.7,118.0L312.0,117.4L312.2,116.8L312.5,116.2L312.7,115.6L313.0,115.0L313.3,114.3L313.7,113.6L314.0,112.9L314.4,112.2L314.8,111.4L315.3,110.6L315.8,109.8L316.3,109.0L316.8,108.1L317.4,107.2L318.0,106.3L318.6,105.4L319.3,104.4L320.1,103.4L320.8,102.4L321.6,101.3L322.5,100.3L323.4,99.2L324.4,98.1L325.4,97.0L326.4,95.8L327.5,94.6L328.7,93.5L329.9,92.3L331.2,91.0L332.5,89.8L333.9,88.6L335.4,87.3L336.9,86.0L338.4,84.7L340.1,83.4L341.8,82.1L343.5,80.8L345.4,79.5L347.2,78.1L349.2,76.8L351.2,75.5L353.3,74.1L355.4,72.8L357.6,71.5L359.9,70.1L362.2,68.8L364.6,67.5L367.0,66.2L369.5,64.9L372.0,63.6L374.6,62.3L377.3,61.0L380.0,59.7L382.7,58.5L385.5,57.2L388.4,56.0L391.3,54.8L394.2,53.6L397.1,52.4L400.1,51.3L403.1,50.2L406.1,49.1L409.2,48.0L412.3,46.9L415.4,45.9L418.5,44.8L421.6,43.8L424.7,42.9L427.8,41.9L430.9,41.0L434.0,40.1L437.1,39.2L440.2,38.4L443.3,37.6L446.4,36.8L449.4,36.0L452.4,35.3L455.4,34.5L458.3,33.8L461.2,33.2L464.1,32.5L467.0,31.9L469.8,31.3L472.5,30.7L475.2,30.2L477.9,29.7L480.5,29.2L483.0,28.7L485.5,28.2L487.9,27.8L490.3,27.3L492.6,26.9L494.9,26.6L497.1,26.2L499.2,25.9L501.3,25.5L503.3,25.2L505.3,24.9L507.1,24.7L509.0,24.4L510.7,24.1L512.4,23.9L514.1,23.7L515.6,23.5L517.1,23.3L518.6,23.1L520.0,22.9L521.3,22.8L522.6,22.6L523.8,22.5L525.0,22.3L526.1,22.2L527.1,22.1L528.1,22.0L529.1,21.9L530.0,21.8L530.9,21.7L531.7,21.6L532.4,21.6L533.2,21.5L533.9,21.4L534.5,21.4L535.1,21.3L535.7,21.3L536.2,21.2L536.7,21.2L537.2,21.1L537.7,21.1L538.1,21.1L538.5,21.0L538.8,21.0L539.2,21.0L539.5,21.0L539.8,20.9L540.0,20.9L540.3,20.9L540.5,20.9L540.8,20.9L541.0,20.9L541.1,20.8L541.3,20.8L541.5,20.8L541.6,20.8L541.7,20.8L541.9,20.8L542.0,20.8L542.1,20.8L542.2,20.8L542.3,20.8L542.4,20.8L542.5,20.8L542.6,20.8L542.7,20.7L542.8,20.7L542.9,20.7L543.0,20.7L543.1,20.7" fill="none" stroke="#7f7f7f" stroke-width="1.3" stroke-dasharray="1.1 0.8" stroke-opacity="0.55" stroke-linecap="butt" stroke-linejoin="round"/>
<path d="M309.4,127.3L309.4,127.2L309.4,127.1L309.4,127.0L309.4,126.9L309.4,126.8L309.4,126.7L309.4,126.6L309.5,126.5L309.5,126.4L309.5,126.3L309.5,126.2L309.5,126.1L309.5,126.0L309.5,125.9L309.5,125.8L309.6,125.7L309.6,125.6L309.6,125.4L309.6,125.3L309.7,125.1L309.7,125.0L309.7,124.8L309.8,124.6L309.8,124.4L309.8,124.2L309.9,123.9L310.0,123.7L310.0,123.4L310.1,123.2L310.1,122.9L310.2,122.6L310.3,122.3L310.4,121.9L310.5,121.6L310.6,121.2L310.8,120.8L310.9,120.4L311.0,120.0L311.2,119.5L311.4,119.1L311.5,118.6L311.7,118.1L312.0,117.5L312.2,117.0L312.5,116.4L312.7,115.8L313.0,115.2L313.3,114.5L313.7,113.8L314.0,113.1L314.4,112.4L314.8,111.7L315.3,110.9L315.8,110.1L316.3,109.3L316.8,108.4L317.4,107.5L318.0,106.6L318.6,105.7L319.3,104.8L320.1,103.8L320.8,102.8L321.6,101.8L322.5,100.8L323.4,99.7L324.4,98.6L325.4,97.5L326.4,96.4L327.5,95.2L328.7,94.1L329.9,92.9L331.2,91.7L332.5,90.5L333.9,89.2L335.4,88.0L336.9,86.8L338.4,85.5L340.1,84.2L341.8,82.9L343.5,81.6L345.4,80.3L347.2,79.0L349.2,77.7L351.2,76.4L353.3,75.0L355.4,73.7L357.6,72.4L359.9,71.1L362.2,69.8L364.6,68.4L367.0,67.1L369.5,65.8L372.0,64.5L374.6,63.3L377.3,62.0L380.0,60.7L382.7,59.5L385.5,58.2L388.4,57.0L391.3,55.8L394.2,54.6L397.1,53.4L400.1,52.3L403.1,51.1L406.1,50.0L409.2,48.9L412.3,47.9L415.4,46.8L418.5,45.8L421.6,44.8L424.7,43.8L427.8,42.8L430.9,41.9L434.0,41.0L437.1,40.1L440.2,39.2L443.3,38.4L446.4,37.6L449.4,36.8L452.4,36.0L455.4,35.3L458.3,34.6L461.2,33.9L464.1,33.2L467.0,32.6L469.8,32.0L472.5,31.4L475.2,30.8L477.9,30.3L480.5,29.7L483.0,29.2L485.5,28.8L487.9,28.3L490.3,27.9L492.6,27.4L494.9,27.0L497.1,26.7L499.2,26.3L501.3,25.9L503.3,25.6L505.3,25.3L507.1,25.0L509.0,24.7L510.7,24.5L512.4,24.2L514.1,24.0L515.6,23.8L517.1,23.6L518.6,23.4L520.0,23.2L521.3,23.0L522.6,22.8L523.8,22.7L525.0,22.5L526.1,22.4L527.1,22.3L528.1,22.2L529.1,22.0L530.0,21.9L530.9,21.8L531.7,21.8L532.4,21.7L533.2,21.6L533.9,21.5L534.5,21.5L535.1,21.4L535.7,21.3L536.2,21.3L536.7,21.2L537.2,21.2L537.7,21.2L538.1,21.1L538.5,21.1L538.8,21.1L539.2,21.0L539.5,21.0L539.8,21.0L540.0,20.9L540.3,20.9L540.5,20.9L540.8,20.9L541.0,20.9L541.1,20.9L541.3,20.8L541.5,20.8L541.6,20.8L541.7,20.8L541.9,20.8L542.0,20.8L542.1,20.8L542.2,20.8L542.3,20.8L542.4,20.8L542.5,20.8L542.6,20.8L542.7,20.8L542.7,20.7L542.8,20.7L542.9,20.7L543.0,20.7L543.1,20.7" fill="none" stroke="#bcbd22" stroke-width="1.3" stroke-dasharray="1.1 0.8" stroke-opacity="0.55" stroke-linecap="butt" stroke-linejoin="round"/>
<path d="M309.4,127.3L309.4,127.2L309.4,127.1L309.4,127.0L309.4,126.9L309.5,126.9L309.5,126.8L309.5,126.7L309.5,126.6L309.5,126.5L309.6,126.4L309.6,126.3L309.6,126.2L309.6,126.1L309.7,126.0L309.7,125.9L309.7,125.8L309.8,125.7L309.8,125.5L309.8,125.4L309.9,125.2L310.0,125.0L310.0,124.9L310.1,124.7L310.1,124.5L310.2,124.2L310.3,124.0L310.4,123.7L310.5,123.5L310.6,123.2L310.8,122.9L310.9,122.6L311.0,122.2L311.2,121.9L311.4,121.5L311.5,121.1L311.7,120.7L312.0,120.3L312.2,119.8L312.5,119.3L312.7,118.8L313.0,118.3L313.3,117.7L313.7,117.1L314.0,116.5L314.4,115.9L314.8,115.2L315.3,114.6L315.8,113.9L316.3,113.1L316.8,112.4L317.4,111.6L318.0,110.7L318.6,109.9L319.3,109.0L320.1,108.1L320.8,107.2L321.6,106.2L322.5,105.2L323.4,104.2L324.4,103.2L325.4,102.1L326.4,101.0L327.5,99.9L328.7,98.8L329.9,97.6L331.2,96.4L332.5,95.2L333.9,94.0L335.4,92.8L336.9,91.5L338.4,90.2L340.1,88.9L341.8,87.6L343.5,86.3L345.4,84.9L347.2,83.6L349.2,82.2L351.2,80.8L353.3,79.5L355.4,78.1L357.6,76.7L359.9,75.3L362.2,73.9L364.6,72.5L367.0,71.1L369.5,69.7L372.0,68.3L374.6,67.0L377.3,65.6L380.0,64.2L382.7,62.9L385.5,61.5L388.4,60.2L391.3,58.9L394.2,57.6L397.1,56.3L400.1,55.1L403.1,53.8L406.1,52.6L409.2,51.4L412.3,50.2L415.4,49.1L418.5,47.9L421.6,46.8L424.7,45.7L427.8,44.7L430.9,43.6L434.0,42.6L437.1,41.7L440.2,40.7L443.3,39.8L446.4,38.9L449.4,38.0L452.4,37.2L455.4,36.3L458.3,35.6L461.2,34.8L464.1,34.1L467.0,33.4L469.8,32.7L472.5,32.0L475.2,31.4L477.9,30.8L480.5,30.2L483.0,29.7L485.5,29.1L487.9,28.6L490.3,28.2L492.6,27.7L494.9,27.3L497.1,26.9L499.2,26.5L501.3,26.1L503.3,25.7L505.3,25.4L507.1,25.1L509.0,24.8L510.7,24.5L512.4,24.2L514.1,24.0L515.6,23.8L517.1,23.5L518.6,23.3L520.0,23.1L521.3,23.0L522.6,22.8L523.8,22.6L525.0,22.5L526.1,22.3L527.1,22.2L528.1,22.1L529.1,22.0L530.0,21.9L530.9,21.8L531.7,21.7L532.4,21.6L533.2,21.5L533.9,21.5L534.5,21.4L535.1,21.3L535.7,21.3L536.2,21.2L536.7,21.2L537.2,21.1L537.7,21.1L538.1,21.1L538.5,21.0L538.8,21.0L539.2,21.0L539.5,21.0L539.8,20.9L540.0,20.9L540.3,20.9L540.5,20.9L540.8,20.9L541.0,20.9L541.1,20.8L541.3,20.8L541.5,20.8L541.6,20.8L541.7,20.8L541.9,20.8L542.0,20.8L542.1,20.8L542.2,20.8L542.3,20.8L542.4,20.8L542.5,20.8L542.6,20.7L542.7,20.7L542.8,20.7L542.9,20.7L543.0,20.7L543.1,20.7" fill="none" stroke="#17becf" stroke-width="1.3" stroke-dasharray="1.1 0.8" stroke-opacity="0.55" stroke-linecap="butt" stroke-linejoin="round"/>
<path d="M309.4,127.3L309.4,127.2L309.4,127.1L309.4,127.0L309.4,126.9L309.4,126.8L309.4,126.7L309.4,126.6L309.5,126.6L309.5,126.5L309.5,126.4L309.5,126.3L309.5,126.2L309.5,126.1L309.5,126.0L309.5,125.9L309.6,125.7L309.6,125.6L309.6,125.5L309.6,125.3L309.7,125.2L309.7,125.0L309.7,124.9L309.8,124.7L309.8,124.5L309.8,124.3L309.9,124.1L310.0,123.8L310.0,123.6L310.1,123.3L310.1,123.0L310.2,122.7L310.3,122.4L310.4,122.1L310.5,121.8L310.6,121.4L310.8,121.1L310.9,120.7L311.0,120.3L311.2,119.8L311.4,119.4L311.5,118.9L311.7,118.4L312.0,117.9L312.2,117.4L312.5,116.8L312.7,116.2L313.0,115.6L313.3,115.0L313.7,114.3L314.0,113.7L314.4,113.0L314.8,112.2L315.3,111.5L315.8,110.7L316.3,109.9L316.8,109.1L317.4,108.3L318.0,107.4L318.6,106.5L319.3,105.6L320.1,104.7L320.8,103.7L321.6,102.7L322.5,101.7L323.4,100.7L324.4,99.6L325.4,98.6L326.4,97.5L327.5,96.4L328.7,95.2L329.9,94.1L331.2,92.9L332.5,91.7L333.9,90.5L335.4,89.3L336.9,88.1L338.4,86.8L340.1,85.6L341.8,84.3L343.5,83.1L345.4,81.8L347.2,80.5L349.2,79.2L351.2,77.9L353.3,76.6L355.4,75.3L357.6,74.0L359.9,72.7L362.2,71.4L364.6,70.1L367.0,68.8L369.5,67.5L372.0,66.2L374.6,64.9L377.3,63.6L380.0,62.4L382.7,61.1L385.5,59.9L388.4,58.6L391.3,57.4L394.2,56.2L397.1,55.0L400.1,53.9L403.1,52.7L406.1,51.6L409.2,50.5L412.3,49.4L415.4,48.3L418.5,47.3L421.6,46.3L424.7,45.2L427.8,44.3L430.9,43.3L434.0,42.4L437.1,41.5L440.2,40.6L443.3,39.7L446.4,38.9L449.4,38.0L452.4,37.2L455.4,36.5L458.3,35.7L461.2,35.0L464.1,34.3L467.0,33.6L469.8,33.0L472.5,32.4L475.2,31.8L477.9,31.2L480.5,30.6L483.0,30.1L485.5,29.6L487.9,29.1L490.3,28.6L492.6,28.2L494.9,27.8L497.1,27.3L499.2,27.0L501.3,26.6L503.3,26.2L505.3,25.9L507.1,25.6L509.0,25.3L510.7,25.0L512.4,24.7L514.1,24.4L515.6,24.2L517.1,24.0L518.6,23.7L520.0,23.5L521.3,23.3L522.6,23.2L523.8,23.0L525.0,22.8L526.1,22.7L527.1,22.5L528.1,22.4L529.1,22.3L530.0,22.2L530.9,22.0L531.7,21.9L532.4,21.9L533.2,21.8L533.9,21.7L534.5,21.6L535.1,21.5L535.7,21.5L536.2,21.4L536.7,21.4L537.2,21.3L537.7,21.3L538.1,21.2L538.5,21.2L538.8,21.1L539.2,21.1L539.5,21.1L539.8,21.0L540.0,21.0L540.3,21.0L540.5,21.0L540.8,20.9L541.0,20.9L541.1,20.9L541.3,20.9L541.5,20.9L541.6,20.9L541.7,20.8L541.9,20.8L542.0,20.8L542.1,20.8L542.2,20.8L542.3,20.8L542.4,20.8L542.5,20.8L542.6,20.8L542.7,20.8L542.8,20.8L542.8,20.7L542.9,20.7L543.0,20.7L543.1,20.7" fill="none" stroke="#ff7f0e" stroke-width="1.17" stroke-linecap="square" stroke-linejoin="round"/>
<rect x="309.4" y="15.4" width="233.7" height="111.9" fill="none" stroke="#000" stroke-width="0.75"/>
<line x1="306.67" y1="127.3" x2="309.4" y2="127.3" stroke="#000" stroke-width="0.75"/>
<text x="295.58" y="129.45" font-size="6.3" textLength="8.48" lengthAdjust="spacingAndGlyphs">0.0</text>
<line x1="306.67" y1="105.99" x2="309.4" y2="105.99" stroke="#000" stroke-width="0.75"/>
<text x="295.68" y="108.14" font-size="6.3" textLength="8.48" lengthAdjust="spacingAndGlyphs">0.2</text>
<line x1="306.67" y1="84.67" x2="309.4" y2="84.67" stroke="#000" stroke-width="0.75"/>
<text x="295.55" y="86.82" font-size="6.3" textLength="8.48" lengthAdjust="spacingAndGlyphs">0.4</text>
<line x1="306.67" y1="63.36" x2="309.4" y2="63.36" stroke="#000" stroke-width="0.75"/>
<text x="295.61" y="65.51" font-size="6.3" textLength="8.48" lengthAdjust="spacingAndGlyphs">0.6</text>
<line x1="306.67" y1="42.04" x2="309.4" y2="42.04" stroke="#000" stroke-width="0.75"/>
<text x="295.61" y="44.19" font-size="6.3" textLength="8.48" lengthAdjust="spacingAndGlyphs">0.8</text>
<line x1="306.67" y1="20.73" x2="309.4" y2="20.73" stroke="#000" stroke-width="0.75"/>
<text x="295.58" y="22.88" font-size="6.3" textLength="8.48" lengthAdjust="spacingAndGlyphs">1.0</text>
<line x1="309.4" y1="127.3" x2="309.4" y2="130.03" stroke="#000" stroke-width="0.75"/>
<text x="305.15" y="136.7" font-size="6.3" textLength="8.48" lengthAdjust="spacingAndGlyphs">0.0</text>
<line x1="356.14" y1="127.3" x2="356.14" y2="130.03" stroke="#000" stroke-width="0.75"/>
<text x="351.93" y="136.7" font-size="6.3" textLength="8.48" lengthAdjust="spacingAndGlyphs">0.2</text>
<line x1="402.88" y1="127.3" x2="402.88" y2="130.03" stroke="#000" stroke-width="0.75"/>
<text x="398.61" y="136.7" font-size="6.3" textLength="8.48" lengthAdjust="spacingAndGlyphs">0.4</text>
<line x1="449.62" y1="127.3" x2="449.62" y2="130.03" stroke="#000" stroke-width="0.75"/>
<text x="445.38" y="136.7" font-size="6.3" textLength="8.48" lengthAdjust="spacingAndGlyphs">0.6</text>
<line x1="496.36" y1="127.3" x2="496.36" y2="130.03" stroke="#000" stroke-width="0.75"/>
<text x="492.12" y="136.7" font-size="6.3" textLength="8.48" lengthAdjust="spacingAndGlyphs">0.8</text>
<line x1="543.1" y1="127.3" x2="543.1" y2="130.03" stroke="#000" stroke-width="0.75"/>
<text x="538.74" y="136.7" font-size="6.3" textLength="8.48" lengthAdjust="spacingAndGlyphs">1.0</text>
<text x="419.14" y="147.2" font-size="8.2" textLength="14.52" lengthAdjust="spacingAndGlyphs">FPR</text>
<text transform="translate(290.75,72.25) rotate(-90)" x="-11.52" y="0" font-size="8.2" textLength="22.99" lengthAdjust="spacingAndGlyphs">Recall</text>
<text x="355.19" y="10.5" font-size="8.0" textLength="6.32" lengthAdjust="spacingAndGlyphs" font-weight="bold">D</text>
<text x="364.1" y="10.5" font-size="8.0" textLength="133.24" lengthAdjust="spacingAndGlyphs">Held Out Data (50% Positive) ROC</text>
<rect x="452.3" y="52.14" width="87.8" height="72.16" rx="1.2" fill="#fff" fill-opacity="0.8" stroke="#ccc" stroke-width="0.78"/>
<line x1="454.6" y1="56.94" x2="466" y2="56.94" stroke="#1f77b4" stroke-width="1.3" stroke-dasharray="1.1 0.8" stroke-opacity="0.55"/>
<text x="471.4" y="59.34" font-size="6.5" textLength="66.18" lengthAdjust="spacingAndGlyphs">Li 2020 Deep Ensemble</text>
<line x1="454.6" y1="65.72" x2="466" y2="65.72" stroke="#ff7f0e" stroke-width="1.3" stroke-dasharray="1.1 0.8" stroke-opacity="0.55"/>
<text x="471.4" y="68.12" font-size="6.5" textLength="36.2" lengthAdjust="spacingAndGlyphs">Du 2017 Sep</text>
<line x1="454.6" y1="74.5" x2="466" y2="74.5" stroke="#e377c2" stroke-width="1.3" stroke-dasharray="1.1 0.8" stroke-opacity="0.55"/>
<text x="471.4" y="76.9" font-size="6.5" textLength="65.83" lengthAdjust="spacingAndGlyphs">Pan 2010 PSAAC Rand</text>
<line x1="454.6" y1="83.28" x2="466" y2="83.28" stroke="#8c564b" stroke-width="1.3" stroke-dasharray="1.1 0.8" stroke-opacity="0.55"/>
<text x="471.81" y="85.68" font-size="6.5" textLength="33.43" lengthAdjust="spacingAndGlyphs">Jia 2019 RF</text>
<line x1="454.6" y1="92.06" x2="466" y2="92.06" stroke="#7f7f7f" stroke-width="1.3" stroke-dasharray="1.1 0.8" stroke-opacity="0.55"/>
<text x="471.59" y="94.46" font-size="6.5" textLength="54.11" lengthAdjust="spacingAndGlyphs">Goktepe 2018 SVM</text>
<line x1="454.6" y1="100.84" x2="466" y2="100.84" stroke="#bcbd22" stroke-width="1.3" stroke-dasharray="1.1 0.8" stroke-opacity="0.55"/>
<text x="471.4" y="103.24" font-size="6.5" textLength="41.7" lengthAdjust="spacingAndGlyphs">Du 2017 Comb</text>
<line x1="454.6" y1="109.62" x2="466" y2="109.62" stroke="#17becf" stroke-width="1.3" stroke-dasharray="1.1 0.8" stroke-opacity="0.55"/>
<text x="471.4" y="112.02" font-size="6.5" textLength="60.66" lengthAdjust="spacingAndGlyphs">Pan 2010 PSAAC Rot</text>
<line x1="455.18" y1="118.4" x2="465.41" y2="118.4" stroke="#ff7f0e" stroke-width="1.17" stroke-linecap="square"/>
<text x="471.4" y="120.8" font-size="6.5" textLength="37.22" lengthAdjust="spacingAndGlyphs">Bias Seq Sim</text>
<path d="M309.4,177.5L309.4,177.9L309.4,178.3L309.4,178.7L309.4,179.2L309.4,179.6L309.4,180.1L309.5,180.6L309.5,181.1L309.5,181.6L309.5,182.2L309.6,182.8L309.6,183.3L309.7,183.9L309.7,184.5L309.8,185.2L309.8,185.8L309.9,186.5L310.0,187.1L310.1,187.8L310.1,188.5L310.2,189.2L310.3,189.9L310.5,190.6L310.6,191.4L310.7,192.1L310.8,192.8L311.0,193.6L311.1,194.4L311.3,195.1L311.5,195.9L311.6,196.8L311.8,197.7L312.0,198.6L312.2,199.6L312.4,200.6L312.7,201.7L312.9,202.7L313.1,203.8L313.4,204.9L313.6,205.9L313.9,207.0L314.2,208.1L314.5,209.1L314.8,210.1L315.1,211.1L315.4,212.1L315.7,213.0L316.1,213.9L316.4,214.9L316.8,215.8L317.2,216.7L317.6,217.7L318.0,218.6L318.4,219.5L318.8,220.4L319.2,221.2L319.7,222.1L320.1,222.9L320.6,223.6L321.1,224.4L321.6,225.1L322.1,225.7L322.6,226.4L323.1,227.0L323.6,227.6L324.2,228.2L324.8,228.7L325.4,229.3L325.9,229.8L326.6,230.4L327.2,230.9L327.8,231.4L328.4,231.9L329.1,232.4L329.8,232.9L330.5,233.4L331.2,233.9L331.9,234.4L332.6,235.0L333.3,235.5L334.1,236.0L334.9,236.6L335.7,237.1L336.5,237.6L337.3,238.1L338.1,238.6L338.9,239.1L339.8,239.5L340.7,240.0L341.5,240.4L342.4,240.8L343.4,241.2L344.3,241.5L345.2,241.9L346.2,242.3L347.2,242.6L348.2,243.0L349.2,243.3L350.2,243.6L351.2,244.0L352.3,244.3L353.4,244.7L354.4,245.0L355.5,245.4L356.7,245.7L357.8,246.1L358.9,246.5L360.1,246.9L361.3,247.2L362.5,247.6L363.7,248.0L364.9,248.4L366.2,248.8L367.4,249.1L368.7,249.5L370.0,249.9L371.3,250.3L372.7,250.7L374.0,251.1L375.4,251.5L376.8,251.8L378.2,252.2L379.6,252.6L381.0,253.0L382.5,253.3L384.0,253.7L385.4,254.1L386.9,254.4L388.5,254.8L390.0,255.1L391.6,255.4L393.1,255.8L394.7,256.1L396.4,256.4L398.0,256.7L399.6,257.0L401.3,257.3L403.0,257.6L404.7,257.9L406.4,258.1L408.2,258.4L409.9,258.6L411.7,258.9L413.5,259.1L415.3,259.3L417.1,259.6L419.0,259.8L420.9,260.0L422.8,260.2L424.7,260.5L426.6,260.7L428.6,260.9L430.5,261.1L432.5,261.4L434.5,261.6L436.6,261.8L438.6,262.1L440.7,262.3L442.8,262.6L444.9,262.8L447.0,263.1L449.1,263.4L451.3,263.6L453.5,263.9L455.7,264.1L457.9,264.4L460.2,264.7L462.4,264.9L464.7,265.2L467.0,265.5L469.4,265.7L471.7,266.0L474.1,266.3L476.5,266.6L478.9,266.8L481.3,267.1L483.8,267.4L486.2,267.7L488.7,267.9L491.2,268.2L493.8,268.5L496.3,268.7L498.9,269.0L501.5,269.3L504.1,269.6L506.8,269.8L509.4,270.1L512.1,270.4L514.8,270.7L517.6,270.9L520.3,271.2L523.1,271.5L525.9,271.8L528.7,272.0L531.5,272.3L534.4,272.6L537.3,272.9L540.2,273.2L543.1,273.4" fill="none" stroke="#1f77b4" stroke-width="1.3" stroke-dasharray="2 0.5" stroke-opacity="0.85" stroke-linecap="butt" stroke-linejoin="round"/>
<path d="M309.4,223.4L309.5,223.4L309.6,223.4L309.7,223.4L309.8,223.4L309.9,223.4L310.0,223.4L310.1,223.4L310.2,223.4L310.3,223.4L310.5,223.4L310.6,223.4L310.7,223.4L310.8,223.4L311.0,223.4L311.1,223.4L311.3,223.4L311.5,223.4L311.6,223.4L311.8,223.4L312.0,223.4L312.2,223.4L312.4,223.4L312.7,223.6L312.9,223.9L313.1,224.2L313.4,224.6L313.6,225.1L313.9,225.5L314.2,226.0L314.5,226.4L314.8,226.8L315.1,227.1L315.4,227.5L315.7,227.9L316.1,228.2L316.4,228.6L316.8,229.0L317.2,229.4L317.6,229.8L318.0,230.1L318.4,230.5L318.8,230.9L319.2,231.3L319.7,231.7L320.1,232.0L320.6,232.4L321.1,232.8L321.6,233.2L322.1,233.5L322.6,233.9L323.1,234.3L323.6,234.6L324.2,235.0L324.8,235.4L325.4,235.8L325.9,236.2L326.6,236.7L327.2,237.1L327.8,237.5L328.4,238.0L329.1,238.5L329.8,238.9L330.5,239.4L331.2,239.9L331.9,240.4L332.6,240.8L333.3,241.3L334.1,241.7L334.9,242.2L335.7,242.6L336.5,243.0L337.3,243.5L338.1,243.8L338.9,244.2L339.8,244.6L340.7,244.9L341.5,245.2L342.4,245.5L343.4,245.8L344.3,246.1L345.2,246.4L346.2,246.7L347.2,246.9L348.2,247.2L349.2,247.4L350.2,247.7L351.2,248.0L352.3,248.2L353.4,248.5L354.4,248.8L355.5,249.1L356.7,249.4L357.8,249.7L358.9,250.0L360.1,250.4L361.3,250.7L362.5,251.0L363.7,251.4L364.9,251.7L366.2,252.1L367.4,252.5L368.7,252.8L370.0,253.2L371.3,253.5L372.7,253.9L374.0,254.3L375.4,254.7L376.8,255.0L378.2,255.4L379.6,255.8L381.0,256.1L382.5,256.5L384.0,256.9L385.4,257.2L386.9,257.6L388.5,257.9L390.0,258.3L391.6,258.6L393.1,258.9L394.7,259.3L396.4,259.6L398.0,259.9L399.6,260.2L401.3,260.5L403.0,260.8L404.7,261.1L406.4,261.3L408.2,261.6L409.9,261.9L411.7,262.1L413.5,262.4L415.3,262.7L417.1,262.9L419.0,263.2L420.9,263.4L422.8,263.6L424.7,263.9L426.6,264.1L428.6,264.3L430.5,264.6L432.5,264.8L434.5,265.0L436.6,265.2L438.6,265.4L440.7,265.6L442.8,265.8L444.9,266.0L447.0,266.1L449.1,266.3L451.3,266.5L453.5,266.6L455.7,266.8L457.9,266.9L460.2,267.1L462.4,267.2L464.7,267.3L467.0,267.5L469.4,267.6L471.7,267.8L474.1,267.9L476.5,268.1L478.9,268.2L481.3,268.4L483.8,268.5L486.2,268.7L488.7,268.8L491.2,269.0L493.8,269.2L496.3,269.4L498.9,269.6L501.5,269.8L504.1,270.0L506.8,270.2L509.4,270.4L512.1,270.7L514.8,270.9L517.6,271.1L520.3,271.4L523.1,271.6L525.9,271.9L528.7,272.1L531.5,272.4L534.4,272.6L537.3,272.9L540.2,273.2L543.1,273.4" fill="none" stroke="#ff7f0e" stroke-width="1.5" stroke-dasharray="2 0.4" stroke-opacity="0.9" stroke-linecap="butt" stroke-linejoin="round"/>
<path d="M309.4,182.9L309.4,183.1L309.4,183.2L309.4,183.4L309.4,183.7L309.4,183.9L309.5,184.2L309.5,184.6L309.5,184.9L309.5,185.3L309.6,185.8L309.6,186.2L309.7,186.7L309.7,187.2L309.8,187.7L309.8,188.3L309.9,188.9L310.0,189.5L310.1,190.1L310.1,190.7L310.2,191.4L310.3,192.0L310.5,192.7L310.6,193.4L310.7,194.1L310.8,194.8L311.0,195.5L311.1,196.2L311.3,197.0L311.5,197.7L311.6,198.4L311.8,199.2L312.0,200.1L312.2,201.0L312.4,202.1L312.7,203.2L312.9,204.4L313.1,205.6L313.4,206.9L313.6,208.2L313.9,209.5L314.2,210.8L314.5,212.1L314.8,213.3L315.1,214.5L315.4,215.7L315.7,216.7L316.1,217.8L316.4,218.9L316.8,220.0L317.2,221.1L317.6,222.2L318.0,223.2L318.4,224.3L318.8,225.3L319.2,226.3L319.7,227.3L320.1,228.2L320.6,229.1L321.1,230.0L321.6,230.8L322.1,231.6L322.6,232.4L323.1,233.1L323.6,233.8L324.2,234.5L324.8,235.2L325.4,235.9L325.9,236.6L326.6,237.2L327.2,237.8L327.8,238.4L328.4,239.0L329.1,239.6L329.8,240.2L330.5,240.8L331.2,241.3L331.9,241.9L332.6,242.4L333.3,242.9L334.1,243.5L334.9,244.0L335.7,244.5L336.5,244.9L337.3,245.4L338.1,245.8L338.9,246.3L339.8,246.7L340.7,247.1L341.5,247.5L342.4,247.9L343.4,248.3L344.3,248.7L345.2,249.0L346.2,249.4L347.2,249.8L348.2,250.1L349.2,250.5L350.2,250.8L351.2,251.2L352.3,251.5L353.4,251.8L354.4,252.2L355.5,252.5L356.7,252.8L357.8,253.1L358.9,253.5L360.1,253.8L361.3,254.1L362.5,254.4L363.7,254.7L364.9,255.1L366.2,255.4L367.4,255.7L368.7,256.0L370.0,256.3L371.3,256.6L372.7,256.9L374.0,257.2L375.4,257.5L376.8,257.8L378.2,258.1L379.6,258.4L381.0,258.7L382.5,259.0L384.0,259.3L385.4,259.6L386.9,259.8L388.5,260.1L390.0,260.4L391.6,260.6L393.1,260.9L394.7,261.1L396.4,261.4L398.0,261.6L399.6,261.8L401.3,262.0L403.0,262.3L404.7,262.5L406.4,262.7L408.2,262.9L409.9,263.1L411.7,263.3L413.5,263.4L415.3,263.6L417.1,263.8L419.0,264.0L420.9,264.1L422.8,264.3L424.7,264.5L426.6,264.6L428.6,264.8L430.5,265.0L432.5,265.1L434.5,265.3L436.6,265.5L438.6,265.6L440.7,265.8L442.8,266.0L444.9,266.1L447.0,266.3L449.1,266.5L451.3,266.6L453.5,266.8L455.7,266.9L457.9,267.1L460.2,267.2L462.4,267.4L464.7,267.5L467.0,267.7L469.4,267.9L471.7,268.0L474.1,268.2L476.5,268.3L478.9,268.5L481.3,268.7L483.8,268.8L486.2,269.0L488.7,269.2L491.2,269.3L493.8,269.5L496.3,269.7L498.9,269.9L501.5,270.1L504.1,270.3L506.8,270.5L509.4,270.7L512.1,270.9L514.8,271.1L517.6,271.4L520.3,271.6L523.1,271.8L525.9,272.0L528.7,272.3L531.5,272.5L534.4,272.7L537.3,273.0L540.2,273.2L543.1,273.4" fill="none" stroke="#e377c2" stroke-width="1.3" stroke-dasharray="1.1 0.8" stroke-opacity="0.55" stroke-linecap="butt" stroke-linejoin="round"/>
<path d="M309.4,188.2L309.4,188.3L309.4,188.5L309.4,188.6L309.4,188.8L309.5,189.0L309.5,189.3L309.5,189.5L309.5,189.8L309.6,190.2L309.6,190.5L309.7,190.9L309.7,191.3L309.8,191.7L309.8,192.2L309.9,192.6L310.0,193.1L310.1,193.6L310.1,194.1L310.2,194.7L310.3,195.2L310.5,195.8L310.6,196.3L310.7,196.9L310.8,197.5L311.0,198.1L311.1,198.7L311.3,199.4L311.5,200.0L311.6,200.6L311.8,201.3L312.0,202.1L312.2,203.0L312.4,204.0L312.7,205.1L312.9,206.3L313.1,207.6L313.4,208.9L313.6,210.3L313.9,211.6L314.2,212.9L314.5,214.2L314.8,215.5L315.1,216.7L315.4,217.8L315.7,218.8L316.1,219.9L316.4,220.9L316.8,221.9L317.2,222.9L317.6,223.9L318.0,224.9L318.4,225.9L318.8,226.8L319.2,227.7L319.7,228.6L320.1,229.5L320.6,230.3L321.1,231.1L321.6,231.9L322.1,232.6L322.6,233.4L323.1,234.1L323.6,234.8L324.2,235.5L324.8,236.1L325.4,236.8L325.9,237.4L326.6,238.1L327.2,238.7L327.8,239.3L328.4,239.9L329.1,240.4L329.8,241.0L330.5,241.5L331.2,242.0L331.9,242.5L332.6,243.0L333.3,243.4L334.1,243.9L334.9,244.3L335.7,244.7L336.5,245.1L337.3,245.5L338.1,245.9L338.9,246.3L339.8,246.7L340.7,247.0L341.5,247.4L342.4,247.7L343.4,248.1L344.3,248.4L345.2,248.8L346.2,249.1L347.2,249.4L348.2,249.7L349.2,250.1L350.2,250.4L351.2,250.7L352.3,251.0L353.4,251.3L354.4,251.6L355.5,252.0L356.7,252.3L357.8,252.6L358.9,252.9L360.1,253.2L361.3,253.6L362.5,253.9L363.7,254.2L364.9,254.5L366.2,254.8L367.4,255.1L368.7,255.5L370.0,255.8L371.3,256.1L372.7,256.4L374.0,256.7L375.4,257.0L376.8,257.3L378.2,257.6L379.6,257.9L381.0,258.2L382.5,258.4L384.0,258.7L385.4,259.0L386.9,259.3L388.5,259.5L390.0,259.8L391.6,260.1L393.1,260.3L394.7,260.6L396.4,260.8L398.0,261.1L399.6,261.3L401.3,261.5L403.0,261.7L404.7,261.9L406.4,262.2L408.2,262.4L409.9,262.6L411.7,262.8L413.5,262.9L415.3,263.1L417.1,263.3L419.0,263.5L420.9,263.7L422.8,263.8L424.7,264.0L426.6,264.2L428.6,264.4L430.5,264.5L432.5,264.7L434.5,264.9L436.6,265.0L438.6,265.2L440.7,265.4L442.8,265.5L444.9,265.7L447.0,265.9L449.1,266.0L451.3,266.2L453.5,266.4L455.7,266.5L457.9,266.7L460.2,266.8L462.4,267.0L464.7,267.2L467.0,267.3L469.4,267.5L471.7,267.6L474.1,267.8L476.5,268.0L478.9,268.1L481.3,268.3L483.8,268.5L486.2,268.6L488.7,268.8L491.2,269.0L493.8,269.2L496.3,269.4L498.9,269.6L501.5,269.8L504.1,270.0L506.8,270.2L509.4,270.5L512.1,270.7L514.8,270.9L517.6,271.2L520.3,271.4L523.1,271.6L525.9,271.9L528.7,272.1L531.5,272.4L534.4,272.7L537.3,272.9L540.2,273.2L543.1,273.4" fill="none" stroke="#8c564b" stroke-width="1.3" stroke-dasharray="1.1 0.8" stroke-opacity="0.55" stroke-linecap="butt" stroke-linejoin="round"/>
<path d="M309.4,193.5L309.4,193.6L309.4,193.7L309.4,193.8L309.4,193.9L309.4,194.1L309.5,194.3L309.5,194.5L309.5,194.8L309.5,195.1L309.6,195.4L309.6,195.7L309.7,196.0L309.7,196.4L309.8,196.8L309.8,197.2L309.9,197.6L310.0,198.1L310.1,198.5L310.1,199.0L310.2,199.5L310.3,200.0L310.5,200.5L310.6,201.0L310.7,201.6L310.8,202.1L311.0,202.7L311.1,203.2L311.3,203.8L311.5,204.4L311.6,204.9L311.8,205.5L312.0,206.2L312.2,207.0L312.4,207.9L312.7,208.9L312.9,209.9L313.1,211.0L313.4,212.2L313.6,213.3L313.9,214.5L314.2,215.7L314.5,216.8L314.8,217.9L315.1,219.0L315.4,219.9L315.7,220.9L316.1,221.8L316.4,222.8L316.8,223.7L317.2,224.6L317.6,225.5L318.0,226.4L318.4,227.3L318.8,228.2L319.2,229.1L319.7,229.9L320.1,230.7L320.6,231.5L321.1,232.2L321.6,233.0L322.1,233.7L322.6,234.3L323.1,235.0L323.6,235.7L324.2,236.3L324.8,237.0L325.4,237.6L325.9,238.2L326.6,238.8L327.2,239.4L327.8,240.0L328.4,240.5L329.1,241.1L329.8,241.6L330.5,242.1L331.2,242.6L331.9,243.1L332.6,243.5L333.3,243.9L334.1,244.4L334.9,244.8L335.7,245.2L336.5,245.5L337.3,245.9L338.1,246.3L338.9,246.6L339.8,247.0L340.7,247.3L341.5,247.6L342.4,248.0L343.4,248.3L344.3,248.6L345.2,248.9L346.2,249.2L347.2,249.5L348.2,249.8L349.2,250.1L350.2,250.4L351.2,250.7L352.3,251.0L353.4,251.3L354.4,251.7L355.5,252.0L356.7,252.3L357.8,252.6L358.9,252.9L360.1,253.2L361.3,253.5L362.5,253.8L363.7,254.2L364.9,254.5L366.2,254.8L367.4,255.1L368.7,255.4L370.0,255.7L371.3,256.0L372.7,256.3L374.0,256.6L375.4,256.9L376.8,257.2L378.2,257.5L379.6,257.8L381.0,258.1L382.5,258.4L384.0,258.7L385.4,259.0L386.9,259.2L388.5,259.5L390.0,259.8L391.6,260.0L393.1,260.3L394.7,260.5L396.4,260.8L398.0,261.0L399.6,261.3L401.3,261.5L403.0,261.7L404.7,262.0L406.4,262.2L408.2,262.4L409.9,262.6L411.7,262.8L413.5,263.0L415.3,263.2L417.1,263.4L419.0,263.5L420.9,263.7L422.8,263.9L424.7,264.1L426.6,264.3L428.6,264.4L430.5,264.6L432.5,264.8L434.5,265.0L436.6,265.1L438.6,265.3L440.7,265.5L442.8,265.7L444.9,265.8L447.0,266.0L449.1,266.2L451.3,266.3L453.5,266.5L455.7,266.6L457.9,266.8L460.2,267.0L462.4,267.1L464.7,267.3L467.0,267.4L469.4,267.6L471.7,267.7L474.1,267.9L476.5,268.1L478.9,268.2L481.3,268.4L483.8,268.6L486.2,268.8L488.7,268.9L491.2,269.1L493.8,269.3L496.3,269.5L498.9,269.7L501.5,269.9L504.1,270.1L506.8,270.3L509.4,270.5L512.1,270.8L514.8,271.0L517.6,271.2L520.3,271.5L523.1,271.7L525.9,271.9L528.7,272.2L531.5,272.4L534.4,272.7L537.3,272.9L540.2,273.2L543.1,273.4" fill="none" stroke="#7f7f7f" stroke-width="1.3" stroke-dasharray="1.1 0.8" stroke-opacity="0.55" stroke-linecap="butt" stroke-linejoin="round"/>
<path d="M309.4,198.8L309.4,198.9L309.5,198.9L309.5,199.0L309.6,199.1L309.7,199.2L309.8,199.3L309.9,199.4L310.0,199.6L310.1,199.9L310.1,200.4L310.2,200.9L310.3,201.6L310.5,202.3L310.6,203.1L310.7,204.0L310.8,204.9L311.0,205.8L311.1,206.8L311.3,207.8L311.5,208.7L311.6,209.7L311.8,210.6L312.0,211.5L312.2,212.3L312.4,213.2L312.7,214.0L312.9,214.9L313.1,215.8L313.4,216.7L313.6,217.7L313.9,218.6L314.2,219.6L314.5,220.5L314.8,221.4L315.1,222.4L315.4,223.3L315.7,224.1L316.1,225.0L316.4,225.8L316.8,226.6L317.2,227.3L317.6,228.0L318.0,228.7L318.4,229.3L318.8,229.9L319.2,230.5L319.7,231.1L320.1,231.7L320.6,232.3L321.1,232.8L321.6,233.4L322.1,233.9L322.6,234.3L323.1,234.8L323.6,235.3L324.2,235.7L324.8,236.1L325.4,236.5L325.9,236.9L326.6,237.3L327.2,237.7L327.8,238.0L328.4,238.4L329.1,238.7L329.8,239.1L330.5,239.4L331.2,239.7L331.9,240.0L332.6,240.4L333.3,240.7L334.1,241.0L334.9,241.3L335.7,241.6L336.5,242.0L337.3,242.3L338.1,242.6L338.9,243.0L339.8,243.3L340.7,243.6L341.5,244.0L342.4,244.3L343.4,244.7L344.3,245.0L345.2,245.4L346.2,245.7L347.2,246.0L348.2,246.4L349.2,246.7L350.2,247.1L351.2,247.4L352.3,247.7L353.4,248.1L354.4,248.4L355.5,248.8L356.7,249.1L357.8,249.4L358.9,249.8L360.1,250.1L361.3,250.5L362.5,250.8L363.7,251.2L364.9,251.5L366.2,251.9L367.4,252.2L368.7,252.6L370.0,252.9L371.3,253.3L372.7,253.6L374.0,254.0L375.4,254.3L376.8,254.7L378.2,255.0L379.6,255.4L381.0,255.7L382.5,256.1L384.0,256.4L385.4,256.8L386.9,257.1L388.5,257.4L390.0,257.7L391.6,258.1L393.1,258.4L394.7,258.7L396.4,259.0L398.0,259.3L399.6,259.6L401.3,259.9L403.0,260.1L404.7,260.4L406.4,260.7L408.2,261.0L409.9,261.2L411.7,261.5L413.5,261.7L415.3,262.0L417.1,262.2L419.0,262.5L420.9,262.7L422.8,263.0L424.7,263.2L426.6,263.4L428.6,263.7L430.5,263.9L432.5,264.1L434.5,264.3L436.6,264.5L438.6,264.8L440.7,265.0L442.8,265.2L444.9,265.3L447.0,265.5L449.1,265.7L451.3,265.9L453.5,266.1L455.7,266.2L457.9,266.4L460.2,266.6L462.4,266.7L464.7,266.9L467.0,267.1L469.4,267.2L471.7,267.4L474.1,267.5L476.5,267.7L478.9,267.9L481.3,268.0L483.8,268.2L486.2,268.4L488.7,268.6L491.2,268.8L493.8,269.0L496.3,269.2L498.9,269.4L501.5,269.6L504.1,269.8L506.8,270.1L509.4,270.3L512.1,270.5L514.8,270.8L517.6,271.0L520.3,271.3L523.1,271.5L525.9,271.8L528.7,272.1L531.5,272.3L534.4,272.6L537.3,272.9L540.2,273.2L543.1,273.4" fill="none" stroke="#bcbd22" stroke-width="1.5" stroke-dasharray="2 0.4" stroke-opacity="0.85" stroke-linecap="butt" stroke-linejoin="round"/>
<path d="M309.4,177.5L309.4,178.0L309.4,178.4L309.4,178.9L309.4,179.4L309.4,179.9L309.4,180.5L309.5,181.0L309.5,181.6L309.5,182.2L309.5,182.8L309.6,183.4L309.6,184.1L309.7,184.7L309.7,185.4L309.8,186.1L309.8,186.8L309.9,187.5L310.0,188.2L310.1,188.9L310.1,189.7L310.2,190.5L310.3,191.2L310.5,192.0L310.6,192.8L310.7,193.6L310.8,194.4L311.0,195.2L311.1,196.0L311.3,196.8L311.5,197.7L311.6,198.6L311.8,199.5L312.0,200.5L312.2,201.5L312.4,202.5L312.7,203.5L312.9,204.6L313.1,205.7L313.4,206.8L313.6,207.9L313.9,209.0L314.2,210.1L314.5,211.2L314.8,212.4L315.1,213.5L315.4,214.6L315.7,215.7L316.1,216.9L316.4,218.0L316.8,219.2L317.2,220.5L317.6,221.7L318.0,222.9L318.4,224.2L318.8,225.4L319.2,226.5L319.7,227.7L320.1,228.8L320.6,229.8L321.1,230.8L321.6,231.7L322.1,232.6L322.6,233.5L323.1,234.3L323.6,235.2L324.2,236.0L324.8,236.8L325.4,237.5L325.9,238.3L326.6,239.0L327.2,239.8L327.8,240.5L328.4,241.2L329.1,242.0L329.8,242.7L330.5,243.4L331.2,244.1L331.9,244.8L332.6,245.6L333.3,246.3L334.1,247.1L334.9,247.9L335.7,248.7L336.5,249.5L337.3,250.3L338.1,250.9L338.9,251.5L339.8,252.0L340.7,252.4L341.5,252.8L342.4,253.1L343.4,253.4L344.3,253.7L345.2,254.0L346.2,254.2L347.2,254.5L348.2,254.7L349.2,254.9L350.2,255.2L351.2,255.4L352.3,255.6L353.4,255.8L354.4,256.0L355.5,256.3L356.7,256.5L357.8,256.7L358.9,257.0L360.1,257.2L361.3,257.5L362.5,257.7L363.7,258.0L364.9,258.2L366.2,258.4L367.4,258.7L368.7,258.9L370.0,259.2L371.3,259.4L372.7,259.6L374.0,259.9L375.4,260.1L376.8,260.3L378.2,260.6L379.6,260.8L381.0,261.0L382.5,261.2L384.0,261.4L385.4,261.6L386.9,261.9L388.5,262.1L390.0,262.3L391.6,262.5L393.1,262.7L394.7,262.9L396.4,263.0L398.0,263.2L399.6,263.4L401.3,263.6L403.0,263.8L404.7,263.9L406.4,264.1L408.2,264.2L409.9,264.4L411.7,264.5L413.5,264.7L415.3,264.8L417.1,264.9L419.0,265.1L420.9,265.2L422.8,265.3L424.7,265.5L426.6,265.6L428.6,265.7L430.5,265.9L432.5,266.0L434.5,266.1L436.6,266.3L438.6,266.4L440.7,266.5L442.8,266.7L444.9,266.8L447.0,267.0L449.1,267.1L451.3,267.3L453.5,267.4L455.7,267.6L457.9,267.7L460.2,267.9L462.4,268.0L464.7,268.2L467.0,268.3L469.4,268.5L471.7,268.6L474.1,268.8L476.5,268.9L478.9,269.1L481.3,269.3L483.8,269.4L486.2,269.6L488.7,269.7L491.2,269.9L493.8,270.1L496.3,270.2L498.9,270.4L501.5,270.6L504.1,270.8L506.8,270.9L509.4,271.1L512.1,271.3L514.8,271.5L517.6,271.7L520.3,271.9L523.1,272.1L525.9,272.3L528.7,272.4L531.5,272.6L534.4,272.8L537.3,273.0L540.2,273.2L543.1,273.4" fill="none" stroke="#17becf" stroke-width="1.3" stroke-dasharray="1.1 0.8" stroke-opacity="0.55" stroke-linecap="butt" stroke-linejoin="round"/>
<path d="M309.4,262.8L309.4,262.5L309.4,262.2L309.4,261.9L309.4,261.6L309.4,261.3L309.4,260.9L309.5,260.5L309.5,260.1L309.5,259.7L309.5,259.3L309.6,258.8L309.6,258.4L309.7,257.9L309.7,257.4L309.8,256.9L309.8,256.4L309.9,255.9L310.0,255.4L310.1,254.8L310.1,254.3L310.2,253.7L310.3,253.2L310.5,252.6L310.6,252.1L310.7,251.4L310.8,250.7L311.0,249.9L311.1,249.1L311.3,248.3L311.5,247.6L311.6,247.0L311.8,246.6L312.0,246.3L312.2,245.9L312.4,245.6L312.7,245.3L312.9,245.1L313.1,244.8L313.4,244.6L313.6,244.4L313.9,244.2L314.2,244.1L314.5,243.9L314.8,243.8L315.1,243.6L315.4,243.5L315.7,243.4L316.1,243.3L316.4,243.2L316.8,243.1L317.2,243.1L317.6,243.1L318.0,243.1L318.4,243.1L318.8,243.2L319.2,243.2L319.7,243.3L320.1,243.4L320.6,243.5L321.1,243.6L321.6,243.7L322.1,243.8L322.6,244.0L323.1,244.1L323.6,244.2L324.2,244.3L324.8,244.4L325.4,244.6L325.9,244.7L326.6,244.9L327.2,245.1L327.8,245.3L328.4,245.5L329.1,245.7L329.8,245.9L330.5,246.2L331.2,246.4L331.9,246.6L332.6,246.8L333.3,246.9L334.1,247.1L334.9,247.3L335.7,247.5L336.5,247.6L337.3,247.8L338.1,248.0L338.9,248.1L339.8,248.3L340.7,248.5L341.5,248.6L342.4,248.8L343.4,249.0L344.3,249.1L345.2,249.3L346.2,249.5L347.2,249.6L348.2,249.8L349.2,250.0L350.2,250.2L351.2,250.4L352.3,250.6L353.4,250.8L354.4,251.0L355.5,251.2L356.7,251.4L357.8,251.6L358.9,251.9L360.1,252.1L361.3,252.3L362.5,252.6L363.7,252.9L364.9,253.1L366.2,253.4L367.4,253.7L368.7,253.9L370.0,254.2L371.3,254.5L372.7,254.8L374.0,255.1L375.4,255.4L376.8,255.7L378.2,256.0L379.6,256.3L381.0,256.5L382.5,256.8L384.0,257.1L385.4,257.4L386.9,257.7L388.5,258.0L390.0,258.3L391.6,258.6L393.1,258.9L394.7,259.1L396.4,259.4L398.0,259.7L399.6,259.9L401.3,260.2L403.0,260.5L404.7,260.7L406.4,261.0L408.2,261.2L409.9,261.5L411.7,261.7L413.5,262.0L415.3,262.2L417.1,262.5L419.0,262.7L420.9,262.9L422.8,263.2L424.7,263.4L426.6,263.6L428.6,263.9L430.5,264.1L432.5,264.3L434.5,264.5L436.6,264.8L438.6,265.0L440.7,265.2L442.8,265.4L444.9,265.6L447.0,265.7L449.1,265.9L451.3,266.1L453.5,266.3L455.7,266.4L457.9,266.6L460.2,266.8L462.4,266.9L464.7,267.1L467.0,267.3L469.4,267.4L471.7,267.6L474.1,267.8L476.5,267.9L478.9,268.1L481.3,268.3L483.8,268.4L486.2,268.6L488.7,268.8L491.2,269.0L493.8,269.2L496.3,269.4L498.9,269.6L501.5,269.8L504.1,270.0L506.8,270.2L509.4,270.5L512.1,270.7L514.8,270.9L517.6,271.2L520.3,271.4L523.1,271.7L525.9,271.9L528.7,272.2L531.5,272.4L534.4,272.7L537.3,272.9L540.2,273.2L543.1,273.4" fill="none" stroke="#ff7f0e" stroke-width="1.17" stroke-linecap="square" stroke-linejoin="round"/>
<rect x="309.4" y="172.2" width="233.7" height="111.9" fill="none" stroke="#000" stroke-width="0.75"/>
<line x1="306.67" y1="284.1" x2="309.4" y2="284.1" stroke="#000" stroke-width="0.75"/>
<text x="295.58" y="286.25" font-size="6.3" textLength="8.48" lengthAdjust="spacingAndGlyphs">0.0</text>
<line x1="306.67" y1="262.79" x2="309.4" y2="262.79" stroke="#000" stroke-width="0.75"/>
<text x="295.68" y="264.94" font-size="6.3" textLength="8.48" lengthAdjust="spacingAndGlyphs">0.2</text>
<line x1="306.67" y1="241.47" x2="309.4" y2="241.47" stroke="#000" stroke-width="0.75"/>
<text x="295.55" y="243.62" font-size="6.3" textLength="8.48" lengthAdjust="spacingAndGlyphs">0.4</text>
<line x1="306.67" y1="220.16" x2="309.4" y2="220.16" stroke="#000" stroke-width="0.75"/>
<text x="295.61" y="222.31" font-size="6.3" textLength="8.48" lengthAdjust="spacingAndGlyphs">0.6</text>
<line x1="306.67" y1="198.84" x2="309.4" y2="198.84" stroke="#000" stroke-width="0.75"/>
<text x="295.61" y="200.99" font-size="6.3" textLength="8.48" lengthAdjust="spacingAndGlyphs">0.8</text>
<line x1="306.67" y1="177.53" x2="309.4" y2="177.53" stroke="#000" stroke-width="0.75"/>
<text x="295.58" y="179.68" font-size="6.3" textLength="8.48" lengthAdjust="spacingAndGlyphs">1.0</text>
<line x1="309.4" y1="284.1" x2="309.4" y2="286.83" stroke="#000" stroke-width="0.75"/>
<text x="305.15" y="293.5" font-size="6.3" textLength="8.48" lengthAdjust="spacingAndGlyphs">0.0</text>
<line x1="356.14" y1="284.1" x2="356.14" y2="286.83" stroke="#000" stroke-width="0.75"/>
<text x="351.93" y="293.5" font-size="6.3" textLength="8.48" lengthAdjust="spacingAndGlyphs">0.2</text>
<line x1="402.88" y1="284.1" x2="402.88" y2="286.83" stroke="#000" stroke-width="0.75"/>
<text x="398.61" y="293.5" font-size="6.3" textLength="8.48" lengthAdjust="spacingAndGlyphs">0.4</text>
<line x1="449.62" y1="284.1" x2="449.62" y2="286.83" stroke="#000" stroke-width="0.75"/>
<text x="445.38" y="293.5" font-size="6.3" textLength="8.48" lengthAdjust="spacingAndGlyphs">0.6</text>
<line x1="496.36" y1="284.1" x2="496.36" y2="286.83" stroke="#000" stroke-width="0.75"/>
<text x="492.12" y="293.5" font-size="6.3" textLength="8.48" lengthAdjust="spacingAndGlyphs">0.8</text>
<line x1="543.1" y1="284.1" x2="543.1" y2="286.83" stroke="#000" stroke-width="0.75"/>
<text x="538.74" y="293.5" font-size="6.3" textLength="8.48" lengthAdjust="spacingAndGlyphs">1.0</text>
<text x="414.73" y="304" font-size="8.2" textLength="22.99" lengthAdjust="spacingAndGlyphs">Recall</text>
<text transform="translate(290.75,229.05) rotate(-90)" x="-17.3" y="0" font-size="8.2" textLength="34.63" lengthAdjust="spacingAndGlyphs">Precision</text>
<text x="334.09" y="167.3" font-size="8.0" textLength="4.79" lengthAdjust="spacingAndGlyphs" font-weight="bold">E</text>
<text x="341.75" y="167.3" font-size="8.0" textLength="176.78" lengthAdjust="spacingAndGlyphs">Held Out Data (10% Positive) Precision Recall</text>
<rect x="452.3" y="175.2" width="87.8" height="72.16" rx="1.2" fill="#fff" fill-opacity="0.8" stroke="#ccc" stroke-width="0.78"/>
<line x1="454.6" y1="180" x2="466" y2="180" stroke="#1f77b4" stroke-width="1.3" stroke-dasharray="1.1 0.8" stroke-opacity="0.55"/>
<text x="471.4" y="182.4" font-size="6.5" textLength="66.18" lengthAdjust="spacingAndGlyphs">Li 2020 Deep Ensemble</text>
<line x1="454.6" y1="188.78" x2="466" y2="188.78" stroke="#ff7f0e" stroke-width="1.3" stroke-dasharray="1.1 0.8" stroke-opacity="0.55"/>
<text x="471.4" y="191.18" font-size="6.5" textLength="36.2" lengthAdjust="spacingAndGlyphs">Du 2017 Sep</text>
<line x1="454.6" y1="197.56" x2="466" y2="197.56" stroke="#e377c2" stroke-width="1.3" stroke-dasharray="1.1 0.8" stroke-opacity="0.55"/>
<text x="471.4" y="199.96" font-size="6.5" textLength="65.83" lengthAdjust="spacingAndGlyphs">Pan 2010 PSAAC Rand</text>
<line x1="454.6" y1="206.34" x2="466" y2="206.34" stroke="#8c564b" stroke-width="1.3" stroke-dasharray="1.1 0.8" stroke-opacity="0.55"/>
<text x="471.81" y="208.74" font-size="6.5" textLength="33.43" lengthAdjust="spacingAndGlyphs">Jia 2019 RF</text>
<line x1="454.6" y1="215.12" x2="466" y2="215.12" stroke="#7f7f7f" stroke-width="1.3" stroke-dasharray="1.1 0.8" stroke-opacity="0.55"/>
<text x="471.59" y="217.52" font-size="6.5" textLength="54.11" lengthAdjust="spacingAndGlyphs">Goktepe 2018 SVM</text>
<line x1="454.6" y1="223.9" x2="466" y2="223.9" stroke="#bcbd22" stroke-width="1.3" stroke-dasharray="1.1 0.8" stroke-opacity="0.55"/>
<text x="471.4" y="226.3" font-size="6.5" textLength="41.7" lengthAdjust="spacingAndGlyphs">Du 2017 Comb</text>
<line x1="454.6" y1="232.68" x2="466" y2="232.68" stroke="#17becf" stroke-width="1.3" stroke-dasharray="1.1 0.8" stroke-opacity="0.55"/>
<text x="471.4" y="235.08" font-size="6.5" textLength="60.66" lengthAdjust="spacingAndGlyphs">Pan 2010 PSAAC Rot</text>
<line x1="455.18" y1="241.46" x2="465.41" y2="241.46" stroke="#ff7f0e" stroke-width="1.17" stroke-linecap="square"/>
<text x="471.4" y="243.86" font-size="6.5" textLength="37.22" lengthAdjust="spacingAndGlyphs">Bias Seq Sim</text>
<path d="M309.4,357.9L309.4,358.0L309.4,358.1L309.4,358.2L309.4,358.3L309.4,358.4L309.4,358.5L309.5,358.7L309.5,358.8L309.5,359.0L309.5,359.2L309.5,359.5L309.6,359.7L309.6,360.0L309.6,360.3L309.7,360.7L309.7,361.0L309.8,361.4L309.8,361.9L309.9,362.8L310.0,368.1L310.0,376.7L310.1,386.5L310.2,395.2L310.3,401.1L310.4,406.0L310.4,410.3L310.6,413.9L310.7,416.8L310.8,419.6L310.9,422.1L311.0,424.3L311.2,426.2L311.3,427.6L311.5,428.7L311.6,429.6L311.8,430.4L312.0,431.1L312.1,431.8L312.3,432.3L312.5,432.8L312.7,433.3L313.0,433.6L313.2,434.0L313.4,434.3L313.7,434.6L313.9,434.9L314.2,435.2L314.5,435.4L314.7,435.6L315.0,435.8L315.3,436.0L315.6,436.2L316.0,436.4L316.3,436.5L316.6,436.6L317.0,436.7L317.4,436.8L317.7,436.9L318.1,437.0L318.5,437.1L319.0,437.2L319.4,437.2L319.8,437.3L320.3,437.4L320.7,437.4L321.2,437.5L321.7,437.5L322.2,437.6L322.7,437.6L323.2,437.7L323.8,437.7L324.3,437.7L324.9,437.8L325.5,437.8L326.1,437.8L326.7,437.8L327.3,437.9L328.0,437.9L328.6,437.9L329.3,437.9L330.0,438.0L330.7,438.0L331.4,438.0L332.1,438.0L332.9,438.1L333.6,438.1L334.4,438.1L335.2,438.1L336.0,438.1L336.8,438.2L337.7,438.2L338.5,438.2L339.4,438.2L340.3,438.2L341.2,438.3L342.1,438.3L343.1,438.3L344.0,438.3L345.0,438.3L346.0,438.4L347.0,438.4L348.0,438.4L349.1,438.5L350.2,438.5L351.3,438.5L352.4,438.5L353.5,438.6L354.6,438.6L355.8,438.6L357.0,438.6L358.2,438.7L359.4,438.7L360.6,438.7L361.9,438.7L363.2,438.8L364.5,438.8L365.8,438.8L367.1,438.8L368.5,438.9L369.9,438.9L371.3,438.9L372.7,438.9L374.2,439.0L375.6,439.0L377.1,439.0L378.6,439.0L380.2,439.1L381.7,439.1L383.3,439.1L384.9,439.1L386.5,439.2L388.2,439.2L389.8,439.2L391.5,439.2L393.2,439.3L395.0,439.3L396.7,439.3L398.5,439.3L400.3,439.4L402.1,439.4L404.0,439.4L405.9,439.4L407.8,439.5L409.7,439.5L411.6,439.5L413.6,439.5L415.6,439.6L417.6,439.6L419.7,439.6L421.7,439.6L423.8,439.7L426.0,439.7L428.1,439.7L430.3,439.7L432.5,439.8L434.7,439.8L437.0,439.8L439.2,439.8L441.5,439.9L443.9,439.9L446.2,439.9L448.6,439.9L451.0,439.9L453.5,440.0L455.9,440.0L458.4,440.0L460.9,440.0L463.5,440.1L466.0,440.1L468.6,440.1L471.3,440.1L473.9,440.2L476.6,440.2L479.3,440.2L482.1,440.2L484.8,440.2L487.6,440.3L490.5,440.3L493.3,440.3L496.2,440.3L499.1,440.4L502.1,440.4L505.1,440.4L508.1,440.4L511.1,440.5L514.2,440.5L517.2,440.5L520.4,440.5L523.5,440.5L526.7,440.6L529.9,440.6L533.2,440.6L536.5,440.6L539.8,440.7L543.1,440.7" fill="none" stroke="#1f77b4" stroke-width="1.4" stroke-dasharray="1.5 0.5" stroke-opacity="0.85" stroke-linecap="butt" stroke-linejoin="round"/>
<path d="M309.4,428.2L309.4,428.3L309.4,428.4L309.4,428.5L309.4,428.6L309.5,428.7L309.5,428.8L309.5,428.9L309.5,429.0L309.6,429.2L309.6,429.3L309.6,429.4L309.7,429.5L309.7,429.6L309.8,429.7L309.8,429.8L309.9,430.0L310.0,430.1L310.0,430.2L310.1,430.3L310.2,430.5L310.3,430.7L310.4,430.9L310.4,431.1L310.6,431.3L310.7,431.6L310.8,431.9L310.9,432.1L311.0,432.4L311.2,432.7L311.3,432.9L311.5,433.2L311.6,433.4L311.8,433.6L312.0,433.8L312.1,434.0L312.3,434.2L312.5,434.4L312.7,434.6L313.0,434.8L313.2,435.0L313.4,435.2L313.7,435.4L313.9,435.6L314.2,435.7L314.5,435.9L314.7,436.1L315.0,436.2L315.3,436.4L315.6,436.5L316.0,436.6L316.3,436.7L316.6,436.8L317.0,436.9L317.4,437.0L317.7,437.1L318.1,437.2L318.5,437.2L319.0,437.3L319.4,437.4L319.8,437.5L320.3,437.6L320.7,437.6L321.2,437.7L321.7,437.8L322.2,437.8L322.7,437.9L323.2,438.0L323.8,438.0L324.3,438.1L324.9,438.2L325.5,438.2L326.1,438.3L326.7,438.3L327.3,438.4L328.0,438.4L328.6,438.4L329.3,438.5L330.0,438.5L330.7,438.6L331.4,438.6L332.1,438.6L332.9,438.7L333.6,438.7L334.4,438.7L335.2,438.7L336.0,438.8L336.8,438.8L337.7,438.8L338.5,438.8L339.4,438.9L340.3,438.9L341.2,438.9L342.1,438.9L343.1,438.9L344.0,439.0L345.0,439.0L346.0,439.0L347.0,439.0L348.0,439.0L349.1,439.1L350.2,439.1L351.3,439.1L352.4,439.1L353.5,439.1L354.6,439.1L355.8,439.2L357.0,439.2L358.2,439.2L359.4,439.2L360.6,439.2L361.9,439.2L363.2,439.2L364.5,439.3L365.8,439.3L367.1,439.3L368.5,439.3L369.9,439.3L371.3,439.3L372.7,439.3L374.2,439.3L375.6,439.4L377.1,439.4L378.6,439.4L380.2,439.4L381.7,439.4L383.3,439.4L384.9,439.4L386.5,439.5L388.2,439.5L389.8,439.5L391.5,439.5L393.2,439.5L395.0,439.5L396.7,439.6L398.5,439.6L400.3,439.6L402.1,439.6L404.0,439.6L405.9,439.6L407.8,439.7L409.7,439.7L411.6,439.7L413.6,439.7L415.6,439.7L417.6,439.8L419.7,439.8L421.7,439.8L423.8,439.8L426.0,439.8L428.1,439.8L430.3,439.9L432.5,439.9L434.7,439.9L437.0,439.9L439.2,439.9L441.5,440.0L443.9,440.0L446.2,440.0L448.6,440.0L451.0,440.0L453.5,440.1L455.9,440.1L458.4,440.1L460.9,440.1L463.5,440.1L466.0,440.2L468.6,440.2L471.3,440.2L473.9,440.2L476.6,440.2L479.3,440.3L482.1,440.3L484.8,440.3L487.6,440.3L490.5,440.3L493.3,440.4L496.2,440.4L499.1,440.4L502.1,440.4L505.1,440.4L508.1,440.5L511.1,440.5L514.2,440.5L517.2,440.5L520.4,440.5L523.5,440.6L526.7,440.6L529.9,440.6L533.2,440.6L536.5,440.6L539.8,440.7L543.1,440.7" fill="none" stroke="#ff7f0e" stroke-width="1.3" stroke-dasharray="1.1 0.8" stroke-opacity="0.55" stroke-linecap="butt" stroke-linejoin="round"/>
<path d="M309.4,377.1L309.4,377.6L309.4,378.2L309.4,378.9L309.4,379.7L309.4,380.5L309.4,381.4L309.4,382.4L309.4,383.5L309.4,384.6L309.4,385.7L309.5,386.9L309.5,388.2L309.5,389.5L309.5,390.8L309.5,392.2L309.6,393.6L309.6,395.1L309.6,396.6L309.7,398.1L309.7,399.6L309.8,401.2L309.8,402.7L309.9,404.4L310.0,406.3L310.0,408.4L310.1,410.8L310.2,413.2L310.3,415.6L310.4,417.8L310.4,419.9L310.6,421.6L310.7,423.1L310.8,424.5L310.9,425.8L311.0,427.1L311.2,428.3L311.3,429.4L311.5,430.3L311.6,431.0L311.8,431.6L312.0,432.0L312.1,432.5L312.3,432.9L312.5,433.3L312.7,433.7L313.0,434.0L313.2,434.4L313.4,434.7L313.7,435.0L313.9,435.3L314.2,435.5L314.5,435.7L314.7,435.9L315.0,436.1L315.3,436.3L315.6,436.5L316.0,436.6L316.3,436.7L316.6,436.8L317.0,436.9L317.4,437.0L317.7,437.1L318.1,437.2L318.5,437.2L319.0,437.3L319.4,437.4L319.8,437.5L320.3,437.5L320.7,437.6L321.2,437.7L321.7,437.7L322.2,437.8L322.7,437.8L323.2,437.9L323.8,437.9L324.3,438.0L324.9,438.0L325.5,438.1L326.1,438.1L326.7,438.1L327.3,438.2L328.0,438.2L328.6,438.3L329.3,438.3L330.0,438.3L330.7,438.4L331.4,438.4L332.1,438.4L332.9,438.4L333.6,438.5L334.4,438.5L335.2,438.5L336.0,438.6L336.8,438.6L337.7,438.6L338.5,438.6L339.4,438.7L340.3,438.7L341.2,438.7L342.1,438.7L343.1,438.8L344.0,438.8L345.0,438.8L346.0,438.8L347.0,438.8L348.0,438.9L349.1,438.9L350.2,438.9L351.3,438.9L352.4,438.9L353.5,438.9L354.6,439.0L355.8,439.0L357.0,439.0L358.2,439.0L359.4,439.0L360.6,439.0L361.9,439.1L363.2,439.1L364.5,439.1L365.8,439.1L367.1,439.1L368.5,439.1L369.9,439.2L371.3,439.2L372.7,439.2L374.2,439.2L375.6,439.2L377.1,439.2L378.6,439.3L380.2,439.3L381.7,439.3L383.3,439.3L384.9,439.3L386.5,439.3L388.2,439.4L389.8,439.4L391.5,439.4L393.2,439.4L395.0,439.4L396.7,439.4L398.5,439.5L400.3,439.5L402.1,439.5L404.0,439.5L405.9,439.5L407.8,439.6L409.7,439.6L411.6,439.6L413.6,439.6L415.6,439.6L417.6,439.7L419.7,439.7L421.7,439.7L423.8,439.7L426.0,439.7L428.1,439.8L430.3,439.8L432.5,439.8L434.7,439.8L437.0,439.9L439.2,439.9L441.5,439.9L443.9,439.9L446.2,439.9L448.6,440.0L451.0,440.0L453.5,440.0L455.9,440.0L458.4,440.0L460.9,440.1L463.5,440.1L466.0,440.1L468.6,440.1L471.3,440.1L473.9,440.2L476.6,440.2L479.3,440.2L482.1,440.2L484.8,440.3L487.6,440.3L490.5,440.3L493.3,440.3L496.2,440.3L499.1,440.4L502.1,440.4L505.1,440.4L508.1,440.4L511.1,440.5L514.2,440.5L517.2,440.5L520.4,440.5L523.5,440.5L526.7,440.6L529.9,440.6L533.2,440.6L536.5,440.6L539.8,440.7L543.1,440.7" fill="none" stroke="#e377c2" stroke-width="1.3" stroke-dasharray="1.1 0.8" stroke-opacity="0.55" stroke-linecap="butt" stroke-linejoin="round"/>
<path d="M309.4,345.1L309.4,345.8L309.4,346.7L309.4,347.8L309.4,348.9L309.4,350.2L309.4,351.7L309.4,353.2L309.4,354.9L309.4,356.6L309.4,358.5L309.5,360.4L309.5,362.4L309.5,364.6L309.5,366.7L309.5,369.0L309.6,371.3L309.6,373.7L309.6,376.1L309.7,378.6L309.7,381.1L309.8,383.6L309.8,386.2L309.9,388.8L310.0,392.0L310.0,395.7L310.1,399.5L310.2,403.3L310.3,406.7L310.4,409.5L310.4,412.1L310.6,414.6L310.7,417.1L310.8,419.5L310.9,421.8L311.0,423.9L311.2,425.7L311.3,427.4L311.5,428.8L311.6,429.8L311.8,430.5L312.0,431.1L312.1,431.7L312.3,432.2L312.5,432.7L312.7,433.2L313.0,433.6L313.2,434.0L313.4,434.4L313.7,434.8L313.9,435.1L314.2,435.4L314.5,435.6L314.7,435.9L315.0,436.1L315.3,436.3L315.6,436.4L316.0,436.6L316.3,436.7L316.6,436.8L317.0,436.9L317.4,437.0L317.7,437.1L318.1,437.1L318.5,437.2L319.0,437.3L319.4,437.4L319.8,437.4L320.3,437.5L320.7,437.6L321.2,437.6L321.7,437.7L322.2,437.7L322.7,437.8L323.2,437.8L323.8,437.9L324.3,437.9L324.9,437.9L325.5,438.0L326.1,438.0L326.7,438.1L327.3,438.1L328.0,438.1L328.6,438.2L329.3,438.2L330.0,438.2L330.7,438.2L331.4,438.3L332.1,438.3L332.9,438.3L333.6,438.4L334.4,438.4L335.2,438.4L336.0,438.5L336.8,438.5L337.7,438.5L338.5,438.5L339.4,438.5L340.3,438.6L341.2,438.6L342.1,438.6L343.1,438.6L344.0,438.7L345.0,438.7L346.0,438.7L347.0,438.7L348.0,438.7L349.1,438.8L350.2,438.8L351.3,438.8L352.4,438.8L353.5,438.8L354.6,438.8L355.8,438.9L357.0,438.9L358.2,438.9L359.4,438.9L360.6,438.9L361.9,438.9L363.2,439.0L364.5,439.0L365.8,439.0L367.1,439.0L368.5,439.0L369.9,439.0L371.3,439.1L372.7,439.1L374.2,439.1L375.6,439.1L377.1,439.1L378.6,439.1L380.2,439.2L381.7,439.2L383.3,439.2L384.9,439.2L386.5,439.2L388.2,439.2L389.8,439.3L391.5,439.3L393.2,439.3L395.0,439.3L396.7,439.3L398.5,439.4L400.3,439.4L402.1,439.4L404.0,439.4L405.9,439.4L407.8,439.5L409.7,439.5L411.6,439.5L413.6,439.5L415.6,439.5L417.6,439.6L419.7,439.6L421.7,439.6L423.8,439.6L426.0,439.7L428.1,439.7L430.3,439.7L432.5,439.7L434.7,439.7L437.0,439.8L439.2,439.8L441.5,439.8L443.9,439.8L446.2,439.9L448.6,439.9L451.0,439.9L453.5,439.9L455.9,439.9L458.4,440.0L460.9,440.0L463.5,440.0L466.0,440.0L468.6,440.1L471.3,440.1L473.9,440.1L476.6,440.1L479.3,440.2L482.1,440.2L484.8,440.2L487.6,440.2L490.5,440.3L493.3,440.3L496.2,440.3L499.1,440.3L502.1,440.4L505.1,440.4L508.1,440.4L511.1,440.4L514.2,440.5L517.2,440.5L520.4,440.5L523.5,440.5L526.7,440.6L529.9,440.6L533.2,440.6L536.5,440.6L539.8,440.7L543.1,440.7" fill="none" stroke="#8c564b" stroke-width="1.3" stroke-dasharray="1.1 0.8" stroke-opacity="0.55" stroke-linecap="butt" stroke-linejoin="round"/>
<path d="M309.4,409.0L309.4,409.6L309.4,410.2L309.4,410.9L309.4,411.5L309.4,412.1L309.4,412.7L309.4,413.3L309.4,413.9L309.4,414.5L309.4,415.1L309.5,415.7L309.5,416.3L309.5,417.0L309.5,417.6L309.5,418.2L309.6,418.8L309.6,419.4L309.6,420.0L309.7,420.7L309.7,421.3L309.8,421.9L309.8,422.5L309.9,423.1L310.0,423.7L310.0,424.4L310.1,425.0L310.2,425.6L310.3,426.3L310.4,427.0L310.4,427.7L310.6,428.5L310.7,429.2L310.8,429.9L310.9,430.6L311.0,431.2L311.2,431.8L311.3,432.4L311.5,432.9L311.6,433.3L311.8,433.6L312.0,433.9L312.1,434.2L312.3,434.5L312.5,434.8L312.7,435.0L313.0,435.3L313.2,435.5L313.4,435.7L313.7,435.9L313.9,436.1L314.2,436.3L314.5,436.5L314.7,436.6L315.0,436.8L315.3,436.9L315.6,437.0L316.0,437.1L316.3,437.2L316.6,437.3L317.0,437.4L317.4,437.5L317.7,437.6L318.1,437.6L318.5,437.7L319.0,437.8L319.4,437.9L319.8,437.9L320.3,438.0L320.7,438.1L321.2,438.1L321.7,438.2L322.2,438.2L322.7,438.3L323.2,438.3L323.8,438.4L324.3,438.4L324.9,438.5L325.5,438.5L326.1,438.5L326.7,438.6L327.3,438.6L328.0,438.7L328.6,438.7L329.3,438.7L330.0,438.8L330.7,438.8L331.4,438.8L332.1,438.8L332.9,438.9L333.6,438.9L334.4,438.9L335.2,438.9L336.0,439.0L336.8,439.0L337.7,439.0L338.5,439.0L339.4,439.0L340.3,439.1L341.2,439.1L342.1,439.1L343.1,439.1L344.0,439.1L345.0,439.2L346.0,439.2L347.0,439.2L348.0,439.2L349.1,439.2L350.2,439.2L351.3,439.3L352.4,439.3L353.5,439.3L354.6,439.3L355.8,439.3L357.0,439.3L358.2,439.3L359.4,439.3L360.6,439.4L361.9,439.4L363.2,439.4L364.5,439.4L365.8,439.4L367.1,439.4L368.5,439.4L369.9,439.4L371.3,439.5L372.7,439.5L374.2,439.5L375.6,439.5L377.1,439.5L378.6,439.5L380.2,439.5L381.7,439.5L383.3,439.6L384.9,439.6L386.5,439.6L388.2,439.6L389.8,439.6L391.5,439.6L393.2,439.6L395.0,439.7L396.7,439.7L398.5,439.7L400.3,439.7L402.1,439.7L404.0,439.7L405.9,439.7L407.8,439.8L409.7,439.8L411.6,439.8L413.6,439.8L415.6,439.8L417.6,439.8L419.7,439.9L421.7,439.9L423.8,439.9L426.0,439.9L428.1,439.9L430.3,439.9L432.5,440.0L434.7,440.0L437.0,440.0L439.2,440.0L441.5,440.0L443.9,440.1L446.2,440.1L448.6,440.1L451.0,440.1L453.5,440.1L455.9,440.1L458.4,440.2L460.9,440.2L463.5,440.2L466.0,440.2L468.6,440.2L471.3,440.2L473.9,440.3L476.6,440.3L479.3,440.3L482.1,440.3L484.8,440.3L487.6,440.4L490.5,440.4L493.3,440.4L496.2,440.4L499.1,440.4L502.1,440.4L505.1,440.5L508.1,440.5L511.1,440.5L514.2,440.5L517.2,440.5L520.4,440.6L523.5,440.6L526.7,440.6L529.9,440.6L533.2,440.6L536.5,440.6L539.8,440.7L543.1,440.7" fill="none" stroke="#7f7f7f" stroke-width="1.3" stroke-dasharray="1.1 0.8" stroke-opacity="0.55" stroke-linecap="butt" stroke-linejoin="round"/>
<path d="M309.4,421.8L309.4,422.0L309.4,422.2L309.4,422.5L309.4,422.7L309.4,422.9L309.4,423.1L309.4,423.4L309.4,423.6L309.4,423.8L309.4,424.1L309.5,424.3L309.5,424.5L309.5,424.8L309.5,425.0L309.5,425.3L309.6,425.5L309.6,425.8L309.6,426.1L309.7,426.3L309.7,426.6L309.8,426.8L309.8,427.1L309.9,427.4L310.0,427.7L310.0,427.9L310.1,428.2L310.2,428.5L310.3,428.8L310.4,429.1L310.4,429.4L310.6,429.7L310.7,430.0L310.8,430.3L310.9,430.6L311.0,430.9L311.2,431.2L311.3,431.5L311.5,431.7L311.6,432.0L311.8,432.3L312.0,432.5L312.1,432.8L312.3,433.0L312.5,433.2L312.7,433.5L313.0,433.7L313.2,433.9L313.4,434.1L313.7,434.3L313.9,434.5L314.2,434.7L314.5,434.8L314.7,435.0L315.0,435.2L315.3,435.3L315.6,435.5L316.0,435.7L316.3,435.8L316.6,436.0L317.0,436.1L317.4,436.2L317.7,436.4L318.1,436.5L318.5,436.6L319.0,436.8L319.4,436.9L319.8,437.0L320.3,437.1L320.7,437.2L321.2,437.3L321.7,437.4L322.2,437.5L322.7,437.6L323.2,437.7L323.8,437.8L324.3,437.8L324.9,437.9L325.5,438.0L326.1,438.1L326.7,438.2L327.3,438.2L328.0,438.3L328.6,438.4L329.3,438.4L330.0,438.5L330.7,438.5L331.4,438.6L332.1,438.6L332.9,438.7L333.6,438.7L334.4,438.7L335.2,438.8L336.0,438.8L336.8,438.8L337.7,438.8L338.5,438.9L339.4,438.9L340.3,438.9L341.2,438.9L342.1,439.0L343.1,439.0L344.0,439.0L345.0,439.0L346.0,439.1L347.0,439.1L348.0,439.1L349.1,439.1L350.2,439.1L351.3,439.2L352.4,439.2L353.5,439.2L354.6,439.2L355.8,439.2L357.0,439.3L358.2,439.3L359.4,439.3L360.6,439.3L361.9,439.3L363.2,439.3L364.5,439.3L365.8,439.4L367.1,439.4L368.5,439.4L369.9,439.4L371.3,439.4L372.7,439.4L374.2,439.4L375.6,439.5L377.1,439.5L378.6,439.5L380.2,439.5L381.7,439.5L383.3,439.5L384.9,439.5L386.5,439.6L388.2,439.6L389.8,439.6L391.5,439.6L393.2,439.6L395.0,439.6L396.7,439.7L398.5,439.7L400.3,439.7L402.1,439.7L404.0,439.7L405.9,439.8L407.8,439.8L409.7,439.8L411.6,439.8L413.6,439.8L415.6,439.8L417.6,439.9L419.7,439.9L421.7,439.9L423.8,439.9L426.0,439.9L428.1,440.0L430.3,440.0L432.5,440.0L434.7,440.0L437.0,440.0L439.2,440.0L441.5,440.1L443.9,440.1L446.2,440.1L448.6,440.1L451.0,440.1L453.5,440.1L455.9,440.2L458.4,440.2L460.9,440.2L463.5,440.2L466.0,440.2L468.6,440.3L471.3,440.3L473.9,440.3L476.6,440.3L479.3,440.3L482.1,440.3L484.8,440.4L487.6,440.4L490.5,440.4L493.3,440.4L496.2,440.4L499.1,440.4L502.1,440.5L505.1,440.5L508.1,440.5L511.1,440.5L514.2,440.5L517.2,440.5L520.4,440.6L523.5,440.6L526.7,440.6L529.9,440.6L533.2,440.6L536.5,440.6L539.8,440.7L543.1,440.7" fill="none" stroke="#bcbd22" stroke-width="1.4" stroke-dasharray="1.4 0.5" stroke-opacity="0.75" stroke-linecap="butt" stroke-linejoin="round"/>
<path d="M309.4,355.7L309.4,355.8L309.4,356.0L309.4,356.3L309.4,356.7L309.4,357.3L309.4,358.0L309.4,358.7L309.4,359.6L309.4,360.6L309.4,361.7L309.5,362.8L309.5,364.1L309.5,365.5L309.5,366.9L309.5,368.4L309.6,370.0L309.6,371.7L309.6,373.5L309.7,375.3L309.7,377.2L309.8,379.1L309.8,381.1L309.9,383.3L310.0,386.9L310.0,391.5L310.1,396.7L310.2,401.8L310.3,406.3L310.4,409.6L310.4,412.3L310.6,414.9L310.7,417.5L310.8,419.9L310.9,422.1L311.0,424.1L311.2,425.9L311.3,427.5L311.5,428.8L311.6,429.8L311.8,430.5L312.0,431.1L312.1,431.7L312.3,432.2L312.5,432.7L312.7,433.2L313.0,433.6L313.2,434.0L313.4,434.4L313.7,434.7L313.9,435.1L314.2,435.3L314.5,435.6L314.7,435.9L315.0,436.1L315.3,436.3L315.6,436.4L316.0,436.6L316.3,436.7L316.6,436.8L317.0,436.9L317.4,437.0L317.7,437.1L318.1,437.2L318.5,437.3L319.0,437.4L319.4,437.4L319.8,437.5L320.3,437.6L320.7,437.7L321.2,437.7L321.7,437.8L322.2,437.9L322.7,437.9L323.2,438.0L323.8,438.0L324.3,438.1L324.9,438.1L325.5,438.2L326.1,438.2L326.7,438.2L327.3,438.3L328.0,438.3L328.6,438.4L329.3,438.4L330.0,438.4L330.7,438.5L331.4,438.5L332.1,438.5L332.9,438.6L333.6,438.6L334.4,438.6L335.2,438.6L336.0,438.7L336.8,438.7L337.7,438.7L338.5,438.7L339.4,438.8L340.3,438.8L341.2,438.8L342.1,438.8L343.1,438.8L344.0,438.9L345.0,438.9L346.0,438.9L347.0,438.9L348.0,438.9L349.1,438.9L350.2,439.0L351.3,439.0L352.4,439.0L353.5,439.0L354.6,439.0L355.8,439.0L357.0,439.1L358.2,439.1L359.4,439.1L360.6,439.1L361.9,439.1L363.2,439.1L364.5,439.1L365.8,439.2L367.1,439.2L368.5,439.2L369.9,439.2L371.3,439.2L372.7,439.2L374.2,439.2L375.6,439.2L377.1,439.3L378.6,439.3L380.2,439.3L381.7,439.3L383.3,439.3L384.9,439.3L386.5,439.3L388.2,439.4L389.8,439.4L391.5,439.4L393.2,439.4L395.0,439.4L396.7,439.4L398.5,439.5L400.3,439.5L402.1,439.5L404.0,439.5L405.9,439.5L407.8,439.6L409.7,439.6L411.6,439.6L413.6,439.6L415.6,439.6L417.6,439.7L419.7,439.7L421.7,439.7L423.8,439.7L426.0,439.7L428.1,439.8L430.3,439.8L432.5,439.8L434.7,439.8L437.0,439.8L439.2,439.9L441.5,439.9L443.9,439.9L446.2,439.9L448.6,439.9L451.0,440.0L453.5,440.0L455.9,440.0L458.4,440.0L460.9,440.0L463.5,440.1L466.0,440.1L468.6,440.1L471.3,440.1L473.9,440.2L476.6,440.2L479.3,440.2L482.1,440.2L484.8,440.2L487.6,440.3L490.5,440.3L493.3,440.3L496.2,440.3L499.1,440.4L502.1,440.4L505.1,440.4L508.1,440.4L511.1,440.4L514.2,440.5L517.2,440.5L520.4,440.5L523.5,440.5L526.7,440.6L529.9,440.6L533.2,440.6L536.5,440.6L539.8,440.7L543.1,440.7" fill="none" stroke="#17becf" stroke-width="1.3" stroke-dasharray="1.1 0.8" stroke-opacity="0.55" stroke-linecap="butt" stroke-linejoin="round"/>
<path d="M309.4,431.4L309.4,431.5L309.4,431.6L309.4,431.7L309.4,431.8L309.4,431.9L309.4,432.1L309.4,432.2L309.4,432.3L309.4,432.4L309.4,432.5L309.5,432.7L309.5,432.8L309.5,432.9L309.5,433.1L309.5,433.2L309.6,433.3L309.6,433.5L309.6,433.6L309.7,433.8L309.7,433.9L309.8,434.1L309.8,434.2L309.9,434.4L310.0,434.5L310.0,434.7L310.1,434.8L310.2,435.0L310.3,435.2L310.4,435.3L310.4,435.5L310.6,435.6L310.7,435.8L310.8,436.0L310.9,436.2L311.0,436.5L311.2,436.7L311.3,436.9L311.5,437.1L311.6,437.2L311.8,437.3L312.0,437.4L312.1,437.4L312.3,437.5L312.5,437.5L312.7,437.6L313.0,437.6L313.2,437.7L313.4,437.7L313.7,437.8L313.9,437.8L314.2,437.8L314.5,437.9L314.7,437.9L315.0,437.9L315.3,438.0L315.6,438.0L316.0,438.0L316.3,438.0L316.6,438.1L317.0,438.1L317.4,438.1L317.7,438.1L318.1,438.2L318.5,438.2L319.0,438.2L319.4,438.2L319.8,438.3L320.3,438.3L320.7,438.3L321.2,438.3L321.7,438.4L322.2,438.4L322.7,438.4L323.2,438.5L323.8,438.5L324.3,438.5L324.9,438.6L325.5,438.6L326.1,438.6L326.7,438.6L327.3,438.7L328.0,438.7L328.6,438.7L329.3,438.8L330.0,438.8L330.7,438.8L331.4,438.8L332.1,438.8L332.9,438.9L333.6,438.9L334.4,438.9L335.2,438.9L336.0,439.0L336.8,439.0L337.7,439.0L338.5,439.0L339.4,439.0L340.3,439.0L341.2,439.1L342.1,439.1L343.1,439.1L344.0,439.1L345.0,439.1L346.0,439.2L347.0,439.2L348.0,439.2L349.1,439.2L350.2,439.2L351.3,439.2L352.4,439.3L353.5,439.3L354.6,439.3L355.8,439.3L357.0,439.3L358.2,439.3L359.4,439.3L360.6,439.4L361.9,439.4L363.2,439.4L364.5,439.4L365.8,439.4L367.1,439.4L368.5,439.4L369.9,439.5L371.3,439.5L372.7,439.5L374.2,439.5L375.6,439.5L377.1,439.5L378.6,439.5L380.2,439.6L381.7,439.6L383.3,439.6L384.9,439.6L386.5,439.6L388.2,439.6L389.8,439.6L391.5,439.7L393.2,439.7L395.0,439.7L396.7,439.7L398.5,439.7L400.3,439.7L402.1,439.7L404.0,439.8L405.9,439.8L407.8,439.8L409.7,439.8L411.6,439.8L413.6,439.8L415.6,439.9L417.6,439.9L419.7,439.9L421.7,439.9L423.8,439.9L426.0,439.9L428.1,439.9L430.3,440.0L432.5,440.0L434.7,440.0L437.0,440.0L439.2,440.0L441.5,440.0L443.9,440.1L446.2,440.1L448.6,440.1L451.0,440.1L453.5,440.1L455.9,440.2L458.4,440.2L460.9,440.2L463.5,440.2L466.0,440.2L468.6,440.2L471.3,440.3L473.9,440.3L476.6,440.3L479.3,440.3L482.1,440.3L484.8,440.3L487.6,440.4L490.5,440.4L493.3,440.4L496.2,440.4L499.1,440.4L502.1,440.4L505.1,440.5L508.1,440.5L511.1,440.5L514.2,440.5L517.2,440.5L520.4,440.6L523.5,440.6L526.7,440.6L529.9,440.6L533.2,440.6L536.5,440.6L539.8,440.7L543.1,440.7" fill="none" stroke="#ff7f0e" stroke-width="1.17" stroke-linecap="square" stroke-linejoin="round"/>
<rect x="309.4" y="329.1" width="233.7" height="111.9" fill="none" stroke="#000" stroke-width="0.75"/>
<line x1="306.67" y1="441" x2="309.4" y2="441" stroke="#000" stroke-width="0.75"/>
<text x="295.58" y="443.15" font-size="6.3" textLength="8.48" lengthAdjust="spacingAndGlyphs">0.0</text>
<line x1="306.67" y1="419.69" x2="309.4" y2="419.69" stroke="#000" stroke-width="0.75"/>
<text x="295.68" y="421.84" font-size="6.3" textLength="8.48" lengthAdjust="spacingAndGlyphs">0.2</text>
<line x1="306.67" y1="398.37" x2="309.4" y2="398.37" stroke="#000" stroke-width="0.75"/>
<text x="295.55" y="400.52" font-size="6.3" textLength="8.48" lengthAdjust="spacingAndGlyphs">0.4</text>
<line x1="306.67" y1="377.06" x2="309.4" y2="377.06" stroke="#000" stroke-width="0.75"/>
<text x="295.61" y="379.21" font-size="6.3" textLength="8.48" lengthAdjust="spacingAndGlyphs">0.6</text>
<line x1="306.67" y1="355.74" x2="309.4" y2="355.74" stroke="#000" stroke-width="0.75"/>
<text x="295.61" y="357.89" font-size="6.3" textLength="8.48" lengthAdjust="spacingAndGlyphs">0.8</text>
<line x1="306.67" y1="334.43" x2="309.4" y2="334.43" stroke="#000" stroke-width="0.75"/>
<text x="295.58" y="336.58" font-size="6.3" textLength="8.48" lengthAdjust="spacingAndGlyphs">1.0</text>
<line x1="309.4" y1="441" x2="309.4" y2="443.73" stroke="#000" stroke-width="0.75"/>
<text x="305.15" y="450.4" font-size="6.3" textLength="8.48" lengthAdjust="spacingAndGlyphs">0.0</text>
<line x1="356.14" y1="441" x2="356.14" y2="443.73" stroke="#000" stroke-width="0.75"/>
<text x="351.93" y="450.4" font-size="6.3" textLength="8.48" lengthAdjust="spacingAndGlyphs">0.2</text>
<line x1="402.88" y1="441" x2="402.88" y2="443.73" stroke="#000" stroke-width="0.75"/>
<text x="398.61" y="450.4" font-size="6.3" textLength="8.48" lengthAdjust="spacingAndGlyphs">0.4</text>
<line x1="449.62" y1="441" x2="449.62" y2="443.73" stroke="#000" stroke-width="0.75"/>
<text x="445.38" y="450.4" font-size="6.3" textLength="8.48" lengthAdjust="spacingAndGlyphs">0.6</text>
<line x1="496.36" y1="441" x2="496.36" y2="443.73" stroke="#000" stroke-width="0.75"/>
<text x="492.12" y="450.4" font-size="6.3" textLength="8.48" lengthAdjust="spacingAndGlyphs">0.8</text>
<line x1="543.1" y1="441" x2="543.1" y2="443.73" stroke="#000" stroke-width="0.75"/>
<text x="538.74" y="450.4" font-size="6.3" textLength="8.48" lengthAdjust="spacingAndGlyphs">1.0</text>
<text x="414.73" y="460.9" font-size="8.2" textLength="22.99" lengthAdjust="spacingAndGlyphs">Recall</text>
<text transform="translate(290.75,385.95) rotate(-90)" x="-17.3" y="0" font-size="8.2" textLength="34.63" lengthAdjust="spacingAndGlyphs">Precision</text>
<text x="332.81" y="324.2" font-size="8.0" textLength="4.76" lengthAdjust="spacingAndGlyphs" font-weight="bold">F</text>
<text x="340.51" y="324.2" font-size="8.0" textLength="179.22" lengthAdjust="spacingAndGlyphs">Held Out Data (0.3% Positive) Precision Recall</text>
<rect x="452.3" y="332.1" width="87.8" height="72.16" rx="1.2" fill="#fff" fill-opacity="0.8" stroke="#ccc" stroke-width="0.78"/>
<line x1="454.6" y1="336.9" x2="466" y2="336.9" stroke="#1f77b4" stroke-width="1.3" stroke-dasharray="1.1 0.8" stroke-opacity="0.55"/>
<text x="471.4" y="339.3" font-size="6.5" textLength="66.18" lengthAdjust="spacingAndGlyphs">Li 2020 Deep Ensemble</text>
<line x1="454.6" y1="345.68" x2="466" y2="345.68" stroke="#ff7f0e" stroke-width="1.3" stroke-dasharray="1.1 0.8" stroke-opacity="0.55"/>
<text x="471.4" y="348.08" font-size="6.5" textLength="36.2" lengthAdjust="spacingAndGlyphs">Du 2017 Sep</text>
<line x1="454.6" y1="354.46" x2="466" y2="354.46" stroke="#e377c2" stroke-width="1.3" stroke-dasharray="1.1 0.8" stroke-opacity="0.55"/>
<text x="471.4" y="356.86" font-size="6.5" textLength="65.83" lengthAdjust="spacingAndGlyphs">Pan 2010 PSAAC Rand</text>
<line x1="454.6" y1="363.24" x2="466" y2="363.24" stroke="#8c564b" stroke-width="1.3" stroke-dasharray="1.1 0.8" stroke-opacity="0.55"/>
<text x="471.81" y="365.64" font-size="6.5" textLength="33.43" lengthAdjust="spacingAndGlyphs">Jia 2019 RF</text>
<line x1="454.6" y1="372.02" x2="466" y2="372.02" stroke="#7f7f7f" stroke-width="1.3" stroke-dasharray="1.1 0.8" stroke-opacity="0.55"/>
<text x="471.59" y="374.42" font-size="6.5" textLength="54.11" lengthAdjust="spacingAndGlyphs">Goktepe 2018 SVM</text>
<line x1="454.6" y1="380.8" x2="466" y2="380.8" stroke="#bcbd22" stroke-width="1.3" stroke-dasharray="1.1 0.8" stroke-opacity="0.55"/>
<text x="471.4" y="383.2" font-size="6.5" textLength="41.7" lengthAdjust="spacingAndGlyphs">Du 2017 Comb</text>
<line x1="454.6" y1="389.58" x2="466" y2="389.58" stroke="#17becf" stroke-width="1.3" stroke-dasharray="1.1 0.8" stroke-opacity="0.55"/>
<text x="471.4" y="391.98" font-size="6.5" textLength="60.66" lengthAdjust="spacingAndGlyphs">Pan 2010 PSAAC Rot</text>
<line x1="455.18" y1="398.36" x2="465.41" y2="398.36" stroke="#ff7f0e" stroke-width="1.17" stroke-linecap="square"/>
<text x="471.4" y="400.76" font-size="6.5" textLength="37.22" lengthAdjust="spacingAndGlyphs">Bias Seq Sim</text>
</svg></body></html>
